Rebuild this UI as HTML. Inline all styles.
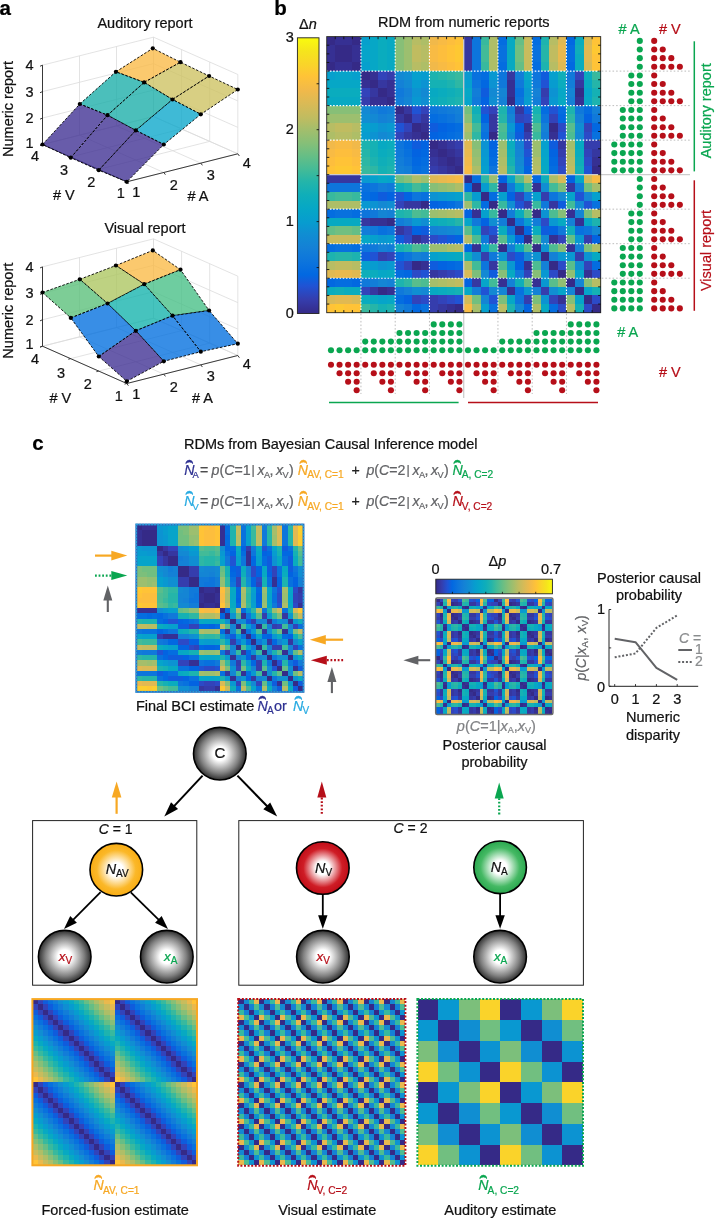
<!DOCTYPE html>
<html lang="en"><head><meta charset="utf-8"><title>Figure</title>
<style>html,body{margin:0;padding:0;background:#fff}svg{display:block}text{font-family:'Liberation Sans', Arial, Helvetica, sans-serif;stroke-width:.22px}.i{font-style:italic}</style>
</head><body>
<svg width="715" height="1218" viewBox="0 0 715 1218">
<rect width="715" height="1218" fill="#fff"/>
<text x="-0.4" y="15.3" text-anchor="start" fill="#000" stroke="#000" font-size="20.5" font-weight="bold">a</text>
<text x="274.2" y="14.8" text-anchor="start" fill="#000" stroke="#000" font-size="20.5" font-weight="bold">b</text>
<text x="32.2" y="450.4" text-anchor="start" fill="#000" stroke="#000" font-size="20.5" font-weight="bold">c</text>
<g id="panel-a">
<line x1="42.5" y1="144.51" x2="153.5" y2="116.52" stroke="#dcdcdc" stroke-width="0.8"/>
<line x1="153.5" y1="116.52" x2="237.8" y2="153.81" stroke="#dcdcdc" stroke-width="0.8"/>
<line x1="42.5" y1="118.06" x2="153.5" y2="90.07" stroke="#dcdcdc" stroke-width="0.8"/>
<line x1="153.5" y1="90.07" x2="237.8" y2="127.36" stroke="#dcdcdc" stroke-width="0.8"/>
<line x1="42.5" y1="91.61" x2="153.5" y2="63.62" stroke="#dcdcdc" stroke-width="0.8"/>
<line x1="153.5" y1="63.62" x2="237.8" y2="100.91" stroke="#dcdcdc" stroke-width="0.8"/>
<line x1="42.5" y1="65.16" x2="153.5" y2="37.17" stroke="#dcdcdc" stroke-width="0.8"/>
<line x1="153.5" y1="37.17" x2="237.8" y2="74.46" stroke="#dcdcdc" stroke-width="0.8"/>
<line x1="42.5" y1="144.51" x2="42.5" y2="65.16" stroke="#dcdcdc" stroke-width="0.8"/>
<line x1="42.5" y1="144.51" x2="126.8" y2="181.8" stroke="#dcdcdc" stroke-width="0.8"/>
<line x1="79.5" y1="135.18" x2="79.5" y2="55.83" stroke="#dcdcdc" stroke-width="0.8"/>
<line x1="79.5" y1="135.18" x2="163.8" y2="172.47" stroke="#dcdcdc" stroke-width="0.8"/>
<line x1="116.5" y1="125.85" x2="116.5" y2="46.5" stroke="#dcdcdc" stroke-width="0.8"/>
<line x1="116.5" y1="125.85" x2="200.8" y2="163.14" stroke="#dcdcdc" stroke-width="0.8"/>
<line x1="153.5" y1="116.52" x2="153.5" y2="37.17" stroke="#dcdcdc" stroke-width="0.8"/>
<line x1="153.5" y1="116.52" x2="237.8" y2="153.81" stroke="#dcdcdc" stroke-width="0.8"/>
<line x1="237.8" y1="153.81" x2="237.8" y2="74.46" stroke="#dcdcdc" stroke-width="0.8"/>
<line x1="237.8" y1="153.81" x2="126.8" y2="181.8" stroke="#dcdcdc" stroke-width="0.8"/>
<line x1="209.7" y1="141.38" x2="209.7" y2="62.03" stroke="#dcdcdc" stroke-width="0.8"/>
<line x1="209.7" y1="141.38" x2="98.7" y2="169.37" stroke="#dcdcdc" stroke-width="0.8"/>
<line x1="181.6" y1="128.95" x2="181.6" y2="49.6" stroke="#dcdcdc" stroke-width="0.8"/>
<line x1="181.6" y1="128.95" x2="70.6" y2="156.94" stroke="#dcdcdc" stroke-width="0.8"/>
<line x1="153.5" y1="116.52" x2="153.5" y2="37.17" stroke="#dcdcdc" stroke-width="0.8"/>
<line x1="153.5" y1="116.52" x2="42.5" y2="144.51" stroke="#dcdcdc" stroke-width="0.8"/>
<line x1="42.5" y1="144.51" x2="42.5" y2="65.16" stroke="#262626" stroke-width="0.9"/>
<line x1="42.5" y1="144.51" x2="126.8" y2="181.8" stroke="#262626" stroke-width="0.9"/>
<line x1="126.8" y1="181.8" x2="237.8" y2="153.81" stroke="#262626" stroke-width="0.9"/>
<line x1="42.5" y1="144.51" x2="40" y2="145.61" stroke="#262626" stroke-width="0.9"/>
<text x="33.5" y="147.51" text-anchor="end" fill="#111" stroke="#111" font-size="14.5">1</text>
<line x1="42.5" y1="118.06" x2="40" y2="119.16" stroke="#262626" stroke-width="0.9"/>
<text x="33.5" y="123.06" text-anchor="end" fill="#111" stroke="#111" font-size="14.5">2</text>
<line x1="42.5" y1="91.61" x2="40" y2="92.71" stroke="#262626" stroke-width="0.9"/>
<text x="33.5" y="96.61" text-anchor="end" fill="#111" stroke="#111" font-size="14.5">3</text>
<line x1="42.5" y1="65.16" x2="40" y2="66.26" stroke="#262626" stroke-width="0.9"/>
<text x="33.5" y="70.16" text-anchor="end" fill="#111" stroke="#111" font-size="14.5">4</text>
<line x1="126.8" y1="181.8" x2="124.5" y2="182.4" stroke="#262626" stroke-width="0.9"/>
<line x1="98.7" y1="169.37" x2="96.4" y2="169.97" stroke="#262626" stroke-width="0.9"/>
<line x1="70.6" y1="156.94" x2="68.3" y2="157.54" stroke="#262626" stroke-width="0.9"/>
<line x1="42.5" y1="144.51" x2="40.2" y2="145.11" stroke="#262626" stroke-width="0.9"/>
<line x1="126.8" y1="181.8" x2="128.4" y2="184" stroke="#262626" stroke-width="0.9"/>
<line x1="163.8" y1="172.47" x2="165.4" y2="174.67" stroke="#262626" stroke-width="0.9"/>
<line x1="200.8" y1="163.14" x2="202.4" y2="165.34" stroke="#262626" stroke-width="0.9"/>
<line x1="237.8" y1="153.81" x2="239.4" y2="156.01" stroke="#262626" stroke-width="0.9"/>
<text x="35.1" y="161" text-anchor="middle" fill="#111" stroke="#111" font-size="14.5">4</text>
<text x="64" y="175" text-anchor="middle" fill="#111" stroke="#111" font-size="14.5">3</text>
<text x="91.4" y="186.5" text-anchor="middle" fill="#111" stroke="#111" font-size="14.5">2</text>
<text x="120.7" y="198.4" text-anchor="middle" fill="#111" stroke="#111" font-size="14.5">1</text>
<text x="136.4" y="197.4" text-anchor="middle" fill="#111" stroke="#111" font-size="14.5">1</text>
<text x="173.7" y="190" text-anchor="middle" fill="#111" stroke="#111" font-size="14.5">2</text>
<text x="210.7" y="179.7" text-anchor="middle" fill="#111" stroke="#111" font-size="14.5">3</text>
<text x="246.8" y="167.5" text-anchor="middle" fill="#111" stroke="#111" font-size="14.5">4</text>
<text x="63.8" y="199.7" text-anchor="middle" fill="#111" stroke="#111" font-size="14.5"># V</text>
<text x="197.9" y="200.6" text-anchor="middle" fill="#111" stroke="#111" font-size="14.5"># A</text>
<text transform="translate(12.6,109) rotate(-90)" text-anchor="middle" fill="#111" stroke="#111" font-size="14.5">Numeric report</text>
<text x="145" y="28" text-anchor="middle" fill="#111" stroke="#111" font-size="14.5">Auditory report</text>
<polygon points="115.9,71.8 152.8,48.3 180.5,62.2 144.2,82.4" fill="#faba45" fill-opacity="0.78" stroke="#000" stroke-width="0.9" stroke-dasharray="2.6 1.6"/>
<polygon points="79.8,104 115.9,71.8 144.2,82.4 107.5,115.2" fill="#18ada8" fill-opacity="0.78" stroke="#000" stroke-width="0.9" stroke-dasharray="2.6 1.6"/>
<polygon points="42.5,144.5 79.8,104 107.5,115.2 70.8,157.7" fill="#3d2e92" fill-opacity="0.78" stroke="#000" stroke-width="0.9" stroke-dasharray="2.6 1.6"/>
<polygon points="144.2,82.4 180.5,62.2 209.1,76 172.5,99.5" fill="#cdc160" fill-opacity="0.78" stroke="#000" stroke-width="0.9" stroke-dasharray="2.6 1.6"/>
<polygon points="107.5,115.2 144.2,82.4 172.5,99.5 135.8,130.4" fill="#18ada8" fill-opacity="0.78" stroke="#000" stroke-width="0.9" stroke-dasharray="2.6 1.6"/>
<polygon points="70.8,157.7 107.5,115.2 135.8,130.4 98.8,170.2" fill="#3d2e92" fill-opacity="0.78" stroke="#000" stroke-width="0.9" stroke-dasharray="2.6 1.6"/>
<polygon points="172.5,99.5 209.1,76 237.8,89.5 200.8,114.3" fill="#cdc160" fill-opacity="0.78" stroke="#000" stroke-width="0.9" stroke-dasharray="2.6 1.6"/>
<polygon points="135.8,130.4 172.5,99.5 200.8,114.3 163.8,144.5" fill="#09a7ca" fill-opacity="0.78" stroke="#000" stroke-width="0.9" stroke-dasharray="2.6 1.6"/>
<polygon points="98.8,170.2 135.8,130.4 163.8,144.5 126.8,181.8" fill="#3d2e92" fill-opacity="0.78" stroke="#000" stroke-width="0.9" stroke-dasharray="2.6 1.6"/>
<circle cx="42.5" cy="144.5" r="2.1" fill="#000"/>
<circle cx="79.8" cy="104" r="2.1" fill="#000"/>
<circle cx="115.9" cy="71.8" r="2.1" fill="#000"/>
<circle cx="152.8" cy="48.3" r="2.1" fill="#000"/>
<circle cx="70.8" cy="157.7" r="2.1" fill="#000"/>
<circle cx="107.5" cy="115.2" r="2.1" fill="#000"/>
<circle cx="144.2" cy="82.4" r="2.1" fill="#000"/>
<circle cx="180.5" cy="62.2" r="2.1" fill="#000"/>
<circle cx="98.8" cy="170.2" r="2.1" fill="#000"/>
<circle cx="135.8" cy="130.4" r="2.1" fill="#000"/>
<circle cx="172.5" cy="99.5" r="2.1" fill="#000"/>
<circle cx="209.1" cy="76" r="2.1" fill="#000"/>
<circle cx="126.8" cy="181.8" r="2.1" fill="#000"/>
<circle cx="163.8" cy="144.5" r="2.1" fill="#000"/>
<circle cx="200.8" cy="114.3" r="2.1" fill="#000"/>
<circle cx="237.8" cy="89.5" r="2.1" fill="#000"/>
<line x1="42.5" y1="346.21" x2="153.5" y2="318.22" stroke="#dcdcdc" stroke-width="0.8"/>
<line x1="153.5" y1="318.22" x2="237.8" y2="355.51" stroke="#dcdcdc" stroke-width="0.8"/>
<line x1="42.5" y1="319.76" x2="153.5" y2="291.77" stroke="#dcdcdc" stroke-width="0.8"/>
<line x1="153.5" y1="291.77" x2="237.8" y2="329.06" stroke="#dcdcdc" stroke-width="0.8"/>
<line x1="42.5" y1="293.31" x2="153.5" y2="265.32" stroke="#dcdcdc" stroke-width="0.8"/>
<line x1="153.5" y1="265.32" x2="237.8" y2="302.61" stroke="#dcdcdc" stroke-width="0.8"/>
<line x1="42.5" y1="266.86" x2="153.5" y2="238.87" stroke="#dcdcdc" stroke-width="0.8"/>
<line x1="153.5" y1="238.87" x2="237.8" y2="276.16" stroke="#dcdcdc" stroke-width="0.8"/>
<line x1="42.5" y1="346.21" x2="42.5" y2="266.86" stroke="#dcdcdc" stroke-width="0.8"/>
<line x1="42.5" y1="346.21" x2="126.8" y2="383.5" stroke="#dcdcdc" stroke-width="0.8"/>
<line x1="79.5" y1="336.88" x2="79.5" y2="257.53" stroke="#dcdcdc" stroke-width="0.8"/>
<line x1="79.5" y1="336.88" x2="163.8" y2="374.17" stroke="#dcdcdc" stroke-width="0.8"/>
<line x1="116.5" y1="327.55" x2="116.5" y2="248.2" stroke="#dcdcdc" stroke-width="0.8"/>
<line x1="116.5" y1="327.55" x2="200.8" y2="364.84" stroke="#dcdcdc" stroke-width="0.8"/>
<line x1="153.5" y1="318.22" x2="153.5" y2="238.87" stroke="#dcdcdc" stroke-width="0.8"/>
<line x1="153.5" y1="318.22" x2="237.8" y2="355.51" stroke="#dcdcdc" stroke-width="0.8"/>
<line x1="237.8" y1="355.51" x2="237.8" y2="276.16" stroke="#dcdcdc" stroke-width="0.8"/>
<line x1="237.8" y1="355.51" x2="126.8" y2="383.5" stroke="#dcdcdc" stroke-width="0.8"/>
<line x1="209.7" y1="343.08" x2="209.7" y2="263.73" stroke="#dcdcdc" stroke-width="0.8"/>
<line x1="209.7" y1="343.08" x2="98.7" y2="371.07" stroke="#dcdcdc" stroke-width="0.8"/>
<line x1="181.6" y1="330.65" x2="181.6" y2="251.3" stroke="#dcdcdc" stroke-width="0.8"/>
<line x1="181.6" y1="330.65" x2="70.6" y2="358.64" stroke="#dcdcdc" stroke-width="0.8"/>
<line x1="153.5" y1="318.22" x2="153.5" y2="238.87" stroke="#dcdcdc" stroke-width="0.8"/>
<line x1="153.5" y1="318.22" x2="42.5" y2="346.21" stroke="#dcdcdc" stroke-width="0.8"/>
<line x1="42.5" y1="346.21" x2="42.5" y2="266.86" stroke="#262626" stroke-width="0.9"/>
<line x1="42.5" y1="346.21" x2="126.8" y2="383.5" stroke="#262626" stroke-width="0.9"/>
<line x1="126.8" y1="383.5" x2="237.8" y2="355.51" stroke="#262626" stroke-width="0.9"/>
<line x1="42.5" y1="346.21" x2="40" y2="347.31" stroke="#262626" stroke-width="0.9"/>
<text x="33.5" y="349.21" text-anchor="end" fill="#111" stroke="#111" font-size="14.5">1</text>
<line x1="42.5" y1="319.76" x2="40" y2="320.86" stroke="#262626" stroke-width="0.9"/>
<text x="33.5" y="324.76" text-anchor="end" fill="#111" stroke="#111" font-size="14.5">2</text>
<line x1="42.5" y1="293.31" x2="40" y2="294.41" stroke="#262626" stroke-width="0.9"/>
<text x="33.5" y="298.31" text-anchor="end" fill="#111" stroke="#111" font-size="14.5">3</text>
<line x1="42.5" y1="266.86" x2="40" y2="267.96" stroke="#262626" stroke-width="0.9"/>
<text x="33.5" y="271.86" text-anchor="end" fill="#111" stroke="#111" font-size="14.5">4</text>
<line x1="126.8" y1="383.5" x2="124.5" y2="384.1" stroke="#262626" stroke-width="0.9"/>
<line x1="98.7" y1="371.07" x2="96.4" y2="371.67" stroke="#262626" stroke-width="0.9"/>
<line x1="70.6" y1="358.64" x2="68.3" y2="359.24" stroke="#262626" stroke-width="0.9"/>
<line x1="42.5" y1="346.21" x2="40.2" y2="346.81" stroke="#262626" stroke-width="0.9"/>
<line x1="126.8" y1="383.5" x2="128.4" y2="385.7" stroke="#262626" stroke-width="0.9"/>
<line x1="163.8" y1="374.17" x2="165.4" y2="376.37" stroke="#262626" stroke-width="0.9"/>
<line x1="200.8" y1="364.84" x2="202.4" y2="367.04" stroke="#262626" stroke-width="0.9"/>
<line x1="237.8" y1="355.51" x2="239.4" y2="357.71" stroke="#262626" stroke-width="0.9"/>
<text x="35.1" y="363.7" text-anchor="middle" fill="#111" stroke="#111" font-size="14.5">4</text>
<text x="61" y="377.7" text-anchor="middle" fill="#111" stroke="#111" font-size="14.5">3</text>
<text x="87.9" y="389.2" text-anchor="middle" fill="#111" stroke="#111" font-size="14.5">2</text>
<text x="118.7" y="401.1" text-anchor="middle" fill="#111" stroke="#111" font-size="14.5">1</text>
<text x="136.4" y="399.1" text-anchor="middle" fill="#111" stroke="#111" font-size="14.5">1</text>
<text x="173.7" y="391.7" text-anchor="middle" fill="#111" stroke="#111" font-size="14.5">2</text>
<text x="210.7" y="381.4" text-anchor="middle" fill="#111" stroke="#111" font-size="14.5">3</text>
<text x="246.8" y="369.2" text-anchor="middle" fill="#111" stroke="#111" font-size="14.5">4</text>
<text x="60.3" y="403" text-anchor="middle" fill="#111" stroke="#111" font-size="14.5"># V</text>
<text x="202.4" y="403.3" text-anchor="middle" fill="#111" stroke="#111" font-size="14.5"># A</text>
<text transform="translate(12.6,310.7) rotate(-90)" text-anchor="middle" fill="#111" stroke="#111" font-size="14.5">Numeric report</text>
<text x="145" y="233.1" text-anchor="middle" fill="#111" stroke="#111" font-size="14.5">Visual report</text>
<polygon points="115.9,265.5 152.8,250.4 180.5,269.7 144.2,284.2" fill="#faba45" fill-opacity="0.78" stroke="#000" stroke-width="0.9" stroke-dasharray="2.6 1.6"/>
<polygon points="79.8,279.3 115.9,265.5 144.2,284.2 107.5,303.5" fill="#acc55f" fill-opacity="0.78" stroke="#000" stroke-width="0.9" stroke-dasharray="2.6 1.6"/>
<polygon points="42.5,292.5 79.8,279.3 107.5,303.5 70.8,317.9" fill="#58bf78" fill-opacity="0.78" stroke="#000" stroke-width="0.9" stroke-dasharray="2.6 1.6"/>
<polygon points="144.2,284.2 180.5,269.7 209.1,310.5 172.5,315.7" fill="#45bf85" fill-opacity="0.78" stroke="#000" stroke-width="0.9" stroke-dasharray="2.6 1.6"/>
<polygon points="107.5,303.5 144.2,284.2 172.5,315.7 135.8,330.8" fill="#12b2ac" fill-opacity="0.78" stroke="#000" stroke-width="0.9" stroke-dasharray="2.6 1.6"/>
<polygon points="70.8,317.9 107.5,303.5 135.8,330.8 98.8,356.5" fill="#006edf" fill-opacity="0.78" stroke="#000" stroke-width="0.9" stroke-dasharray="2.6 1.6"/>
<polygon points="172.5,315.7 209.1,310.5 237.8,343.7 200.8,351.7" fill="#006edf" fill-opacity="0.78" stroke="#000" stroke-width="0.9" stroke-dasharray="2.6 1.6"/>
<polygon points="135.8,330.8 172.5,315.7 200.8,351.7 163.8,361.3" fill="#006edf" fill-opacity="0.78" stroke="#000" stroke-width="0.9" stroke-dasharray="2.6 1.6"/>
<polygon points="98.8,356.5 135.8,330.8 163.8,361.3 126.8,381.3" fill="#3d2e92" fill-opacity="0.78" stroke="#000" stroke-width="0.9" stroke-dasharray="2.6 1.6"/>
<circle cx="42.5" cy="292.5" r="2.1" fill="#000"/>
<circle cx="79.8" cy="279.3" r="2.1" fill="#000"/>
<circle cx="115.9" cy="265.5" r="2.1" fill="#000"/>
<circle cx="152.8" cy="250.4" r="2.1" fill="#000"/>
<circle cx="70.8" cy="317.9" r="2.1" fill="#000"/>
<circle cx="107.5" cy="303.5" r="2.1" fill="#000"/>
<circle cx="144.2" cy="284.2" r="2.1" fill="#000"/>
<circle cx="180.5" cy="269.7" r="2.1" fill="#000"/>
<circle cx="98.8" cy="356.5" r="2.1" fill="#000"/>
<circle cx="135.8" cy="330.8" r="2.1" fill="#000"/>
<circle cx="172.5" cy="315.7" r="2.1" fill="#000"/>
<circle cx="209.1" cy="310.5" r="2.1" fill="#000"/>
<circle cx="126.8" cy="381.3" r="2.1" fill="#000"/>
<circle cx="163.8" cy="361.3" r="2.1" fill="#000"/>
<circle cx="200.8" cy="351.7" r="2.1" fill="#000"/>
<circle cx="237.8" cy="343.7" r="2.1" fill="#000"/>
</g>
<g id="panel-b">
<g transform="translate(326.7,36.6) scale(8.56250,8.62813)" shape-rendering="crispEdges">
<path fill="#352a87" d="M0 0h1v1h-1zM3 0h1v1h-1zM1 1h2v1h-2zM1 2h2v1h-2zM0 3h1v1h-1zM3 3h1v1h-1zM4 4h1v1h-1zM5 5h1v1h-1zM6 6h1v1h-1zM29 6h1v1h-1zM7 7h1v1h-1zM21 7h1v1h-1zM8 8h1v1h-1zM9 9h1v1h-1zM10 10h1v1h-1zM26 10h1v1h-1zM11 11h1v1h-1zM19 11h1v1h-1zM12 12h1v1h-1zM13 13h1v1h-1zM14 14h1v1h-1zM15 15h1v1h-1zM31 15h1v1h-1zM16 16h1v1h-1zM17 17h1v1h-1zM18 18h1v1h-1zM11 19h1v1h-1zM19 19h1v1h-1zM20 20h1v1h-1zM24 20h1v1h-1zM7 21h1v1h-1zM21 21h1v1h-1zM22 22h1v1h-1zM23 23h1v1h-1zM20 24h1v1h-1zM24 24h1v1h-1zM25 25h1v1h-1zM10 26h1v1h-1zM26 26h1v1h-1zM27 27h1v1h-1zM28 28h1v1h-1zM6 29h1v1h-1zM29 29h1v1h-1zM30 30h1v1h-1zM15 31h1v1h-1zM31 31h1v1h-1z"/>
<path fill="#363093" d="M1 0h2v1h-2zM0 1h1v1h-1zM3 1h1v1h-1zM0 2h1v1h-1zM3 2h1v1h-1zM1 3h2v1h-2zM5 4h1v1h-1zM4 5h1v1h-1zM7 5h1v1h-1zM21 5h1v1h-1zM7 6h1v1h-1zM21 6h1v1h-1zM5 7h2v1h-2zM29 7h1v1h-1zM11 10h1v1h-1zM23 10h1v1h-1zM10 11h1v1h-1zM26 11h1v1h-1zM13 12h1v1h-1zM12 13h1v1h-1zM14 13h1v1h-1zM13 14h1v1h-1zM15 14h1v1h-1zM31 14h1v1h-1zM14 15h1v1h-1zM20 17h1v1h-1zM24 17h1v1h-1zM17 20h1v1h-1zM28 20h1v1h-1zM5 21h2v1h-2zM29 21h1v1h-1zM10 23h1v1h-1zM26 23h1v1h-1zM17 24h1v1h-1zM28 24h1v1h-1zM11 26h1v1h-1zM23 26h1v1h-1zM30 27h1v1h-1zM20 28h1v1h-1zM24 28h1v1h-1zM7 29h1v1h-1zM21 29h1v1h-1zM27 30h1v1h-1zM14 31h1v1h-1z"/>
<path fill="#3637a0" d="M16 0h1v1h-1zM16 1h1v1h-1zM16 2h1v1h-1zM16 3h1v1h-1zM21 4h1v1h-1zM6 5h1v1h-1zM29 5h1v1h-1zM5 6h1v1h-1zM9 8h1v1h-1zM22 8h1v1h-1zM8 9h1v1h-1zM11 9h1v1h-1zM19 9h1v1h-1zM19 10h1v1h-1zM9 11h1v1h-1zM14 12h1v1h-1zM27 12h1v1h-1zM15 13h1v1h-1zM31 13h1v1h-1zM12 14h1v1h-1zM13 15h1v1h-1zM0 16h4v1h-4zM28 17h1v1h-1zM9 19h2v1h-2zM26 19h1v1h-1zM4 21h1v1h-1zM8 22h1v1h-1zM19 26h1v1h-1zM12 27h1v1h-1zM17 28h1v1h-1zM5 29h1v1h-1zM13 31h1v1h-1z"/>
<path fill="#353dad" d="M7 4h1v1h-1zM25 6h1v1h-1zM4 7h1v1h-1zM23 11h1v1h-1zM15 12h1v1h-1zM30 12h2v1h-2zM27 13h1v1h-1zM12 15h1v1h-1zM25 18h1v1h-1zM23 19h1v1h-1zM11 23h1v1h-1zM19 23h1v1h-1zM30 23h1v1h-1zM6 25h1v1h-1zM18 25h1v1h-1zM29 25h1v1h-1zM13 27h1v1h-1zM25 29h1v1h-1zM12 30h1v1h-1zM23 30h1v1h-1zM12 31h1v1h-1z"/>
<path fill="#3243ba" d="M6 4h1v1h-1zM29 4h1v1h-1zM4 6h1v1h-1zM25 7h1v1h-1zM11 8h1v1h-1zM19 8h1v1h-1zM10 9h1v1h-1zM22 9h1v1h-1zM26 9h1v1h-1zM9 10h1v1h-1zM30 10h1v1h-1zM8 11h1v1h-1zM30 13h1v1h-1zM27 14h1v1h-1zM22 18h1v1h-1zM8 19h1v1h-1zM9 22h1v1h-1zM18 22h1v1h-1zM27 23h1v1h-1zM7 25h1v1h-1zM9 26h1v1h-1zM30 26h1v1h-1zM14 27h1v1h-1zM23 27h1v1h-1zM4 29h1v1h-1zM10 30h1v1h-1zM13 30h1v1h-1zM26 30h1v1h-1z"/>
<path fill="#2c4ac7" d="M23 9h1v1h-1zM27 10h1v1h-1zM30 11h1v1h-1zM23 12h1v1h-1zM30 14h1v1h-1zM27 15h1v1h-1zM25 21h1v1h-1zM9 23h1v1h-1zM12 23h1v1h-1zM21 25h1v1h-1zM27 26h1v1h-1zM10 27h1v1h-1zM15 27h1v1h-1zM26 27h1v1h-1zM31 27h1v1h-1zM11 30h1v1h-1zM14 30h1v1h-1zM31 30h1v1h-1zM27 31h1v1h-1zM30 31h1v1h-1z"/>
<path fill="#2053d4" d="M25 5h1v1h-1zM10 8h1v1h-1zM18 8h1v1h-1zM26 8h1v1h-1zM8 10h1v1h-1zM27 11h1v1h-1zM23 13h1v1h-1zM30 15h1v1h-1zM8 18h1v1h-1zM29 18h1v1h-1zM22 19h1v1h-1zM30 19h1v1h-1zM19 22h1v1h-1zM13 23h1v1h-1zM5 25h1v1h-1zM8 26h1v1h-1zM11 27h1v1h-1zM18 29h1v1h-1zM15 30h1v1h-1zM19 30h1v1h-1z"/>
<path fill="#0f5cdd" d="M25 4h1v1h-1zM18 6h1v1h-1zM23 8h1v1h-1zM12 10h1v1h-1zM22 11h1v1h-1zM10 12h1v1h-1zM26 12h1v1h-1zM23 14h1v1h-1zM6 18h1v1h-1zM27 19h1v1h-1zM11 22h1v1h-1zM25 22h1v1h-1zM8 23h1v1h-1zM14 23h1v1h-1zM4 25h1v1h-1zM22 25h1v1h-1zM12 26h1v1h-1zM19 27h1v1h-1z"/>
<path fill="#0363e1" d="M18 7h1v1h-1zM18 9h1v1h-1zM30 9h1v1h-1zM13 10h1v1h-1zM22 10h1v1h-1zM12 11h1v1h-1zM11 12h1v1h-1zM19 12h1v1h-1zM10 13h1v1h-1zM26 13h1v1h-1zM23 15h1v1h-1zM20 16h1v1h-1zM28 16h1v1h-1zM7 18h1v1h-1zM9 18h1v1h-1zM21 18h1v1h-1zM12 19h1v1h-1zM16 20h1v1h-1zM18 21h1v1h-1zM10 22h1v1h-1zM26 22h1v1h-1zM15 23h1v1h-1zM31 23h1v1h-1zM13 26h1v1h-1zM22 26h1v1h-1zM16 28h1v1h-1zM9 30h1v1h-1zM23 31h1v1h-1z"/>
<path fill="#0268e1" d="M28 0h1v1h-1zM28 3h1v1h-1zM18 5h1v1h-1zM27 9h1v1h-1zM14 10h1v1h-1zM31 10h1v1h-1zM13 11h1v1h-1zM11 13h1v1h-1zM19 13h1v1h-1zM10 14h1v1h-1zM26 14h1v1h-1zM24 16h1v1h-1zM5 18h1v1h-1zM13 19h1v1h-1zM23 22h1v1h-1zM22 23h1v1h-1zM16 24h1v1h-1zM14 26h1v1h-1zM9 27h1v1h-1zM0 28h1v1h-1zM3 28h1v1h-1zM10 31h1v1h-1z"/>
<path fill="#046de0" d="M20 0h1v1h-1zM24 0h1v1h-1zM28 1h1v1h-1zM28 2h1v1h-1zM20 3h1v1h-1zM24 3h1v1h-1zM18 4h1v1h-1zM25 8h1v1h-1zM27 8h1v1h-1zM30 8h1v1h-1zM12 9h1v1h-1zM15 10h1v1h-1zM14 11h1v1h-1zM9 12h1v1h-1zM11 14h1v1h-1zM19 14h1v1h-1zM10 15h1v1h-1zM26 15h1v1h-1zM17 16h1v1h-1zM16 17h1v1h-1zM4 18h1v1h-1zM19 18h1v1h-1zM14 19h1v1h-1zM18 19h1v1h-1zM0 20h1v1h-1zM3 20h1v1h-1zM0 24h1v1h-1zM3 24h1v1h-1zM8 25h1v1h-1zM15 26h1v1h-1zM31 26h1v1h-1zM8 27h1v1h-1zM1 28h2v1h-2zM8 30h1v1h-1zM26 31h1v1h-1z"/>
<path fill="#0871de" d="M20 1h1v1h-1zM24 1h1v1h-1zM20 2h1v1h-1zM24 2h1v1h-1zM17 4h1v1h-1zM22 6h1v1h-1zM13 9h1v1h-1zM15 11h1v1h-1zM18 11h1v1h-1zM31 11h1v1h-1zM9 13h1v1h-1zM11 15h1v1h-1zM4 17h1v1h-1zM11 18h1v1h-1zM31 19h1v1h-1zM1 20h2v1h-2zM6 22h1v1h-1zM29 22h1v1h-1zM1 24h2v1h-2zM22 29h1v1h-1zM11 31h1v1h-1zM19 31h1v1h-1z"/>
<path fill="#0d75dc" d="M17 0h1v1h-1zM17 1h1v1h-1zM17 2h1v1h-1zM17 3h1v1h-1zM20 4h1v1h-1zM24 4h1v1h-1zM17 5h1v1h-1zM22 7h1v1h-1zM12 8h1v1h-1zM14 9h1v1h-1zM25 9h1v1h-1zM18 10h1v1h-1zM8 12h1v1h-1zM9 14h1v1h-1zM19 15h1v1h-1zM0 17h4v1h-4zM5 17h1v1h-1zM10 18h1v1h-1zM26 18h1v1h-1zM15 19h1v1h-1zM4 20h1v1h-1zM22 21h1v1h-1zM7 22h1v1h-1zM21 22h1v1h-1zM30 22h1v1h-1zM4 24h1v1h-1zM9 25h1v1h-1zM18 26h1v1h-1zM22 30h1v1h-1z"/>
<path fill="#1079da" d="M28 4h1v1h-1zM20 5h1v1h-1zM22 5h1v1h-1zM24 5h1v1h-1zM8 6h1v1h-1zM17 7h1v1h-1zM6 8h1v1h-1zM13 8h1v1h-1zM29 8h1v1h-1zM31 9h1v1h-1zM8 13h1v1h-1zM7 17h1v1h-1zM21 17h1v1h-1zM23 18h1v1h-1zM25 19h1v1h-1zM5 20h1v1h-1zM17 21h1v1h-1zM5 22h1v1h-1zM27 22h1v1h-1zM18 23h1v1h-1zM5 24h1v1h-1zM19 25h1v1h-1zM22 27h1v1h-1zM4 28h1v1h-1zM8 29h1v1h-1zM9 31h1v1h-1z"/>
<path fill="#127dd8" d="M22 4h1v1h-1zM28 5h1v1h-1zM17 6h1v1h-1zM8 7h1v1h-1zM24 7h1v1h-1zM7 8h1v1h-1zM14 8h1v1h-1zM21 8h1v1h-1zM15 9h1v1h-1zM25 11h1v1h-1zM8 14h1v1h-1zM9 15h1v1h-1zM6 17h1v1h-1zM29 17h1v1h-1zM21 20h1v1h-1zM8 21h1v1h-1zM20 21h1v1h-1zM24 21h1v1h-1zM4 22h1v1h-1zM7 24h1v1h-1zM21 24h1v1h-1zM11 25h1v1h-1zM5 28h1v1h-1zM17 29h1v1h-1z"/>
<path fill="#1481d6" d="M8 5h1v1h-1zM9 6h1v1h-1zM24 6h1v1h-1zM20 7h1v1h-1zM28 7h1v1h-1zM5 8h1v1h-1zM15 8h1v1h-1zM31 8h1v1h-1zM6 9h1v1h-1zM29 9h1v1h-1zM25 10h1v1h-1zM22 12h1v1h-1zM8 15h1v1h-1zM7 20h1v1h-1zM28 21h1v1h-1zM12 22h1v1h-1zM6 24h1v1h-1zM29 24h1v1h-1zM10 25h1v1h-1zM26 25h1v1h-1zM25 26h1v1h-1zM7 28h1v1h-1zM21 28h1v1h-1zM9 29h1v1h-1zM24 29h1v1h-1zM8 31h1v1h-1z"/>
<path fill="#1485d4" d="M20 6h1v1h-1zM28 6h1v1h-1zM9 7h1v1h-1zM7 9h1v1h-1zM21 9h1v1h-1zM22 13h1v1h-1zM30 18h1v1h-1zM6 20h1v1h-1zM29 20h1v1h-1zM9 21h1v1h-1zM13 22h1v1h-1zM6 28h1v1h-1zM29 28h1v1h-1zM20 29h1v1h-1zM28 29h1v1h-1zM18 30h1v1h-1z"/>
<path fill="#1389d3" d="M8 4h1v1h-1zM9 5h1v1h-1zM11 6h1v1h-1zM19 6h1v1h-1zM4 8h1v1h-1zM5 9h1v1h-1zM6 11h1v1h-1zM29 11h1v1h-1zM22 14h1v1h-1zM27 18h1v1h-1zM6 19h1v1h-1zM29 19h1v1h-1zM14 22h1v1h-1zM31 22h1v1h-1zM25 23h1v1h-1zM23 25h1v1h-1zM18 27h1v1h-1zM11 29h1v1h-1zM19 29h1v1h-1zM22 31h1v1h-1z"/>
<path fill="#108ed2" d="M9 4h1v1h-1zM11 7h1v1h-1zM19 7h1v1h-1zM4 9h1v1h-1zM29 10h1v1h-1zM7 11h1v1h-1zM21 11h1v1h-1zM22 15h1v1h-1zM25 17h1v1h-1zM7 19h1v1h-1zM21 19h1v1h-1zM11 21h1v1h-1zM19 21h1v1h-1zM15 22h1v1h-1zM17 25h1v1h-1zM29 26h1v1h-1zM10 29h1v1h-1zM26 29h1v1h-1z"/>
<path fill="#0c93d2" d="M11 5h1v1h-1zM19 5h1v1h-1zM10 6h1v1h-1zM26 6h1v1h-1zM6 10h1v1h-1zM5 11h1v1h-1zM18 12h1v1h-1zM12 18h1v1h-1zM5 19h1v1h-1zM25 20h1v1h-1zM25 24h1v1h-1zM20 25h1v1h-1zM24 25h1v1h-1zM30 25h1v1h-1zM6 26h1v1h-1zM25 30h1v1h-1z"/>
<path fill="#0998d1" d="M16 4h1v1h-1zM19 4h1v1h-1zM23 6h1v1h-1zM10 7h1v1h-1zM26 7h1v1h-1zM7 10h1v1h-1zM21 10h1v1h-1zM18 13h1v1h-1zM4 16h1v1h-1zM13 18h1v1h-1zM4 19h1v1h-1zM10 21h1v1h-1zM26 21h1v1h-1zM6 23h1v1h-1zM29 23h1v1h-1zM27 25h2v1h-2zM7 26h1v1h-1zM21 26h1v1h-1zM25 27h1v1h-1zM25 28h1v1h-1zM23 29h1v1h-1z"/>
<path fill="#079ccf" d="M11 4h1v1h-1zM10 5h1v1h-1zM26 5h1v1h-1zM23 7h1v1h-1zM5 10h1v1h-1zM4 11h1v1h-1zM18 14h1v1h-1zM18 17h1v1h-1zM14 18h1v1h-1zM17 18h1v1h-1zM23 21h1v1h-1zM7 23h1v1h-1zM21 23h1v1h-1zM5 26h1v1h-1z"/>
<path fill="#06a0cd" d="M4 0h1v1h-1zM4 3h1v1h-1zM0 4h1v1h-1zM3 4h1v1h-1zM10 4h1v1h-1zM26 4h1v1h-1zM16 5h1v1h-1zM23 5h1v1h-1zM4 10h1v1h-1zM25 12h1v1h-1zM18 15h1v1h-1zM5 16h1v1h-1zM15 18h1v1h-1zM20 18h1v1h-1zM24 18h1v1h-1zM31 18h1v1h-1zM18 20h1v1h-1zM5 23h1v1h-1zM18 24h1v1h-1zM12 25h1v1h-1zM4 26h1v1h-1zM18 31h1v1h-1z"/>
<path fill="#06a4ca" d="M4 1h1v1h-1zM4 2h1v1h-1zM1 4h2v1h-2zM30 6h1v1h-1zM16 7h1v1h-1zM25 13h1v1h-1zM7 16h1v1h-1zM21 16h1v1h-1zM28 18h1v1h-1zM16 21h1v1h-1zM13 25h1v1h-1zM29 27h1v1h-1zM18 28h1v1h-1zM27 29h1v1h-1zM30 29h1v1h-1zM6 30h1v1h-1zM29 30h1v1h-1z"/>
<path fill="#06a7c6" d="M5 0h1v1h-1zM5 1h1v1h-1zM5 2h1v1h-1zM5 3h1v1h-1zM23 4h1v1h-1zM0 5h4v1h-4zM16 6h1v1h-1zM27 6h1v1h-1zM30 7h1v1h-1zM25 14h1v1h-1zM6 16h1v1h-1zM29 16h1v1h-1zM30 21h1v1h-1zM4 23h1v1h-1zM14 25h1v1h-1zM6 27h1v1h-1zM16 29h1v1h-1zM7 30h1v1h-1zM21 30h1v1h-1z"/>
<path fill="#07a9c2" d="M7 0h1v1h-1zM21 0h1v1h-1zM7 1h1v1h-1zM21 1h1v1h-1zM7 2h1v1h-1zM21 2h1v1h-1zM7 3h1v1h-1zM21 3h1v1h-1zM30 5h1v1h-1zM12 6h1v1h-1zM0 7h4v1h-4zM27 7h1v1h-1zM6 12h1v1h-1zM29 12h1v1h-1zM25 15h1v1h-1zM22 17h1v1h-1zM0 21h4v1h-4zM27 21h1v1h-1zM17 22h1v1h-1zM15 25h1v1h-1zM31 25h1v1h-1zM7 27h1v1h-1zM21 27h1v1h-1zM12 29h1v1h-1zM5 30h1v1h-1zM25 31h1v1h-1z"/>
<path fill="#0aacbe" d="M6 0h1v1h-1zM29 0h1v1h-1zM6 1h1v1h-1zM6 2h1v1h-1zM29 2h1v1h-1zM6 3h1v1h-1zM29 3h1v1h-1zM30 4h1v1h-1zM27 5h1v1h-1zM0 6h4v1h-4zM13 6h1v1h-1zM12 7h1v1h-1zM7 12h1v1h-1zM21 12h1v1h-1zM6 13h1v1h-1zM29 13h1v1h-1zM22 20h1v1h-1zM12 21h1v1h-1zM20 22h1v1h-1zM24 22h1v1h-1zM22 24h1v1h-1zM5 27h1v1h-1zM0 29h1v1h-1zM2 29h2v1h-2zM13 29h1v1h-1zM4 30h1v1h-1z"/>
<path fill="#0faeb9" d="M29 1h1v1h-1zM27 4h1v1h-1zM14 6h1v1h-1zM13 7h1v1h-1zM17 8h1v1h-1zM7 13h1v1h-1zM21 13h1v1h-1zM6 14h1v1h-1zM29 14h1v1h-1zM25 16h1v1h-1zM8 17h1v1h-1zM13 21h1v1h-1zM28 22h1v1h-1zM16 25h1v1h-1zM4 27h1v1h-1zM22 28h1v1h-1zM1 29h1v1h-1zM14 29h1v1h-1z"/>
<path fill="#15b1b4" d="M12 5h2v1h-2zM15 6h1v1h-1zM31 6h1v1h-1zM14 7h1v1h-1zM24 8h1v1h-1zM5 12h1v1h-1zM5 13h1v1h-1zM7 14h1v1h-1zM21 14h1v1h-1zM6 15h1v1h-1zM29 15h1v1h-1zM14 21h1v1h-1zM8 24h1v1h-1zM15 29h1v1h-1zM31 29h1v1h-1zM6 31h1v1h-1zM29 31h1v1h-1z"/>
<path fill="#1db3af" d="M25 0h1v1h-1zM25 3h1v1h-1zM12 4h1v1h-1zM14 5h1v1h-1zM15 7h1v1h-1zM31 7h1v1h-1zM20 8h1v1h-1zM28 8h1v1h-1zM17 9h1v1h-1zM4 12h1v1h-1zM5 14h1v1h-1zM7 15h1v1h-1zM9 17h1v1h-1zM8 20h1v1h-1zM31 21h1v1h-1zM0 25h1v1h-1zM3 25h1v1h-1zM8 28h1v1h-1zM7 31h1v1h-1zM21 31h1v1h-1z"/>
<path fill="#25b5a9" d="M25 1h1v1h-1zM25 2h1v1h-1zM13 4h1v1h-1zM31 5h1v1h-1zM20 9h1v1h-1zM24 9h1v1h-1zM4 13h1v1h-1zM21 15h1v1h-1zM9 20h1v1h-1zM15 21h1v1h-1zM9 24h1v1h-1zM1 25h2v1h-2zM5 31h1v1h-1z"/>
<path fill="#2eb7a4" d="M14 4h1v1h-1zM15 5h1v1h-1zM28 9h1v1h-1zM17 11h1v1h-1zM4 14h1v1h-1zM5 15h1v1h-1zM18 16h1v1h-1zM11 17h1v1h-1zM19 17h1v1h-1zM16 18h1v1h-1zM17 19h1v1h-1zM9 28h1v1h-1z"/>
<path fill="#38b99e" d="M18 0h1v1h-1zM18 3h1v1h-1zM15 4h1v1h-1zM31 4h1v1h-1zM24 11h1v1h-1zM4 15h1v1h-1zM0 18h1v1h-1zM3 18h1v1h-1zM20 19h1v1h-1zM24 19h1v1h-1zM19 20h1v1h-1zM11 24h1v1h-1zM19 24h1v1h-1zM4 31h1v1h-1z"/>
<path fill="#42bb98" d="M18 1h1v1h-1zM18 2h1v1h-1zM17 10h1v1h-1zM20 11h1v1h-1zM10 17h1v1h-1zM26 17h1v1h-1zM1 18h2v1h-2zM28 19h1v1h-1zM11 20h1v1h-1zM17 26h1v1h-1zM19 28h1v1h-1z"/>
<path fill="#4dbc92" d="M20 10h1v1h-1zM24 10h1v1h-1zM28 11h1v1h-1zM23 17h1v1h-1zM10 20h1v1h-1zM26 20h1v1h-1zM17 23h1v1h-1zM10 24h1v1h-1zM26 24h1v1h-1zM20 26h1v1h-1zM24 26h1v1h-1zM11 28h1v1h-1z"/>
<path fill="#59bd8c" d="M28 10h1v1h-1zM22 16h1v1h-1zM23 20h1v1h-1zM16 22h1v1h-1zM20 23h1v1h-1zM24 23h1v1h-1zM23 24h1v1h-1zM28 26h1v1h-1zM10 28h1v1h-1zM26 28h1v1h-1z"/>
<path fill="#65be86" d="M22 0h1v1h-1zM22 3h1v1h-1zM0 22h1v1h-1zM3 22h1v1h-1zM28 23h1v1h-1zM23 28h1v1h-1z"/>
<path fill="#71bf80" d="M22 1h1v1h-1zM22 2h1v1h-1zM16 8h1v1h-1zM8 16h1v1h-1zM30 17h1v1h-1zM1 22h2v1h-2zM17 30h1v1h-1z"/>
<path fill="#7cbf7b" d="M27 17h1v1h-1zM30 20h1v1h-1zM30 24h1v1h-1zM17 27h1v1h-1zM20 30h1v1h-1zM24 30h1v1h-1z"/>
<path fill="#87bf77" d="M8 0h1v1h-1zM8 1h1v1h-1zM8 2h1v1h-1zM8 3h1v1h-1zM0 8h4v1h-4zM16 9h1v1h-1zM17 12h1v1h-1zM9 16h1v1h-1zM12 17h1v1h-1zM27 20h1v1h-1zM27 24h1v1h-1zM20 27h1v1h-1zM24 27h1v1h-1zM30 28h1v1h-1zM28 30h1v1h-1z"/>
<path fill="#92bf73" d="M17 13h1v1h-1zM13 17h1v1h-1zM28 27h1v1h-1zM27 28h1v1h-1z"/>
<path fill="#9cbf6f" d="M9 0h1v1h-1zM9 1h1v1h-1zM9 2h1v1h-1zM9 3h1v1h-1zM0 9h4v1h-4zM16 11h1v1h-1zM20 12h1v1h-1zM24 12h1v1h-1zM24 13h1v1h-1zM17 14h1v1h-1zM11 16h1v1h-1zM19 16h1v1h-1zM14 17h1v1h-1zM16 19h1v1h-1zM12 20h1v1h-1zM12 24h2v1h-2z"/>
<path fill="#a5be6b" d="M28 12h1v1h-1zM20 13h1v1h-1zM31 17h1v1h-1zM13 20h1v1h-1zM12 28h1v1h-1zM17 31h1v1h-1z"/>
<path fill="#aebe67" d="M11 0h1v1h-1zM19 0h1v1h-1zM19 1h1v1h-1zM19 2h1v1h-1zM11 3h1v1h-1zM19 3h1v1h-1zM16 10h1v1h-1zM0 11h1v1h-1zM3 11h1v1h-1zM28 13h1v1h-1zM20 14h1v1h-1zM24 14h1v1h-1zM17 15h1v1h-1zM10 16h1v1h-1zM26 16h1v1h-1zM15 17h1v1h-1zM0 19h4v1h-4zM14 20h1v1h-1zM14 24h1v1h-1zM31 24h1v1h-1zM16 26h1v1h-1zM13 28h1v1h-1zM24 31h1v1h-1z"/>
<path fill="#b7bd64" d="M10 0h1v1h-1zM26 0h1v1h-1zM11 1h1v1h-1zM11 2h1v1h-1zM10 3h1v1h-1zM26 3h1v1h-1zM0 10h1v1h-1zM3 10h1v1h-1zM1 11h2v1h-2zM28 14h1v1h-1zM20 15h1v1h-1zM24 15h1v1h-1zM23 16h1v1h-1zM15 20h1v1h-1zM31 20h1v1h-1zM16 23h1v1h-1zM15 24h1v1h-1zM0 26h1v1h-1zM3 26h1v1h-1zM14 28h1v1h-1zM31 28h1v1h-1zM20 31h1v1h-1zM28 31h1v1h-1z"/>
<path fill="#c0bc60" d="M10 1h1v1h-1zM26 1h1v1h-1zM10 2h1v1h-1zM26 2h1v1h-1zM1 10h2v1h-2zM28 15h1v1h-1zM1 26h2v1h-2zM15 28h1v1h-1z"/>
<path fill="#c8bc5d" d="M23 0h1v1h-1zM23 1h1v1h-1zM23 2h1v1h-1zM23 3h1v1h-1zM0 23h4v1h-4z"/>
<path fill="#d1bb59" d="M30 16h1v1h-1zM16 30h1v1h-1z"/>
<path fill="#d9ba56" d="M30 0h1v1h-1zM30 3h1v1h-1zM27 16h1v1h-1zM16 27h1v1h-1zM0 30h1v1h-1zM3 30h1v1h-1z"/>
<path fill="#e1b952" d="M27 0h1v1h-1zM30 1h1v1h-1zM30 2h1v1h-1zM27 3h1v1h-1zM16 12h1v1h-1zM12 16h1v1h-1zM0 27h1v1h-1zM3 27h1v1h-1zM1 30h2v1h-2z"/>
<path fill="#e9b94e" d="M27 1h1v1h-1zM27 2h1v1h-1zM16 13h1v1h-1zM13 16h1v1h-1zM1 27h2v1h-2z"/>
<path fill="#f1b94a" d="M12 0h1v1h-1zM12 3h1v1h-1zM0 12h1v1h-1zM3 12h1v1h-1zM16 14h1v1h-1zM14 16h1v1h-1z"/>
<path fill="#f8bb44" d="M13 0h1v1h-1zM12 1h1v1h-1zM12 2h1v1h-1zM13 3h1v1h-1zM1 12h2v1h-2zM0 13h1v1h-1zM3 13h1v1h-1zM16 15h1v1h-1zM15 16h1v1h-1zM31 16h1v1h-1zM16 31h1v1h-1z"/>
<path fill="#fdbe3d" d="M14 0h1v1h-1zM13 1h1v1h-1zM13 2h1v1h-1zM14 3h1v1h-1zM1 13h2v1h-2zM0 14h1v1h-1zM3 14h1v1h-1z"/>
<path fill="#ffc337" d="M15 0h1v1h-1zM31 0h1v1h-1zM14 1h1v1h-1zM14 2h1v1h-1zM31 2h1v1h-1zM15 3h1v1h-1zM31 3h1v1h-1zM1 14h2v1h-2zM0 15h1v1h-1zM3 15h1v1h-1zM0 31h1v1h-1zM2 31h2v1h-2z"/>
<path fill="#fec832" d="M15 1h1v1h-1zM31 1h1v1h-1zM15 2h1v1h-1zM1 15h2v1h-2zM1 31h1v1h-1z"/>
</g>
<line x1="360.95" y1="36.6" x2="360.95" y2="312.7" stroke="#fff" stroke-width="1.1" stroke-dasharray="1.6 1.6"/>
<line x1="326.7" y1="71.11" x2="600.7" y2="71.11" stroke="#fff" stroke-width="1.1" stroke-dasharray="1.6 1.6"/>
<line x1="601.7" y1="71.11" x2="690" y2="71.11" stroke="#bdbdbd" stroke-width="1" stroke-dasharray="1.6 2"/>
<line x1="360.95" y1="313.7" x2="360.95" y2="394" stroke="#bdbdbd" stroke-width="1" stroke-dasharray="1.6 2"/>
<line x1="395.2" y1="36.6" x2="395.2" y2="312.7" stroke="#fff" stroke-width="1.1" stroke-dasharray="1.6 1.6"/>
<line x1="326.7" y1="105.62" x2="600.7" y2="105.62" stroke="#fff" stroke-width="1.1" stroke-dasharray="1.6 1.6"/>
<line x1="601.7" y1="105.62" x2="690" y2="105.62" stroke="#bdbdbd" stroke-width="1" stroke-dasharray="1.6 2"/>
<line x1="395.2" y1="313.7" x2="395.2" y2="394" stroke="#bdbdbd" stroke-width="1" stroke-dasharray="1.6 2"/>
<line x1="429.45" y1="36.6" x2="429.45" y2="312.7" stroke="#fff" stroke-width="1.1" stroke-dasharray="1.6 1.6"/>
<line x1="326.7" y1="140.14" x2="600.7" y2="140.14" stroke="#fff" stroke-width="1.1" stroke-dasharray="1.6 1.6"/>
<line x1="601.7" y1="140.14" x2="690" y2="140.14" stroke="#bdbdbd" stroke-width="1" stroke-dasharray="1.6 2"/>
<line x1="429.45" y1="313.7" x2="429.45" y2="394" stroke="#bdbdbd" stroke-width="1" stroke-dasharray="1.6 2"/>
<line x1="497.95" y1="36.6" x2="497.95" y2="312.7" stroke="#fff" stroke-width="1.1" stroke-dasharray="1.6 1.6"/>
<line x1="326.7" y1="209.16" x2="600.7" y2="209.16" stroke="#fff" stroke-width="1.1" stroke-dasharray="1.6 1.6"/>
<line x1="601.7" y1="209.16" x2="690" y2="209.16" stroke="#bdbdbd" stroke-width="1" stroke-dasharray="1.6 2"/>
<line x1="497.95" y1="313.7" x2="497.95" y2="394" stroke="#bdbdbd" stroke-width="1" stroke-dasharray="1.6 2"/>
<line x1="532.2" y1="36.6" x2="532.2" y2="312.7" stroke="#fff" stroke-width="1.1" stroke-dasharray="1.6 1.6"/>
<line x1="326.7" y1="243.68" x2="600.7" y2="243.68" stroke="#fff" stroke-width="1.1" stroke-dasharray="1.6 1.6"/>
<line x1="601.7" y1="243.68" x2="690" y2="243.68" stroke="#bdbdbd" stroke-width="1" stroke-dasharray="1.6 2"/>
<line x1="532.2" y1="313.7" x2="532.2" y2="394" stroke="#bdbdbd" stroke-width="1" stroke-dasharray="1.6 2"/>
<line x1="566.45" y1="36.6" x2="566.45" y2="312.7" stroke="#fff" stroke-width="1.1" stroke-dasharray="1.6 1.6"/>
<line x1="326.7" y1="278.19" x2="600.7" y2="278.19" stroke="#fff" stroke-width="1.1" stroke-dasharray="1.6 1.6"/>
<line x1="601.7" y1="278.19" x2="690" y2="278.19" stroke="#bdbdbd" stroke-width="1" stroke-dasharray="1.6 2"/>
<line x1="566.45" y1="313.7" x2="566.45" y2="394" stroke="#bdbdbd" stroke-width="1" stroke-dasharray="1.6 2"/>
<line x1="463.7" y1="36.6" x2="463.7" y2="398" stroke="#cdcdcd" stroke-width="1.3"/>
<line x1="326.7" y1="174.65" x2="690" y2="174.65" stroke="#cdcdcd" stroke-width="1.3"/>
<rect x="326.7" y="36.6" width="274" height="276.1" fill="none" stroke="#222" stroke-width="0.9"/>
<path d="M335.26 36.6v2.6M335.26 312.7v-2.6M326.7 45.23h2.6M600.7 45.23h-2.6M343.82 36.6v2.6M343.82 312.7v-2.6M326.7 53.86h2.6M600.7 53.86h-2.6M352.39 36.6v2.6M352.39 312.7v-2.6M326.7 62.48h2.6M600.7 62.48h-2.6M360.95 36.6v2.6M360.95 312.7v-2.6M326.7 71.11h2.6M600.7 71.11h-2.6M369.51 36.6v2.6M369.51 312.7v-2.6M326.7 79.74h2.6M600.7 79.74h-2.6M378.07 36.6v2.6M378.07 312.7v-2.6M326.7 88.37h2.6M600.7 88.37h-2.6M386.64 36.6v2.6M386.64 312.7v-2.6M326.7 97h2.6M600.7 97h-2.6M395.2 36.6v2.6M395.2 312.7v-2.6M326.7 105.62h2.6M600.7 105.62h-2.6M403.76 36.6v2.6M403.76 312.7v-2.6M326.7 114.25h2.6M600.7 114.25h-2.6M412.32 36.6v2.6M412.32 312.7v-2.6M326.7 122.88h2.6M600.7 122.88h-2.6M420.89 36.6v2.6M420.89 312.7v-2.6M326.7 131.51h2.6M600.7 131.51h-2.6M429.45 36.6v2.6M429.45 312.7v-2.6M326.7 140.14h2.6M600.7 140.14h-2.6M438.01 36.6v2.6M438.01 312.7v-2.6M326.7 148.77h2.6M600.7 148.77h-2.6M446.57 36.6v2.6M446.57 312.7v-2.6M326.7 157.39h2.6M600.7 157.39h-2.6M455.14 36.6v2.6M455.14 312.7v-2.6M326.7 166.02h2.6M600.7 166.02h-2.6M463.7 36.6v2.6M463.7 312.7v-2.6M326.7 174.65h2.6M600.7 174.65h-2.6M472.26 36.6v2.6M472.26 312.7v-2.6M326.7 183.28h2.6M600.7 183.28h-2.6M480.82 36.6v2.6M480.82 312.7v-2.6M326.7 191.91h2.6M600.7 191.91h-2.6M489.39 36.6v2.6M489.39 312.7v-2.6M326.7 200.53h2.6M600.7 200.53h-2.6M497.95 36.6v2.6M497.95 312.7v-2.6M326.7 209.16h2.6M600.7 209.16h-2.6M506.51 36.6v2.6M506.51 312.7v-2.6M326.7 217.79h2.6M600.7 217.79h-2.6M515.08 36.6v2.6M515.08 312.7v-2.6M326.7 226.42h2.6M600.7 226.42h-2.6M523.64 36.6v2.6M523.64 312.7v-2.6M326.7 235.05h2.6M600.7 235.05h-2.6M532.2 36.6v2.6M532.2 312.7v-2.6M326.7 243.68h2.6M600.7 243.68h-2.6M540.76 36.6v2.6M540.76 312.7v-2.6M326.7 252.3h2.6M600.7 252.3h-2.6M549.33 36.6v2.6M549.33 312.7v-2.6M326.7 260.93h2.6M600.7 260.93h-2.6M557.89 36.6v2.6M557.89 312.7v-2.6M326.7 269.56h2.6M600.7 269.56h-2.6M566.45 36.6v2.6M566.45 312.7v-2.6M326.7 278.19h2.6M600.7 278.19h-2.6M575.01 36.6v2.6M575.01 312.7v-2.6M326.7 286.82h2.6M600.7 286.82h-2.6M583.58 36.6v2.6M583.58 312.7v-2.6M326.7 295.44h2.6M600.7 295.44h-2.6M592.14 36.6v2.6M592.14 312.7v-2.6M326.7 304.07h2.6M600.7 304.07h-2.6" stroke="#111" stroke-width="0.9" fill="none"/>
<defs><linearGradient id="pv" x1="0" y1="1" x2="0" y2="0">
<stop offset="0" stop-color="#352a87"/>
<stop offset="0.05" stop-color="#353dad"/>
<stop offset="0.1" stop-color="#2053d4"/>
<stop offset="0.14" stop-color="#0268e1"/>
<stop offset="0.19" stop-color="#0d75dc"/>
<stop offset="0.24" stop-color="#1481d6"/>
<stop offset="0.29" stop-color="#108ed2"/>
<stop offset="0.33" stop-color="#079ccf"/>
<stop offset="0.38" stop-color="#06a7c6"/>
<stop offset="0.43" stop-color="#0faeb9"/>
<stop offset="0.48" stop-color="#25b5a9"/>
<stop offset="0.52" stop-color="#42bb98"/>
<stop offset="0.57" stop-color="#65be86"/>
<stop offset="0.62" stop-color="#87bf77"/>
<stop offset="0.67" stop-color="#a5be6b"/>
<stop offset="0.71" stop-color="#c0bc60"/>
<stop offset="0.76" stop-color="#d9ba56"/>
<stop offset="0.81" stop-color="#f1b94a"/>
<stop offset="0.86" stop-color="#ffc337"/>
<stop offset="0.9" stop-color="#fad32a"/>
<stop offset="0.95" stop-color="#f5e41d"/>
<stop offset="1" stop-color="#f9fb0e"/>
</linearGradient><linearGradient id="ph" x1="0" y1="0" x2="1" y2="0">
<stop offset="0" stop-color="#352a87"/>
<stop offset="0.05" stop-color="#353dad"/>
<stop offset="0.1" stop-color="#2053d4"/>
<stop offset="0.14" stop-color="#0268e1"/>
<stop offset="0.19" stop-color="#0d75dc"/>
<stop offset="0.24" stop-color="#1481d6"/>
<stop offset="0.29" stop-color="#108ed2"/>
<stop offset="0.33" stop-color="#079ccf"/>
<stop offset="0.38" stop-color="#06a7c6"/>
<stop offset="0.43" stop-color="#0faeb9"/>
<stop offset="0.48" stop-color="#25b5a9"/>
<stop offset="0.52" stop-color="#42bb98"/>
<stop offset="0.57" stop-color="#65be86"/>
<stop offset="0.62" stop-color="#87bf77"/>
<stop offset="0.67" stop-color="#a5be6b"/>
<stop offset="0.71" stop-color="#c0bc60"/>
<stop offset="0.76" stop-color="#d9ba56"/>
<stop offset="0.81" stop-color="#f1b94a"/>
<stop offset="0.86" stop-color="#ffc337"/>
<stop offset="0.9" stop-color="#fad32a"/>
<stop offset="0.95" stop-color="#f5e41d"/>
<stop offset="1" stop-color="#f9fb0e"/>
</linearGradient></defs>
<rect x="297.4" y="37.8" width="21.6" height="275.7" fill="url(#pv)" stroke="#222" stroke-width="0.9"/>
<line x1="316.6" y1="267.55" x2="319" y2="267.55" stroke="#111" stroke-width="0.9"/>
<line x1="316.6" y1="221.6" x2="319" y2="221.6" stroke="#111" stroke-width="0.9"/>
<line x1="316.6" y1="175.65" x2="319" y2="175.65" stroke="#111" stroke-width="0.9"/>
<line x1="316.6" y1="129.7" x2="319" y2="129.7" stroke="#111" stroke-width="0.9"/>
<line x1="316.6" y1="83.75" x2="319" y2="83.75" stroke="#111" stroke-width="0.9"/>
<text x="293.8" y="317.7" text-anchor="end" fill="#111" stroke="#111" font-size="14.5">0</text>
<text x="293.8" y="225.8" text-anchor="end" fill="#111" stroke="#111" font-size="14.5">1</text>
<text x="293.8" y="133.9" text-anchor="end" fill="#111" stroke="#111" font-size="14.5">2</text>
<text x="293.8" y="42" text-anchor="end" fill="#111" stroke="#111" font-size="14.5">3</text>
<text x="299" y="28.5" font-size="14.5" fill="#111" stroke="#111">&#916;<tspan class="i">n</tspan></text>
<text x="463.8" y="26.6" text-anchor="middle" fill="#111" stroke="#111" font-size="14.5" textLength="171.5">RDM from numeric reports</text>
<circle cx="639.8" cy="40.91" r="3.05" fill="#0aa650"/>
<circle cx="654.2" cy="40.91" r="3.05" fill="#b60f19"/>
<circle cx="330.98" cy="350.2" r="3.05" fill="#0aa650"/>
<circle cx="330.98" cy="364.8" r="3.05" fill="#b60f19"/>
<circle cx="639.8" cy="49.54" r="3.05" fill="#0aa650"/>
<circle cx="654.2" cy="49.54" r="3.05" fill="#b60f19"/>
<circle cx="662.75" cy="49.54" r="3.05" fill="#b60f19"/>
<circle cx="339.54" cy="350.2" r="3.05" fill="#0aa650"/>
<circle cx="339.54" cy="364.8" r="3.05" fill="#b60f19"/>
<circle cx="339.54" cy="373.3" r="3.05" fill="#b60f19"/>
<circle cx="639.8" cy="58.17" r="3.05" fill="#0aa650"/>
<circle cx="654.2" cy="58.17" r="3.05" fill="#b60f19"/>
<circle cx="662.75" cy="58.17" r="3.05" fill="#b60f19"/>
<circle cx="671.3" cy="58.17" r="3.05" fill="#b60f19"/>
<circle cx="348.11" cy="350.2" r="3.05" fill="#0aa650"/>
<circle cx="348.11" cy="364.8" r="3.05" fill="#b60f19"/>
<circle cx="348.11" cy="373.3" r="3.05" fill="#b60f19"/>
<circle cx="348.11" cy="381.8" r="3.05" fill="#b60f19"/>
<circle cx="639.8" cy="66.8" r="3.05" fill="#0aa650"/>
<circle cx="654.2" cy="66.8" r="3.05" fill="#b60f19"/>
<circle cx="662.75" cy="66.8" r="3.05" fill="#b60f19"/>
<circle cx="671.3" cy="66.8" r="3.05" fill="#b60f19"/>
<circle cx="679.85" cy="66.8" r="3.05" fill="#b60f19"/>
<circle cx="356.67" cy="350.2" r="3.05" fill="#0aa650"/>
<circle cx="356.67" cy="364.8" r="3.05" fill="#b60f19"/>
<circle cx="356.67" cy="373.3" r="3.05" fill="#b60f19"/>
<circle cx="356.67" cy="381.8" r="3.05" fill="#b60f19"/>
<circle cx="356.67" cy="390.3" r="3.05" fill="#b60f19"/>
<circle cx="639.8" cy="75.43" r="3.05" fill="#0aa650"/>
<circle cx="631.3" cy="75.43" r="3.05" fill="#0aa650"/>
<circle cx="654.2" cy="75.43" r="3.05" fill="#b60f19"/>
<circle cx="365.23" cy="350.2" r="3.05" fill="#0aa650"/>
<circle cx="365.23" cy="341.6" r="3.05" fill="#0aa650"/>
<circle cx="365.23" cy="364.8" r="3.05" fill="#b60f19"/>
<circle cx="639.8" cy="84.05" r="3.05" fill="#0aa650"/>
<circle cx="631.3" cy="84.05" r="3.05" fill="#0aa650"/>
<circle cx="654.2" cy="84.05" r="3.05" fill="#b60f19"/>
<circle cx="662.75" cy="84.05" r="3.05" fill="#b60f19"/>
<circle cx="373.79" cy="350.2" r="3.05" fill="#0aa650"/>
<circle cx="373.79" cy="341.6" r="3.05" fill="#0aa650"/>
<circle cx="373.79" cy="364.8" r="3.05" fill="#b60f19"/>
<circle cx="373.79" cy="373.3" r="3.05" fill="#b60f19"/>
<circle cx="639.8" cy="92.68" r="3.05" fill="#0aa650"/>
<circle cx="631.3" cy="92.68" r="3.05" fill="#0aa650"/>
<circle cx="654.2" cy="92.68" r="3.05" fill="#b60f19"/>
<circle cx="662.75" cy="92.68" r="3.05" fill="#b60f19"/>
<circle cx="671.3" cy="92.68" r="3.05" fill="#b60f19"/>
<circle cx="382.36" cy="350.2" r="3.05" fill="#0aa650"/>
<circle cx="382.36" cy="341.6" r="3.05" fill="#0aa650"/>
<circle cx="382.36" cy="364.8" r="3.05" fill="#b60f19"/>
<circle cx="382.36" cy="373.3" r="3.05" fill="#b60f19"/>
<circle cx="382.36" cy="381.8" r="3.05" fill="#b60f19"/>
<circle cx="639.8" cy="101.31" r="3.05" fill="#0aa650"/>
<circle cx="631.3" cy="101.31" r="3.05" fill="#0aa650"/>
<circle cx="654.2" cy="101.31" r="3.05" fill="#b60f19"/>
<circle cx="662.75" cy="101.31" r="3.05" fill="#b60f19"/>
<circle cx="671.3" cy="101.31" r="3.05" fill="#b60f19"/>
<circle cx="679.85" cy="101.31" r="3.05" fill="#b60f19"/>
<circle cx="390.92" cy="350.2" r="3.05" fill="#0aa650"/>
<circle cx="390.92" cy="341.6" r="3.05" fill="#0aa650"/>
<circle cx="390.92" cy="364.8" r="3.05" fill="#b60f19"/>
<circle cx="390.92" cy="373.3" r="3.05" fill="#b60f19"/>
<circle cx="390.92" cy="381.8" r="3.05" fill="#b60f19"/>
<circle cx="390.92" cy="390.3" r="3.05" fill="#b60f19"/>
<circle cx="639.8" cy="109.94" r="3.05" fill="#0aa650"/>
<circle cx="631.3" cy="109.94" r="3.05" fill="#0aa650"/>
<circle cx="622.8" cy="109.94" r="3.05" fill="#0aa650"/>
<circle cx="654.2" cy="109.94" r="3.05" fill="#b60f19"/>
<circle cx="399.48" cy="350.2" r="3.05" fill="#0aa650"/>
<circle cx="399.48" cy="341.6" r="3.05" fill="#0aa650"/>
<circle cx="399.48" cy="333" r="3.05" fill="#0aa650"/>
<circle cx="399.48" cy="364.8" r="3.05" fill="#b60f19"/>
<circle cx="639.8" cy="118.57" r="3.05" fill="#0aa650"/>
<circle cx="631.3" cy="118.57" r="3.05" fill="#0aa650"/>
<circle cx="622.8" cy="118.57" r="3.05" fill="#0aa650"/>
<circle cx="654.2" cy="118.57" r="3.05" fill="#b60f19"/>
<circle cx="662.75" cy="118.57" r="3.05" fill="#b60f19"/>
<circle cx="408.04" cy="350.2" r="3.05" fill="#0aa650"/>
<circle cx="408.04" cy="341.6" r="3.05" fill="#0aa650"/>
<circle cx="408.04" cy="333" r="3.05" fill="#0aa650"/>
<circle cx="408.04" cy="364.8" r="3.05" fill="#b60f19"/>
<circle cx="408.04" cy="373.3" r="3.05" fill="#b60f19"/>
<circle cx="639.8" cy="127.2" r="3.05" fill="#0aa650"/>
<circle cx="631.3" cy="127.2" r="3.05" fill="#0aa650"/>
<circle cx="622.8" cy="127.2" r="3.05" fill="#0aa650"/>
<circle cx="654.2" cy="127.2" r="3.05" fill="#b60f19"/>
<circle cx="662.75" cy="127.2" r="3.05" fill="#b60f19"/>
<circle cx="671.3" cy="127.2" r="3.05" fill="#b60f19"/>
<circle cx="416.61" cy="350.2" r="3.05" fill="#0aa650"/>
<circle cx="416.61" cy="341.6" r="3.05" fill="#0aa650"/>
<circle cx="416.61" cy="333" r="3.05" fill="#0aa650"/>
<circle cx="416.61" cy="364.8" r="3.05" fill="#b60f19"/>
<circle cx="416.61" cy="373.3" r="3.05" fill="#b60f19"/>
<circle cx="416.61" cy="381.8" r="3.05" fill="#b60f19"/>
<circle cx="639.8" cy="135.82" r="3.05" fill="#0aa650"/>
<circle cx="631.3" cy="135.82" r="3.05" fill="#0aa650"/>
<circle cx="622.8" cy="135.82" r="3.05" fill="#0aa650"/>
<circle cx="654.2" cy="135.82" r="3.05" fill="#b60f19"/>
<circle cx="662.75" cy="135.82" r="3.05" fill="#b60f19"/>
<circle cx="671.3" cy="135.82" r="3.05" fill="#b60f19"/>
<circle cx="679.85" cy="135.82" r="3.05" fill="#b60f19"/>
<circle cx="425.17" cy="350.2" r="3.05" fill="#0aa650"/>
<circle cx="425.17" cy="341.6" r="3.05" fill="#0aa650"/>
<circle cx="425.17" cy="333" r="3.05" fill="#0aa650"/>
<circle cx="425.17" cy="364.8" r="3.05" fill="#b60f19"/>
<circle cx="425.17" cy="373.3" r="3.05" fill="#b60f19"/>
<circle cx="425.17" cy="381.8" r="3.05" fill="#b60f19"/>
<circle cx="425.17" cy="390.3" r="3.05" fill="#b60f19"/>
<circle cx="639.8" cy="144.45" r="3.05" fill="#0aa650"/>
<circle cx="631.3" cy="144.45" r="3.05" fill="#0aa650"/>
<circle cx="622.8" cy="144.45" r="3.05" fill="#0aa650"/>
<circle cx="614.3" cy="144.45" r="3.05" fill="#0aa650"/>
<circle cx="654.2" cy="144.45" r="3.05" fill="#b60f19"/>
<circle cx="433.73" cy="350.2" r="3.05" fill="#0aa650"/>
<circle cx="433.73" cy="341.6" r="3.05" fill="#0aa650"/>
<circle cx="433.73" cy="333" r="3.05" fill="#0aa650"/>
<circle cx="433.73" cy="324.4" r="3.05" fill="#0aa650"/>
<circle cx="433.73" cy="364.8" r="3.05" fill="#b60f19"/>
<circle cx="639.8" cy="153.08" r="3.05" fill="#0aa650"/>
<circle cx="631.3" cy="153.08" r="3.05" fill="#0aa650"/>
<circle cx="622.8" cy="153.08" r="3.05" fill="#0aa650"/>
<circle cx="614.3" cy="153.08" r="3.05" fill="#0aa650"/>
<circle cx="654.2" cy="153.08" r="3.05" fill="#b60f19"/>
<circle cx="662.75" cy="153.08" r="3.05" fill="#b60f19"/>
<circle cx="442.29" cy="350.2" r="3.05" fill="#0aa650"/>
<circle cx="442.29" cy="341.6" r="3.05" fill="#0aa650"/>
<circle cx="442.29" cy="333" r="3.05" fill="#0aa650"/>
<circle cx="442.29" cy="324.4" r="3.05" fill="#0aa650"/>
<circle cx="442.29" cy="364.8" r="3.05" fill="#b60f19"/>
<circle cx="442.29" cy="373.3" r="3.05" fill="#b60f19"/>
<circle cx="639.8" cy="161.71" r="3.05" fill="#0aa650"/>
<circle cx="631.3" cy="161.71" r="3.05" fill="#0aa650"/>
<circle cx="622.8" cy="161.71" r="3.05" fill="#0aa650"/>
<circle cx="614.3" cy="161.71" r="3.05" fill="#0aa650"/>
<circle cx="654.2" cy="161.71" r="3.05" fill="#b60f19"/>
<circle cx="662.75" cy="161.71" r="3.05" fill="#b60f19"/>
<circle cx="671.3" cy="161.71" r="3.05" fill="#b60f19"/>
<circle cx="450.86" cy="350.2" r="3.05" fill="#0aa650"/>
<circle cx="450.86" cy="341.6" r="3.05" fill="#0aa650"/>
<circle cx="450.86" cy="333" r="3.05" fill="#0aa650"/>
<circle cx="450.86" cy="324.4" r="3.05" fill="#0aa650"/>
<circle cx="450.86" cy="364.8" r="3.05" fill="#b60f19"/>
<circle cx="450.86" cy="373.3" r="3.05" fill="#b60f19"/>
<circle cx="450.86" cy="381.8" r="3.05" fill="#b60f19"/>
<circle cx="639.8" cy="170.34" r="3.05" fill="#0aa650"/>
<circle cx="631.3" cy="170.34" r="3.05" fill="#0aa650"/>
<circle cx="622.8" cy="170.34" r="3.05" fill="#0aa650"/>
<circle cx="614.3" cy="170.34" r="3.05" fill="#0aa650"/>
<circle cx="654.2" cy="170.34" r="3.05" fill="#b60f19"/>
<circle cx="662.75" cy="170.34" r="3.05" fill="#b60f19"/>
<circle cx="671.3" cy="170.34" r="3.05" fill="#b60f19"/>
<circle cx="679.85" cy="170.34" r="3.05" fill="#b60f19"/>
<circle cx="459.42" cy="350.2" r="3.05" fill="#0aa650"/>
<circle cx="459.42" cy="341.6" r="3.05" fill="#0aa650"/>
<circle cx="459.42" cy="333" r="3.05" fill="#0aa650"/>
<circle cx="459.42" cy="324.4" r="3.05" fill="#0aa650"/>
<circle cx="459.42" cy="364.8" r="3.05" fill="#b60f19"/>
<circle cx="459.42" cy="373.3" r="3.05" fill="#b60f19"/>
<circle cx="459.42" cy="381.8" r="3.05" fill="#b60f19"/>
<circle cx="459.42" cy="390.3" r="3.05" fill="#b60f19"/>
<circle cx="639.8" cy="178.96" r="3.05" fill="#0aa650"/>
<circle cx="654.2" cy="178.96" r="3.05" fill="#b60f19"/>
<circle cx="467.98" cy="350.2" r="3.05" fill="#0aa650"/>
<circle cx="467.98" cy="364.8" r="3.05" fill="#b60f19"/>
<circle cx="639.8" cy="187.59" r="3.05" fill="#0aa650"/>
<circle cx="654.2" cy="187.59" r="3.05" fill="#b60f19"/>
<circle cx="662.75" cy="187.59" r="3.05" fill="#b60f19"/>
<circle cx="476.54" cy="350.2" r="3.05" fill="#0aa650"/>
<circle cx="476.54" cy="364.8" r="3.05" fill="#b60f19"/>
<circle cx="476.54" cy="373.3" r="3.05" fill="#b60f19"/>
<circle cx="639.8" cy="196.22" r="3.05" fill="#0aa650"/>
<circle cx="654.2" cy="196.22" r="3.05" fill="#b60f19"/>
<circle cx="662.75" cy="196.22" r="3.05" fill="#b60f19"/>
<circle cx="671.3" cy="196.22" r="3.05" fill="#b60f19"/>
<circle cx="485.11" cy="350.2" r="3.05" fill="#0aa650"/>
<circle cx="485.11" cy="364.8" r="3.05" fill="#b60f19"/>
<circle cx="485.11" cy="373.3" r="3.05" fill="#b60f19"/>
<circle cx="485.11" cy="381.8" r="3.05" fill="#b60f19"/>
<circle cx="639.8" cy="204.85" r="3.05" fill="#0aa650"/>
<circle cx="654.2" cy="204.85" r="3.05" fill="#b60f19"/>
<circle cx="662.75" cy="204.85" r="3.05" fill="#b60f19"/>
<circle cx="671.3" cy="204.85" r="3.05" fill="#b60f19"/>
<circle cx="679.85" cy="204.85" r="3.05" fill="#b60f19"/>
<circle cx="493.67" cy="350.2" r="3.05" fill="#0aa650"/>
<circle cx="493.67" cy="364.8" r="3.05" fill="#b60f19"/>
<circle cx="493.67" cy="373.3" r="3.05" fill="#b60f19"/>
<circle cx="493.67" cy="381.8" r="3.05" fill="#b60f19"/>
<circle cx="493.67" cy="390.3" r="3.05" fill="#b60f19"/>
<circle cx="639.8" cy="213.48" r="3.05" fill="#0aa650"/>
<circle cx="631.3" cy="213.48" r="3.05" fill="#0aa650"/>
<circle cx="654.2" cy="213.48" r="3.05" fill="#b60f19"/>
<circle cx="502.23" cy="350.2" r="3.05" fill="#0aa650"/>
<circle cx="502.23" cy="341.6" r="3.05" fill="#0aa650"/>
<circle cx="502.23" cy="364.8" r="3.05" fill="#b60f19"/>
<circle cx="639.8" cy="222.1" r="3.05" fill="#0aa650"/>
<circle cx="631.3" cy="222.1" r="3.05" fill="#0aa650"/>
<circle cx="654.2" cy="222.1" r="3.05" fill="#b60f19"/>
<circle cx="662.75" cy="222.1" r="3.05" fill="#b60f19"/>
<circle cx="510.79" cy="350.2" r="3.05" fill="#0aa650"/>
<circle cx="510.79" cy="341.6" r="3.05" fill="#0aa650"/>
<circle cx="510.79" cy="364.8" r="3.05" fill="#b60f19"/>
<circle cx="510.79" cy="373.3" r="3.05" fill="#b60f19"/>
<circle cx="639.8" cy="230.73" r="3.05" fill="#0aa650"/>
<circle cx="631.3" cy="230.73" r="3.05" fill="#0aa650"/>
<circle cx="654.2" cy="230.73" r="3.05" fill="#b60f19"/>
<circle cx="662.75" cy="230.73" r="3.05" fill="#b60f19"/>
<circle cx="671.3" cy="230.73" r="3.05" fill="#b60f19"/>
<circle cx="519.36" cy="350.2" r="3.05" fill="#0aa650"/>
<circle cx="519.36" cy="341.6" r="3.05" fill="#0aa650"/>
<circle cx="519.36" cy="364.8" r="3.05" fill="#b60f19"/>
<circle cx="519.36" cy="373.3" r="3.05" fill="#b60f19"/>
<circle cx="519.36" cy="381.8" r="3.05" fill="#b60f19"/>
<circle cx="639.8" cy="239.36" r="3.05" fill="#0aa650"/>
<circle cx="631.3" cy="239.36" r="3.05" fill="#0aa650"/>
<circle cx="654.2" cy="239.36" r="3.05" fill="#b60f19"/>
<circle cx="662.75" cy="239.36" r="3.05" fill="#b60f19"/>
<circle cx="671.3" cy="239.36" r="3.05" fill="#b60f19"/>
<circle cx="679.85" cy="239.36" r="3.05" fill="#b60f19"/>
<circle cx="527.92" cy="350.2" r="3.05" fill="#0aa650"/>
<circle cx="527.92" cy="341.6" r="3.05" fill="#0aa650"/>
<circle cx="527.92" cy="364.8" r="3.05" fill="#b60f19"/>
<circle cx="527.92" cy="373.3" r="3.05" fill="#b60f19"/>
<circle cx="527.92" cy="381.8" r="3.05" fill="#b60f19"/>
<circle cx="527.92" cy="390.3" r="3.05" fill="#b60f19"/>
<circle cx="639.8" cy="247.99" r="3.05" fill="#0aa650"/>
<circle cx="631.3" cy="247.99" r="3.05" fill="#0aa650"/>
<circle cx="622.8" cy="247.99" r="3.05" fill="#0aa650"/>
<circle cx="654.2" cy="247.99" r="3.05" fill="#b60f19"/>
<circle cx="536.48" cy="350.2" r="3.05" fill="#0aa650"/>
<circle cx="536.48" cy="341.6" r="3.05" fill="#0aa650"/>
<circle cx="536.48" cy="333" r="3.05" fill="#0aa650"/>
<circle cx="536.48" cy="364.8" r="3.05" fill="#b60f19"/>
<circle cx="639.8" cy="256.62" r="3.05" fill="#0aa650"/>
<circle cx="631.3" cy="256.62" r="3.05" fill="#0aa650"/>
<circle cx="622.8" cy="256.62" r="3.05" fill="#0aa650"/>
<circle cx="654.2" cy="256.62" r="3.05" fill="#b60f19"/>
<circle cx="662.75" cy="256.62" r="3.05" fill="#b60f19"/>
<circle cx="545.04" cy="350.2" r="3.05" fill="#0aa650"/>
<circle cx="545.04" cy="341.6" r="3.05" fill="#0aa650"/>
<circle cx="545.04" cy="333" r="3.05" fill="#0aa650"/>
<circle cx="545.04" cy="364.8" r="3.05" fill="#b60f19"/>
<circle cx="545.04" cy="373.3" r="3.05" fill="#b60f19"/>
<circle cx="639.8" cy="265.25" r="3.05" fill="#0aa650"/>
<circle cx="631.3" cy="265.25" r="3.05" fill="#0aa650"/>
<circle cx="622.8" cy="265.25" r="3.05" fill="#0aa650"/>
<circle cx="654.2" cy="265.25" r="3.05" fill="#b60f19"/>
<circle cx="662.75" cy="265.25" r="3.05" fill="#b60f19"/>
<circle cx="671.3" cy="265.25" r="3.05" fill="#b60f19"/>
<circle cx="553.61" cy="350.2" r="3.05" fill="#0aa650"/>
<circle cx="553.61" cy="341.6" r="3.05" fill="#0aa650"/>
<circle cx="553.61" cy="333" r="3.05" fill="#0aa650"/>
<circle cx="553.61" cy="364.8" r="3.05" fill="#b60f19"/>
<circle cx="553.61" cy="373.3" r="3.05" fill="#b60f19"/>
<circle cx="553.61" cy="381.8" r="3.05" fill="#b60f19"/>
<circle cx="639.8" cy="273.87" r="3.05" fill="#0aa650"/>
<circle cx="631.3" cy="273.87" r="3.05" fill="#0aa650"/>
<circle cx="622.8" cy="273.87" r="3.05" fill="#0aa650"/>
<circle cx="654.2" cy="273.87" r="3.05" fill="#b60f19"/>
<circle cx="662.75" cy="273.87" r="3.05" fill="#b60f19"/>
<circle cx="671.3" cy="273.87" r="3.05" fill="#b60f19"/>
<circle cx="679.85" cy="273.87" r="3.05" fill="#b60f19"/>
<circle cx="562.17" cy="350.2" r="3.05" fill="#0aa650"/>
<circle cx="562.17" cy="341.6" r="3.05" fill="#0aa650"/>
<circle cx="562.17" cy="333" r="3.05" fill="#0aa650"/>
<circle cx="562.17" cy="364.8" r="3.05" fill="#b60f19"/>
<circle cx="562.17" cy="373.3" r="3.05" fill="#b60f19"/>
<circle cx="562.17" cy="381.8" r="3.05" fill="#b60f19"/>
<circle cx="562.17" cy="390.3" r="3.05" fill="#b60f19"/>
<circle cx="639.8" cy="282.5" r="3.05" fill="#0aa650"/>
<circle cx="631.3" cy="282.5" r="3.05" fill="#0aa650"/>
<circle cx="622.8" cy="282.5" r="3.05" fill="#0aa650"/>
<circle cx="614.3" cy="282.5" r="3.05" fill="#0aa650"/>
<circle cx="654.2" cy="282.5" r="3.05" fill="#b60f19"/>
<circle cx="570.73" cy="350.2" r="3.05" fill="#0aa650"/>
<circle cx="570.73" cy="341.6" r="3.05" fill="#0aa650"/>
<circle cx="570.73" cy="333" r="3.05" fill="#0aa650"/>
<circle cx="570.73" cy="324.4" r="3.05" fill="#0aa650"/>
<circle cx="570.73" cy="364.8" r="3.05" fill="#b60f19"/>
<circle cx="639.8" cy="291.13" r="3.05" fill="#0aa650"/>
<circle cx="631.3" cy="291.13" r="3.05" fill="#0aa650"/>
<circle cx="622.8" cy="291.13" r="3.05" fill="#0aa650"/>
<circle cx="614.3" cy="291.13" r="3.05" fill="#0aa650"/>
<circle cx="654.2" cy="291.13" r="3.05" fill="#b60f19"/>
<circle cx="662.75" cy="291.13" r="3.05" fill="#b60f19"/>
<circle cx="579.29" cy="350.2" r="3.05" fill="#0aa650"/>
<circle cx="579.29" cy="341.6" r="3.05" fill="#0aa650"/>
<circle cx="579.29" cy="333" r="3.05" fill="#0aa650"/>
<circle cx="579.29" cy="324.4" r="3.05" fill="#0aa650"/>
<circle cx="579.29" cy="364.8" r="3.05" fill="#b60f19"/>
<circle cx="579.29" cy="373.3" r="3.05" fill="#b60f19"/>
<circle cx="639.8" cy="299.76" r="3.05" fill="#0aa650"/>
<circle cx="631.3" cy="299.76" r="3.05" fill="#0aa650"/>
<circle cx="622.8" cy="299.76" r="3.05" fill="#0aa650"/>
<circle cx="614.3" cy="299.76" r="3.05" fill="#0aa650"/>
<circle cx="654.2" cy="299.76" r="3.05" fill="#b60f19"/>
<circle cx="662.75" cy="299.76" r="3.05" fill="#b60f19"/>
<circle cx="671.3" cy="299.76" r="3.05" fill="#b60f19"/>
<circle cx="587.86" cy="350.2" r="3.05" fill="#0aa650"/>
<circle cx="587.86" cy="341.6" r="3.05" fill="#0aa650"/>
<circle cx="587.86" cy="333" r="3.05" fill="#0aa650"/>
<circle cx="587.86" cy="324.4" r="3.05" fill="#0aa650"/>
<circle cx="587.86" cy="364.8" r="3.05" fill="#b60f19"/>
<circle cx="587.86" cy="373.3" r="3.05" fill="#b60f19"/>
<circle cx="587.86" cy="381.8" r="3.05" fill="#b60f19"/>
<circle cx="639.8" cy="308.39" r="3.05" fill="#0aa650"/>
<circle cx="631.3" cy="308.39" r="3.05" fill="#0aa650"/>
<circle cx="622.8" cy="308.39" r="3.05" fill="#0aa650"/>
<circle cx="614.3" cy="308.39" r="3.05" fill="#0aa650"/>
<circle cx="654.2" cy="308.39" r="3.05" fill="#b60f19"/>
<circle cx="662.75" cy="308.39" r="3.05" fill="#b60f19"/>
<circle cx="671.3" cy="308.39" r="3.05" fill="#b60f19"/>
<circle cx="679.85" cy="308.39" r="3.05" fill="#b60f19"/>
<circle cx="596.42" cy="350.2" r="3.05" fill="#0aa650"/>
<circle cx="596.42" cy="341.6" r="3.05" fill="#0aa650"/>
<circle cx="596.42" cy="333" r="3.05" fill="#0aa650"/>
<circle cx="596.42" cy="324.4" r="3.05" fill="#0aa650"/>
<circle cx="596.42" cy="364.8" r="3.05" fill="#b60f19"/>
<circle cx="596.42" cy="373.3" r="3.05" fill="#b60f19"/>
<circle cx="596.42" cy="381.8" r="3.05" fill="#b60f19"/>
<circle cx="596.42" cy="390.3" r="3.05" fill="#b60f19"/>
<text x="618.6" y="33.5" text-anchor="start" fill="#0aa650" stroke="#0aa650" font-size="14.5"># A</text>
<text x="659" y="33.5" text-anchor="start" fill="#b60f19" stroke="#b60f19" font-size="14.5"># V</text>
<text x="617.2" y="337.3" text-anchor="start" fill="#0aa650" stroke="#0aa650" font-size="14.5"># A</text>
<text x="658.9" y="377" text-anchor="start" fill="#b60f19" stroke="#b60f19" font-size="14.5"># V</text>
<line x1="694.3" y1="41.3" x2="694.3" y2="171.4" stroke="#0aa650" stroke-width="1.5"/>
<line x1="694.3" y1="180.3" x2="694.3" y2="310.8" stroke="#b60f19" stroke-width="1.5"/>
<text transform="translate(710.5,110.8) rotate(-90)" text-anchor="middle" fill="#0aa650" stroke="#0aa650" font-size="14.5">Auditory report</text>
<text transform="translate(710.5,250.5) rotate(-90)" text-anchor="middle" fill="#b60f19" stroke="#b60f19" font-size="14.5">Visual report</text>
<line x1="329" y1="402.6" x2="458.6" y2="402.6" stroke="#0aa650" stroke-width="1.5"/>
<line x1="468" y1="402.6" x2="598" y2="402.6" stroke="#b60f19" stroke-width="1.5"/>
</g>
<g id="panel-c">
<text x="184" y="449" text-anchor="start" fill="#111" stroke="#111" font-size="14.5" textLength="293.5">RDMs from Bayesian Causal Inference model</text>
<g transform="translate(136.6,524.8) scale(5.20625,5.21250)" shape-rendering="crispEdges">
<path fill="#352a87" d="M0 0h1v1h-1zM1 1h3v1h-3zM1 2h3v1h-3zM1 3h3v1h-3zM4 4h1v1h-1zM5 5h1v1h-1zM6 6h2v1h-2zM6 7h2v1h-2zM8 8h2v1h-2zM8 9h2v1h-2zM10 10h2v1h-2zM10 11h2v1h-2zM12 12h1v1h-1zM15 12h1v1h-1zM13 13h2v1h-2zM13 14h2v1h-2zM12 15h1v1h-1zM15 15h1v1h-1zM16 16h1v1h-1zM17 17h1v1h-1zM18 18h1v1h-1zM19 19h1v1h-1zM23 19h1v1h-1zM20 20h1v1h-1zM21 21h1v1h-1zM22 22h1v1h-1zM19 23h1v1h-1zM23 23h1v1h-1zM24 24h1v1h-1zM25 25h1v1h-1zM29 25h1v1h-1zM26 26h1v1h-1zM27 27h1v1h-1zM28 28h1v1h-1zM25 29h1v1h-1zM29 29h1v1h-1zM30 30h1v1h-1zM31 31h1v1h-1z"/>
<path fill="#363093" d="M1 0h3v1h-3zM16 0h1v1h-1zM0 1h1v1h-1zM16 1h1v1h-1zM0 2h1v1h-1zM16 2h1v1h-1zM0 3h1v1h-1zM16 3h1v1h-1zM21 5h1v1h-1zM21 6h1v1h-1zM21 7h1v1h-1zM26 10h1v1h-1zM26 11h1v1h-1zM13 12h2v1h-2zM12 13h1v1h-1zM15 13h1v1h-1zM12 14h1v1h-1zM15 14h1v1h-1zM13 15h2v1h-2zM31 15h1v1h-1zM0 16h4v1h-4zM20 17h1v1h-1zM25 18h1v1h-1zM29 18h1v1h-1zM17 20h1v1h-1zM28 20h1v1h-1zM5 21h3v1h-3zM28 24h1v1h-1zM18 25h1v1h-1zM10 26h2v1h-2zM30 27h1v1h-1zM20 28h1v1h-1zM24 28h1v1h-1zM18 29h1v1h-1zM27 30h1v1h-1zM15 31h1v1h-1z"/>
<path fill="#3637a0" d="M5 4h1v1h-1zM4 5h1v1h-1zM6 5h2v1h-2zM5 6h1v1h-1zM5 7h1v1h-1zM31 12h1v1h-1zM28 17h1v1h-1zM24 20h1v1h-1zM25 22h1v1h-1zM29 22h1v1h-1zM20 24h1v1h-1zM22 25h1v1h-1zM17 28h1v1h-1zM22 29h1v1h-1zM12 31h1v1h-1z"/>
<path fill="#353dad" d="M21 4h1v1h-1zM10 8h2v1h-2zM10 9h2v1h-2zM8 10h2v1h-2zM8 11h2v1h-2zM31 13h1v1h-1zM31 14h1v1h-1zM24 17h1v1h-1zM22 18h1v1h-1zM26 19h1v1h-1zM4 21h1v1h-1zM18 22h1v1h-1zM26 23h2v1h-2zM17 24h1v1h-1zM19 26h1v1h-1zM23 26h1v1h-1zM23 27h1v1h-1zM13 31h2v1h-2z"/>
<path fill="#3243ba" d="M6 4h2v1h-2zM4 6h1v1h-1zM4 7h1v1h-1zM26 8h1v1h-1zM26 9h1v1h-1zM19 10h1v1h-1zM19 11h1v1h-1zM23 11h1v1h-1zM30 13h1v1h-1zM30 14h1v1h-1zM10 19h2v1h-2zM27 19h1v1h-1zM30 19h1v1h-1zM11 23h1v1h-1zM30 23h1v1h-1zM8 26h2v1h-2zM19 27h1v1h-1zM13 30h2v1h-2zM19 30h1v1h-1zM23 30h1v1h-1z"/>
<path fill="#2c4ac7" d="M22 8h1v1h-1zM22 9h1v1h-1zM23 10h1v1h-1zM30 12h1v1h-1zM27 13h1v1h-1zM27 14h1v1h-1zM30 15h1v1h-1zM8 22h2v1h-2zM10 23h1v1h-1zM13 27h2v1h-2zM12 30h1v1h-1zM15 30h1v1h-1z"/>
<path fill="#2053d4" d="M24 4h1v1h-1zM18 6h1v1h-1zM18 7h1v1h-1zM27 12h1v1h-1zM27 15h1v1h-1zM6 18h2v1h-2zM4 24h1v1h-1zM27 26h1v1h-1zM12 27h1v1h-1zM15 27h1v1h-1zM26 27h1v1h-1z"/>
<path fill="#0f5cdd" d="M28 4h1v1h-1zM25 6h1v1h-1zM29 6h1v1h-1zM25 7h1v1h-1zM29 7h1v1h-1zM19 8h1v1h-1zM25 8h1v1h-1zM29 8h1v1h-1zM19 9h1v1h-1zM21 18h1v1h-1zM8 19h2v1h-2zM18 21h1v1h-1zM6 25h3v1h-3zM30 26h1v1h-1zM31 27h1v1h-1zM4 28h1v1h-1zM6 29h3v1h-3zM26 30h1v1h-1zM31 30h1v1h-1zM27 31h1v1h-1zM30 31h1v1h-1z"/>
<path fill="#0363e1" d="M20 4h1v1h-1zM18 5h1v1h-1zM24 5h1v1h-1zM18 8h1v1h-1zM23 8h1v1h-1zM23 9h1v1h-1zM25 9h1v1h-1zM29 9h1v1h-1zM22 10h1v1h-1zM27 10h1v1h-1zM30 10h1v1h-1zM22 11h1v1h-1zM27 11h1v1h-1zM30 11h1v1h-1zM23 13h1v1h-1zM19 14h1v1h-1zM23 14h1v1h-1zM5 18h1v1h-1zM8 18h1v1h-1zM14 19h1v1h-1zM4 20h1v1h-1zM25 21h1v1h-1zM29 21h1v1h-1zM10 22h2v1h-2zM8 23h2v1h-2zM13 23h2v1h-2zM5 24h1v1h-1zM9 25h1v1h-1zM21 25h1v1h-1zM10 27h2v1h-2zM9 29h1v1h-1zM21 29h1v1h-1zM10 30h2v1h-2z"/>
<path fill="#0268e1" d="M17 2h1v1h-1zM17 4h1v1h-1zM25 5h1v1h-1zM28 5h2v1h-2zM22 6h1v1h-1zM22 7h1v1h-1zM18 9h1v1h-1zM19 12h1v1h-1zM23 12h1v1h-1zM19 13h1v1h-1zM23 15h1v1h-1zM17 16h1v1h-1zM2 17h1v1h-1zM4 17h1v1h-1zM16 17h1v1h-1zM9 18h1v1h-1zM12 19h2v1h-2zM24 21h1v1h-1zM6 22h2v1h-2zM26 22h1v1h-1zM12 23h1v1h-1zM15 23h1v1h-1zM21 24h1v1h-1zM5 25h1v1h-1zM22 26h1v1h-1zM5 28h1v1h-1zM5 29h1v1h-1z"/>
<path fill="#046de0" d="M17 0h1v1h-1zM17 1h1v1h-1zM17 3h1v1h-1zM18 4h1v1h-1zM20 5h1v1h-1zM24 6h1v1h-1zM24 7h1v1h-1zM19 15h1v1h-1zM20 16h1v1h-1zM0 17h2v1h-2zM3 17h1v1h-1zM4 18h1v1h-1zM15 19h1v1h-1zM5 20h1v1h-1zM16 20h1v1h-1zM22 21h1v1h-1zM28 21h1v1h-1zM21 22h1v1h-1zM6 24h2v1h-2zM21 28h1v1h-1z"/>
<path fill="#0871de" d="M20 1h1v1h-1zM20 2h1v1h-1zM20 3h1v1h-1zM25 4h1v1h-1zM29 4h1v1h-1zM17 5h1v1h-1zM28 6h1v1h-1zM28 7h1v1h-1zM27 8h1v1h-1zM27 9h1v1h-1zM30 9h1v1h-1zM18 10h1v1h-1zM25 10h1v1h-1zM29 10h1v1h-1zM25 11h1v1h-1zM29 11h1v1h-1zM26 13h1v1h-1zM26 14h1v1h-1zM28 16h1v1h-1zM5 17h1v1h-1zM10 18h1v1h-1zM31 19h1v1h-1zM1 20h3v1h-3zM21 20h1v1h-1zM20 21h1v1h-1zM31 23h1v1h-1zM4 25h1v1h-1zM10 25h2v1h-2zM13 26h2v1h-2zM8 27h2v1h-2zM6 28h2v1h-2zM16 28h1v1h-1zM4 29h1v1h-1zM10 29h2v1h-2zM9 30h1v1h-1zM19 31h1v1h-1zM23 31h1v1h-1z"/>
<path fill="#0d75dc" d="M20 0h1v1h-1zM28 0h1v1h-1zM28 1h1v1h-1zM28 2h1v1h-1zM28 3h1v1h-1zM22 5h1v1h-1zM20 6h1v1h-1zM20 7h1v1h-1zM30 8h1v1h-1zM14 10h1v1h-1zM13 11h2v1h-2zM18 11h1v1h-1zM26 12h1v1h-1zM11 13h1v1h-1zM10 14h2v1h-2zM24 16h1v1h-1zM21 17h1v1h-1zM11 18h1v1h-1zM22 19h1v1h-1zM0 20h1v1h-1zM6 20h2v1h-2zM17 21h1v1h-1zM5 22h1v1h-1zM19 22h1v1h-1zM16 24h1v1h-1zM26 25h1v1h-1zM12 26h1v1h-1zM25 26h1v1h-1zM29 26h1v1h-1zM0 28h4v1h-4zM26 29h1v1h-1zM8 30h1v1h-1z"/>
<path fill="#1079da" d="M24 1h1v1h-1zM24 2h1v1h-1zM24 3h1v1h-1zM22 4h1v1h-1zM17 6h1v1h-1zM17 7h1v1h-1zM12 10h2v1h-2zM12 11h1v1h-1zM10 12h2v1h-2zM10 13h1v1h-1zM26 15h1v1h-1zM6 17h2v1h-2zM26 18h1v1h-1zM4 22h1v1h-1zM23 22h1v1h-1zM22 23h1v1h-1zM1 24h3v1h-3zM15 26h1v1h-1zM18 26h1v1h-1z"/>
<path fill="#127dd8" d="M24 0h1v1h-1zM8 6h1v1h-1zM6 8h1v1h-1zM15 10h1v1h-1zM15 11h1v1h-1zM10 15h2v1h-2zM0 24h1v1h-1zM31 26h1v1h-1zM26 31h1v1h-1z"/>
<path fill="#1481d6" d="M9 6h1v1h-1zM8 7h2v1h-2zM7 8h1v1h-1zM21 8h1v1h-1zM6 9h2v1h-2zM14 9h1v1h-1zM21 9h1v1h-1zM31 10h1v1h-1zM31 11h1v1h-1zM9 14h1v1h-1zM25 19h1v1h-1zM29 19h1v1h-1zM8 21h2v1h-2zM25 23h1v1h-1zM29 23h1v1h-1zM19 25h1v1h-1zM23 25h1v1h-1zM19 29h1v1h-1zM23 29h1v1h-1zM10 31h2v1h-2z"/>
<path fill="#1485d4" d="M13 8h2v1h-2zM12 9h2v1h-2zM9 12h1v1h-1zM8 13h2v1h-2zM8 14h1v1h-1zM19 18h1v1h-1zM23 18h2v1h-2zM18 19h1v1h-1zM27 22h1v1h-1zM18 23h1v1h-1zM18 24h1v1h-1zM22 27h1v1h-1z"/>
<path fill="#1389d3" d="M8 5h2v1h-2zM5 8h1v1h-1zM12 8h1v1h-1zM15 8h1v1h-1zM5 9h1v1h-1zM15 9h1v1h-1zM8 12h1v1h-1zM8 15h2v1h-2zM28 18h1v1h-1zM30 22h1v1h-1zM25 24h1v1h-1zM29 24h1v1h-1zM24 25h1v1h-1zM18 28h1v1h-1zM24 29h1v1h-1zM22 30h1v1h-1z"/>
<path fill="#108ed2" d="M8 4h1v1h-1zM16 4h1v1h-1zM10 6h2v1h-2zM10 7h2v1h-2zM4 8h1v1h-1zM31 8h1v1h-1zM31 9h1v1h-1zM6 10h2v1h-2zM21 10h1v1h-1zM6 11h2v1h-2zM4 16h1v1h-1zM20 18h1v1h-1zM18 20h1v1h-1zM10 21h1v1h-1zM27 25h2v1h-2zM25 27h1v1h-1zM29 27h1v1h-1zM25 28h1v1h-1zM29 28h1v1h-1zM27 29h2v1h-2zM8 31h2v1h-2z"/>
<path fill="#0c93d2" d="M4 1h1v1h-1zM4 2h1v1h-1zM4 3h1v1h-1zM1 4h3v1h-3zM9 4h1v1h-1zM26 6h1v1h-1zM26 7h1v1h-1zM4 9h1v1h-1zM21 11h1v1h-1zM18 17h1v1h-1zM17 18h1v1h-1zM27 18h1v1h-1zM25 20h1v1h-1zM29 20h1v1h-1zM11 21h1v1h-1zM24 22h1v1h-1zM22 24h1v1h-1zM20 25h1v1h-1zM30 25h1v1h-1zM6 26h2v1h-2zM18 27h1v1h-1zM20 29h1v1h-1zM30 29h1v1h-1zM25 30h1v1h-1zM29 30h1v1h-1z"/>
<path fill="#0998d1" d="M4 0h1v1h-1zM5 2h1v1h-1zM5 3h1v1h-1zM0 4h1v1h-1zM2 5h2v1h-2zM10 5h2v1h-2zM16 5h1v1h-1zM5 10h1v1h-1zM5 11h1v1h-1zM5 16h1v1h-1zM25 17h1v1h-1zM29 17h1v1h-1zM30 18h1v1h-1zM26 21h1v1h-1zM28 22h1v1h-1zM17 25h1v1h-1zM21 26h1v1h-1zM22 28h1v1h-1zM17 29h1v1h-1zM18 30h1v1h-1z"/>
<path fill="#079ccf" d="M5 0h1v1h-1zM5 1h1v1h-1zM0 5h2v1h-2zM26 5h1v1h-1zM22 13h1v1h-1zM22 14h1v1h-1zM21 16h1v1h-1zM22 20h1v1h-1zM16 21h1v1h-1zM13 22h2v1h-2zM20 22h1v1h-1zM5 26h1v1h-1z"/>
<path fill="#06a0cd" d="M21 1h1v1h-1zM21 2h1v1h-1zM21 3h1v1h-1zM10 4h2v1h-2zM16 6h1v1h-1zM19 6h1v1h-1zM23 6h1v1h-1zM16 7h1v1h-1zM19 7h1v1h-1zM23 7h1v1h-1zM4 10h1v1h-1zM4 11h1v1h-1zM22 12h1v1h-1zM22 15h1v1h-1zM6 16h2v1h-2zM6 19h2v1h-2zM21 19h1v1h-1zM1 21h3v1h-3zM19 21h1v1h-1zM12 22h1v1h-1zM15 22h1v1h-1zM6 23h2v1h-2z"/>
<path fill="#06a4ca" d="M6 0h2v1h-2zM21 0h1v1h-1zM6 1h2v1h-2zM6 2h2v1h-2zM6 3h2v1h-2zM26 4h1v1h-1zM0 6h4v1h-4zM0 7h4v1h-4zM25 13h1v1h-1zM29 13h1v1h-1zM25 14h1v1h-1zM29 14h1v1h-1zM22 17h1v1h-1zM0 21h1v1h-1zM23 21h1v1h-1zM17 22h1v1h-1zM31 22h1v1h-1zM21 23h1v1h-1zM13 25h2v1h-2zM4 26h1v1h-1zM13 29h2v1h-2zM22 31h1v1h-1z"/>
<path fill="#06a7c6" d="M19 5h1v1h-1zM23 5h1v1h-1zM24 8h1v1h-1zM25 12h1v1h-1zM29 12h1v1h-1zM18 13h1v1h-1zM18 14h1v1h-1zM25 15h1v1h-1zM29 15h1v1h-1zM13 18h2v1h-2zM5 19h1v1h-1zM5 23h1v1h-1zM8 24h1v1h-1zM12 25h1v1h-1zM15 25h1v1h-1zM12 29h1v1h-1zM15 29h1v1h-1z"/>
<path fill="#07a9c2" d="M27 6h1v1h-1zM27 7h1v1h-1zM28 8h1v1h-1zM24 9h1v1h-1zM18 12h1v1h-1zM18 15h1v1h-1zM12 18h1v1h-1zM15 18h1v1h-1zM9 24h1v1h-1zM6 27h2v1h-2zM8 28h1v1h-1z"/>
<path fill="#0aacbe" d="M19 4h1v1h-1zM23 4h1v1h-1zM30 6h1v1h-1zM30 7h1v1h-1zM20 8h1v1h-1zM28 9h1v1h-1zM4 19h1v1h-1zM8 20h1v1h-1zM27 21h1v1h-1zM4 23h1v1h-1zM31 25h1v1h-1zM21 27h1v1h-1zM9 28h1v1h-1zM31 29h1v1h-1zM6 30h2v1h-2zM25 31h1v1h-1zM29 31h1v1h-1z"/>
<path fill="#0faeb9" d="M20 9h1v1h-1zM31 18h1v1h-1zM9 20h1v1h-1zM30 21h1v1h-1zM21 30h1v1h-1zM18 31h1v1h-1z"/>
<path fill="#15b1b4" d="M27 5h1v1h-1zM30 5h1v1h-1zM17 8h1v1h-1zM17 9h1v1h-1zM24 10h1v1h-1zM24 11h1v1h-1zM18 16h1v1h-1zM8 17h2v1h-2zM16 18h1v1h-1zM10 24h2v1h-2zM5 27h1v1h-1zM5 30h1v1h-1z"/>
<path fill="#1db3af" d="M18 1h1v1h-1zM18 2h1v1h-1zM18 3h1v1h-1zM27 4h1v1h-1zM28 10h1v1h-1zM28 11h1v1h-1zM25 16h1v1h-1zM29 16h1v1h-1zM1 18h3v1h-3zM26 24h1v1h-1zM16 25h1v1h-1zM24 26h1v1h-1zM4 27h1v1h-1zM10 28h2v1h-2zM16 29h1v1h-1z"/>
<path fill="#25b5a9" d="M18 0h1v1h-1zM25 1h1v1h-1zM29 1h1v1h-1zM25 2h1v1h-1zM29 2h1v1h-1zM25 3h1v1h-1zM29 3h1v1h-1zM30 4h1v1h-1zM13 6h2v1h-2zM13 7h2v1h-2zM20 10h1v1h-1zM20 11h1v1h-1zM6 13h2v1h-2zM6 14h2v1h-2zM0 18h1v1h-1zM10 20h2v1h-2zM1 25h3v1h-3zM28 26h1v1h-1zM26 28h1v1h-1zM1 29h3v1h-3zM4 30h1v1h-1z"/>
<path fill="#2eb7a4" d="M25 0h1v1h-1zM29 0h1v1h-1zM12 6h1v1h-1zM15 6h1v1h-1zM12 7h1v1h-1zM17 10h1v1h-1zM17 11h1v1h-1zM6 12h2v1h-2zM21 13h1v1h-1zM21 14h1v1h-1zM6 15h1v1h-1zM22 16h1v1h-1zM10 17h2v1h-2zM26 20h1v1h-1zM13 21h2v1h-2zM16 22h1v1h-1zM0 25h1v1h-1zM20 26h1v1h-1zM0 29h1v1h-1z"/>
<path fill="#38b99e" d="M22 1h1v1h-1zM22 2h1v1h-1zM22 3h1v1h-1zM14 5h1v1h-1zM15 7h1v1h-1zM21 12h1v1h-1zM5 14h1v1h-1zM7 15h1v1h-1zM21 15h1v1h-1zM26 17h1v1h-1zM24 19h1v1h-1zM12 21h1v1h-1zM15 21h1v1h-1zM1 22h3v1h-3zM24 23h1v1h-1zM19 24h1v1h-1zM23 24h1v1h-1zM17 26h1v1h-1z"/>
<path fill="#42bb98" d="M22 0h1v1h-1zM12 5h2v1h-2zM31 6h1v1h-1zM31 7h1v1h-1zM5 12h1v1h-1zM5 13h1v1h-1zM28 19h1v1h-1zM0 22h1v1h-1zM28 23h1v1h-1zM19 28h1v1h-1zM23 28h1v1h-1zM6 31h2v1h-2z"/>
<path fill="#4dbc92" d="M13 4h2v1h-2zM15 5h1v1h-1zM4 13h1v1h-1zM4 14h1v1h-1zM5 15h1v1h-1zM20 19h1v1h-1zM19 20h1v1h-1zM23 20h1v1h-1zM31 21h1v1h-1zM20 23h1v1h-1zM21 31h1v1h-1z"/>
<path fill="#59bd8c" d="M12 4h1v1h-1zM15 4h1v1h-1zM31 5h1v1h-1zM4 12h1v1h-1zM4 15h1v1h-1zM19 17h1v1h-1zM23 17h1v1h-1zM17 19h1v1h-1zM17 23h1v1h-1zM27 24h1v1h-1zM24 27h1v1h-1zM5 31h1v1h-1z"/>
<path fill="#65be86" d="M16 8h1v1h-1zM8 16h1v1h-1zM30 24h1v1h-1zM28 27h1v1h-1zM27 28h1v1h-1zM24 30h1v1h-1z"/>
<path fill="#71bf80" d="M8 1h1v1h-1zM8 2h2v1h-2zM8 3h2v1h-2zM31 4h1v1h-1zM1 8h3v1h-3zM2 9h2v1h-2zM16 9h1v1h-1zM9 16h1v1h-1zM27 20h1v1h-1zM20 27h1v1h-1zM30 28h1v1h-1zM28 30h1v1h-1zM4 31h1v1h-1z"/>
<path fill="#7cbf7b" d="M8 0h2v1h-2zM9 1h1v1h-1zM0 8h1v1h-1zM0 9h2v1h-2zM27 17h1v1h-1zM30 20h1v1h-1zM17 27h1v1h-1zM20 30h1v1h-1z"/>
<path fill="#87bf77" d="M30 17h1v1h-1zM17 30h1v1h-1z"/>
<path fill="#92bf73" d="M10 2h2v1h-2zM10 3h1v1h-1zM2 10h2v1h-2zM16 10h1v1h-1zM2 11h1v1h-1zM16 11h1v1h-1zM24 13h1v1h-1zM24 14h1v1h-1zM10 16h2v1h-2zM13 24h2v1h-2z"/>
<path fill="#9cbf6f" d="M10 0h2v1h-2zM10 1h2v1h-2zM26 2h1v1h-1zM11 3h1v1h-1zM0 10h2v1h-2zM0 11h2v1h-2zM3 11h1v1h-1zM24 12h1v1h-1zM28 13h1v1h-1zM28 14h1v1h-1zM24 15h1v1h-1zM26 16h1v1h-1zM12 24h1v1h-1zM15 24h1v1h-1zM2 26h1v1h-1zM16 26h1v1h-1zM13 28h2v1h-2z"/>
<path fill="#a5be6b" d="M26 0h1v1h-1zM26 1h1v1h-1zM26 3h1v1h-1zM28 12h1v1h-1zM20 13h1v1h-1zM20 14h1v1h-1zM13 20h2v1h-2zM0 26h2v1h-2zM3 26h1v1h-1zM12 28h1v1h-1z"/>
<path fill="#aebe67" d="M20 12h1v1h-1zM17 13h1v1h-1zM17 14h1v1h-1zM20 15h1v1h-1zM28 15h1v1h-1zM13 17h2v1h-2zM12 20h1v1h-1zM15 20h1v1h-1zM31 24h1v1h-1zM15 28h1v1h-1zM24 31h1v1h-1z"/>
<path fill="#b7bd64" d="M19 2h1v1h-1zM19 3h1v1h-1zM17 12h1v1h-1zM19 16h1v1h-1zM23 16h1v1h-1zM12 17h1v1h-1zM2 19h2v1h-2zM16 19h1v1h-1zM16 23h1v1h-1zM31 28h1v1h-1zM28 31h1v1h-1z"/>
<path fill="#c0bc60" d="M19 0h1v1h-1zM19 1h1v1h-1zM23 1h1v1h-1zM23 2h1v1h-1zM23 3h1v1h-1zM17 15h1v1h-1zM15 17h1v1h-1zM0 19h2v1h-2zM31 20h1v1h-1zM1 23h3v1h-3zM20 31h1v1h-1z"/>
<path fill="#c8bc5d" d="M23 0h1v1h-1zM31 17h1v1h-1zM0 23h1v1h-1zM17 31h1v1h-1z"/>
<path fill="#d1bb59" d="M27 16h1v1h-1zM16 27h1v1h-1z"/>
<path fill="#d9ba56" d="M27 1h1v1h-1zM27 2h1v1h-1zM27 3h1v1h-1zM30 16h1v1h-1zM1 27h3v1h-3zM16 30h1v1h-1z"/>
<path fill="#e1b952" d="M27 0h1v1h-1zM30 1h1v1h-1zM30 2h1v1h-1zM30 3h1v1h-1zM0 27h1v1h-1zM1 30h3v1h-3z"/>
<path fill="#e9b94e" d="M30 0h1v1h-1zM0 30h1v1h-1z"/>
<path fill="#f8bb44" d="M16 13h1v1h-1zM16 14h1v1h-1zM13 16h2v1h-2z"/>
<path fill="#fdbe3d" d="M14 0h1v1h-1zM13 1h2v1h-2zM13 2h2v1h-2zM13 3h2v1h-2zM16 12h1v1h-1zM1 13h3v1h-3zM0 14h4v1h-4zM12 16h1v1h-1z"/>
<path fill="#ffc337" d="M13 0h1v1h-1zM12 1h1v1h-1zM15 1h1v1h-1zM12 2h1v1h-1zM15 2h1v1h-1zM12 3h1v1h-1zM15 3h1v1h-1zM1 12h3v1h-3zM0 13h1v1h-1zM1 15h3v1h-3zM16 15h1v1h-1zM15 16h1v1h-1z"/>
<path fill="#fec832" d="M12 0h1v1h-1zM15 0h1v1h-1zM31 2h1v1h-1zM0 12h1v1h-1zM0 15h1v1h-1zM31 16h1v1h-1zM2 31h1v1h-1zM16 31h1v1h-1z"/>
<path fill="#fcce2e" d="M31 0h1v1h-1zM31 1h1v1h-1zM31 3h1v1h-1zM0 31h2v1h-2zM3 31h1v1h-1z"/>
</g>
<rect x="136.3" y="524.5" width="167.2" height="167.4" fill="none" stroke="#2f6fbe" stroke-width="1.9"/>
<rect x="136.3" y="524.5" width="167.2" height="167.4" fill="none" stroke="#29abe2" stroke-width="1.3" stroke-dasharray="1.5 1.5"/>
<line x1="95" y1="555.6" x2="112.3" y2="555.6" stroke="#f7a823" stroke-width="2.2"/>
<polygon points="127.3,555.6 111.3,560.4 111.3,550.8" fill="#f7a823"/>
<line x1="95" y1="575.6" x2="112.3" y2="575.6" stroke="#0aa650" stroke-width="2.2" stroke-dasharray="1.8 1.8"/>
<polygon points="127.3,575.6 111.3,580.1 111.3,571.1" fill="#0aa650"/>
<line x1="107.8" y1="612" x2="107.8" y2="599.5" stroke="#626366" stroke-width="2.1"/>
<polygon points="107.8,585.5 112.3,600.5 103.3,600.5" fill="#626366"/>
<line x1="343.1" y1="639.7" x2="324.8" y2="639.7" stroke="#f7a823" stroke-width="2.2"/>
<polygon points="309.8,639.7 325.8,634.9 325.8,644.5" fill="#f7a823"/>
<line x1="343.1" y1="660.2" x2="325.8" y2="660.2" stroke="#b60f19" stroke-width="2.2" stroke-dasharray="1.8 1.8"/>
<polygon points="310.8,660.2 326.8,655.7 326.8,664.7" fill="#b60f19"/>
<line x1="331.9" y1="693.1" x2="331.9" y2="681.1" stroke="#626366" stroke-width="2.1"/>
<polygon points="331.9,667.1 336.4,682.1 327.4,682.1" fill="#626366"/>
<line x1="430.2" y1="660.2" x2="417.4" y2="660.2" stroke="#626366" stroke-width="2.1"/>
<polygon points="403.4,660.2 418.4,655.7 418.4,664.7" fill="#626366"/>
<g transform="translate(436.2,598.6) scale(3.63125,3.60625)" shape-rendering="crispEdges">
<path fill="#352a87" d="M0 0h1v1h-1zM16 0h1v1h-1zM1 1h1v1h-1zM4 1h1v1h-1zM17 1h1v1h-1zM20 1h1v1h-1zM2 2h1v1h-1zM8 2h1v1h-1zM18 2h1v1h-1zM24 2h1v1h-1zM3 3h1v1h-1zM12 3h1v1h-1zM19 3h1v1h-1zM28 3h1v1h-1zM1 4h1v1h-1zM4 4h1v1h-1zM17 4h1v1h-1zM20 4h1v1h-1zM5 5h1v1h-1zM21 5h1v1h-1zM6 6h1v1h-1zM9 6h1v1h-1zM22 6h1v1h-1zM25 6h1v1h-1zM7 7h1v1h-1zM13 7h1v1h-1zM23 7h1v1h-1zM29 7h1v1h-1zM2 8h1v1h-1zM8 8h1v1h-1zM18 8h1v1h-1zM24 8h1v1h-1zM6 9h1v1h-1zM9 9h1v1h-1zM22 9h1v1h-1zM25 9h1v1h-1zM10 10h1v1h-1zM26 10h1v1h-1zM11 11h1v1h-1zM14 11h1v1h-1zM27 11h1v1h-1zM30 11h1v1h-1zM3 12h1v1h-1zM12 12h1v1h-1zM19 12h1v1h-1zM28 12h1v1h-1zM7 13h1v1h-1zM13 13h1v1h-1zM23 13h1v1h-1zM29 13h1v1h-1zM11 14h1v1h-1zM14 14h1v1h-1zM27 14h1v1h-1zM30 14h1v1h-1zM15 15h1v1h-1zM31 15h1v1h-1zM0 16h1v1h-1zM16 16h1v1h-1zM1 17h1v1h-1zM4 17h1v1h-1zM17 17h1v1h-1zM20 17h1v1h-1zM2 18h1v1h-1zM8 18h1v1h-1zM18 18h1v1h-1zM24 18h1v1h-1zM3 19h1v1h-1zM12 19h1v1h-1zM19 19h1v1h-1zM28 19h1v1h-1zM1 20h1v1h-1zM4 20h1v1h-1zM17 20h1v1h-1zM20 20h1v1h-1zM5 21h1v1h-1zM21 21h1v1h-1zM6 22h1v1h-1zM9 22h1v1h-1zM22 22h1v1h-1zM25 22h1v1h-1zM7 23h1v1h-1zM13 23h1v1h-1zM23 23h1v1h-1zM29 23h1v1h-1zM2 24h1v1h-1zM8 24h1v1h-1zM18 24h1v1h-1zM24 24h1v1h-1zM6 25h1v1h-1zM9 25h1v1h-1zM22 25h1v1h-1zM25 25h1v1h-1zM10 26h1v1h-1zM26 26h1v1h-1zM11 27h1v1h-1zM14 27h1v1h-1zM27 27h1v1h-1zM30 27h1v1h-1zM3 28h1v1h-1zM12 28h1v1h-1zM19 28h1v1h-1zM28 28h1v1h-1zM7 29h1v1h-1zM13 29h1v1h-1zM23 29h1v1h-1zM29 29h1v1h-1zM11 30h1v1h-1zM14 30h1v1h-1zM27 30h1v1h-1zM30 30h1v1h-1zM15 31h1v1h-1zM31 31h1v1h-1z"/>
<path fill="#363093" d="M5 1h1v1h-1zM21 1h1v1h-1zM7 2h1v1h-1zM13 2h1v1h-1zM23 2h1v1h-1zM29 2h1v1h-1zM5 4h1v1h-1zM21 4h1v1h-1zM1 5h1v1h-1zM4 5h1v1h-1zM17 5h1v1h-1zM20 5h1v1h-1zM10 6h1v1h-1zM26 6h1v1h-1zM2 7h1v1h-1zM8 7h1v1h-1zM18 7h1v1h-1zM24 7h1v1h-1zM7 8h1v1h-1zM13 8h1v1h-1zM23 8h1v1h-1zM29 8h1v1h-1zM10 9h1v1h-1zM26 9h1v1h-1zM6 10h1v1h-1zM9 10h1v1h-1zM22 10h1v1h-1zM25 10h1v1h-1zM15 11h1v1h-1zM31 11h1v1h-1zM2 13h1v1h-1zM8 13h1v1h-1zM18 13h1v1h-1zM24 13h1v1h-1zM15 14h1v1h-1zM31 14h1v1h-1zM11 15h1v1h-1zM14 15h1v1h-1zM27 15h1v1h-1zM30 15h1v1h-1zM5 17h1v1h-1zM21 17h1v1h-1zM7 18h1v1h-1zM13 18h1v1h-1zM23 18h1v1h-1zM29 18h1v1h-1zM5 20h1v1h-1zM21 20h1v1h-1zM1 21h1v1h-1zM4 21h1v1h-1zM17 21h1v1h-1zM20 21h1v1h-1zM10 22h1v1h-1zM26 22h1v1h-1zM2 23h1v1h-1zM8 23h1v1h-1zM18 23h1v1h-1zM24 23h1v1h-1zM7 24h1v1h-1zM13 24h1v1h-1zM23 24h1v1h-1zM29 24h1v1h-1zM10 25h1v1h-1zM26 25h1v1h-1zM6 26h1v1h-1zM9 26h1v1h-1zM22 26h1v1h-1zM25 26h1v1h-1zM15 27h1v1h-1zM31 27h1v1h-1zM2 29h1v1h-1zM8 29h1v1h-1zM18 29h1v1h-1zM24 29h1v1h-1zM15 30h1v1h-1zM31 30h1v1h-1zM11 31h1v1h-1zM14 31h1v1h-1zM27 31h1v1h-1zM30 31h1v1h-1z"/>
<path fill="#3637a0" d="M6 1h1v1h-1zM9 1h2v1h-2zM22 1h1v1h-1zM25 1h2v1h-2zM6 4h1v1h-1zM9 4h2v1h-2zM22 4h1v1h-1zM25 4h2v1h-2zM1 6h1v1h-1zM4 6h1v1h-1zM11 6h1v1h-1zM14 6h2v1h-2zM17 6h1v1h-1zM20 6h1v1h-1zM27 6h1v1h-1zM30 6h2v1h-2zM1 9h1v1h-1zM4 9h1v1h-1zM11 9h1v1h-1zM14 9h2v1h-2zM17 9h1v1h-1zM20 9h1v1h-1zM27 9h1v1h-1zM30 9h2v1h-2zM1 10h1v1h-1zM4 10h1v1h-1zM17 10h1v1h-1zM20 10h1v1h-1zM6 11h1v1h-1zM9 11h1v1h-1zM22 11h1v1h-1zM25 11h1v1h-1zM6 14h1v1h-1zM9 14h1v1h-1zM22 14h1v1h-1zM25 14h1v1h-1zM6 15h1v1h-1zM9 15h1v1h-1zM22 15h1v1h-1zM25 15h1v1h-1zM6 17h1v1h-1zM9 17h2v1h-2zM22 17h1v1h-1zM25 17h2v1h-2zM6 20h1v1h-1zM9 20h2v1h-2zM22 20h1v1h-1zM25 20h2v1h-2zM1 22h1v1h-1zM4 22h1v1h-1zM11 22h1v1h-1zM14 22h2v1h-2zM17 22h1v1h-1zM20 22h1v1h-1zM27 22h1v1h-1zM30 22h2v1h-2zM1 25h1v1h-1zM4 25h1v1h-1zM11 25h1v1h-1zM14 25h2v1h-2zM17 25h1v1h-1zM20 25h1v1h-1zM27 25h1v1h-1zM30 25h2v1h-2zM1 26h1v1h-1zM4 26h1v1h-1zM17 26h1v1h-1zM20 26h1v1h-1zM6 27h1v1h-1zM9 27h1v1h-1zM22 27h1v1h-1zM25 27h1v1h-1zM6 30h1v1h-1zM9 30h1v1h-1zM22 30h1v1h-1zM25 30h1v1h-1zM6 31h1v1h-1zM9 31h1v1h-1zM22 31h1v1h-1zM25 31h1v1h-1z"/>
<path fill="#353dad" d="M5 0h1v1h-1zM21 0h1v1h-1zM0 5h1v1h-1zM6 5h1v1h-1zM9 5h2v1h-2zM16 5h1v1h-1zM22 5h1v1h-1zM25 5h2v1h-2zM5 6h1v1h-1zM21 6h1v1h-1zM5 9h1v1h-1zM21 9h1v1h-1zM5 10h1v1h-1zM11 10h1v1h-1zM14 10h2v1h-2zM21 10h1v1h-1zM27 10h1v1h-1zM30 10h2v1h-2zM10 11h1v1h-1zM26 11h1v1h-1zM10 14h1v1h-1zM26 14h1v1h-1zM10 15h1v1h-1zM26 15h1v1h-1zM5 16h1v1h-1zM21 16h1v1h-1zM0 21h1v1h-1zM6 21h1v1h-1zM9 21h2v1h-2zM16 21h1v1h-1zM22 21h1v1h-1zM25 21h2v1h-2zM5 22h1v1h-1zM21 22h1v1h-1zM5 25h1v1h-1zM21 25h1v1h-1zM5 26h1v1h-1zM11 26h1v1h-1zM14 26h2v1h-2zM21 26h1v1h-1zM27 26h1v1h-1zM30 26h2v1h-2zM10 27h1v1h-1zM26 27h1v1h-1zM10 30h1v1h-1zM26 30h1v1h-1zM10 31h1v1h-1zM26 31h1v1h-1z"/>
<path fill="#3243ba" d="M1 0h1v1h-1zM4 0h1v1h-1zM17 0h1v1h-1zM20 0h1v1h-1zM0 1h1v1h-1zM15 1h2v1h-2zM31 1h1v1h-1zM0 4h1v1h-1zM15 4h2v1h-2zM31 4h1v1h-1zM1 15h1v1h-1zM4 15h1v1h-1zM17 15h1v1h-1zM20 15h1v1h-1zM1 16h1v1h-1zM4 16h1v1h-1zM17 16h1v1h-1zM20 16h1v1h-1zM0 17h1v1h-1zM15 17h2v1h-2zM31 17h1v1h-1zM0 20h1v1h-1zM15 20h2v1h-2zM31 20h1v1h-1zM1 31h1v1h-1zM4 31h1v1h-1zM17 31h1v1h-1zM20 31h1v1h-1z"/>
<path fill="#2c4ac7" d="M10 0h1v1h-1zM26 0h1v1h-1zM11 1h1v1h-1zM14 1h1v1h-1zM27 1h1v1h-1zM30 1h1v1h-1zM11 4h1v1h-1zM14 4h1v1h-1zM27 4h1v1h-1zM30 4h1v1h-1zM15 5h1v1h-1zM31 5h1v1h-1zM0 10h1v1h-1zM16 10h1v1h-1zM1 11h1v1h-1zM4 11h1v1h-1zM17 11h1v1h-1zM20 11h1v1h-1zM1 14h1v1h-1zM4 14h1v1h-1zM17 14h1v1h-1zM20 14h1v1h-1zM5 15h1v1h-1zM21 15h1v1h-1zM10 16h1v1h-1zM26 16h1v1h-1zM11 17h1v1h-1zM14 17h1v1h-1zM27 17h1v1h-1zM30 17h1v1h-1zM11 20h1v1h-1zM14 20h1v1h-1zM27 20h1v1h-1zM30 20h1v1h-1zM15 21h1v1h-1zM31 21h1v1h-1zM0 26h1v1h-1zM16 26h1v1h-1zM1 27h1v1h-1zM4 27h1v1h-1zM17 27h1v1h-1zM20 27h1v1h-1zM1 30h1v1h-1zM4 30h1v1h-1zM17 30h1v1h-1zM20 30h1v1h-1zM5 31h1v1h-1zM21 31h1v1h-1z"/>
<path fill="#2053d4" d="M6 0h1v1h-1zM9 0h1v1h-1zM22 0h1v1h-1zM25 0h1v1h-1zM11 5h1v1h-1zM14 5h1v1h-1zM27 5h1v1h-1zM30 5h1v1h-1zM0 6h1v1h-1zM16 6h1v1h-1zM0 9h1v1h-1zM16 9h1v1h-1zM5 11h1v1h-1zM21 11h1v1h-1zM5 14h1v1h-1zM21 14h1v1h-1zM6 16h1v1h-1zM9 16h1v1h-1zM22 16h1v1h-1zM25 16h1v1h-1zM11 21h1v1h-1zM14 21h1v1h-1zM27 21h1v1h-1zM30 21h1v1h-1zM0 22h1v1h-1zM16 22h1v1h-1zM0 25h1v1h-1zM16 25h1v1h-1zM5 27h1v1h-1zM21 27h1v1h-1zM5 30h1v1h-1zM21 30h1v1h-1z"/>
<path fill="#0363e1" d="M11 0h1v1h-1zM14 0h2v1h-2zM27 0h1v1h-1zM30 0h2v1h-2zM0 11h1v1h-1zM16 11h1v1h-1zM0 14h1v1h-1zM16 14h1v1h-1zM0 15h1v1h-1zM16 15h1v1h-1zM11 16h1v1h-1zM14 16h2v1h-2zM27 16h1v1h-1zM30 16h2v1h-2zM0 27h1v1h-1zM16 27h1v1h-1zM0 30h1v1h-1zM16 30h1v1h-1zM0 31h1v1h-1zM16 31h1v1h-1z"/>
<path fill="#0998d1" d="M7 3h1v1h-1zM13 3h1v1h-1zM23 3h1v1h-1zM29 3h1v1h-1zM3 7h1v1h-1zM12 7h1v1h-1zM19 7h1v1h-1zM28 7h1v1h-1zM7 12h1v1h-1zM13 12h1v1h-1zM23 12h1v1h-1zM29 12h1v1h-1zM3 13h1v1h-1zM12 13h1v1h-1zM19 13h1v1h-1zM28 13h1v1h-1zM7 19h1v1h-1zM13 19h1v1h-1zM23 19h1v1h-1zM29 19h1v1h-1zM3 23h1v1h-1zM12 23h1v1h-1zM19 23h1v1h-1zM28 23h1v1h-1zM7 28h1v1h-1zM13 28h1v1h-1zM23 28h1v1h-1zM29 28h1v1h-1zM3 29h1v1h-1zM12 29h1v1h-1zM19 29h1v1h-1zM28 29h1v1h-1z"/>
<path fill="#079ccf" d="M3 2h1v1h-1zM12 2h1v1h-1zM19 2h1v1h-1zM28 2h1v1h-1zM2 3h1v1h-1zM8 3h1v1h-1zM18 3h1v1h-1zM24 3h1v1h-1zM3 8h1v1h-1zM12 8h1v1h-1zM19 8h1v1h-1zM28 8h1v1h-1zM2 12h1v1h-1zM8 12h1v1h-1zM18 12h1v1h-1zM24 12h1v1h-1zM3 18h1v1h-1zM12 18h1v1h-1zM19 18h1v1h-1zM28 18h1v1h-1zM2 19h1v1h-1zM8 19h1v1h-1zM18 19h1v1h-1zM24 19h1v1h-1zM3 24h1v1h-1zM12 24h1v1h-1zM19 24h1v1h-1zM28 24h1v1h-1zM2 28h1v1h-1zM8 28h1v1h-1zM18 28h1v1h-1zM24 28h1v1h-1z"/>
<path fill="#06a7c6" d="M11 2h1v1h-1zM14 2h1v1h-1zM27 2h1v1h-1zM30 2h1v1h-1zM11 8h1v1h-1zM14 8h1v1h-1zM27 8h1v1h-1zM30 8h1v1h-1zM2 11h1v1h-1zM8 11h1v1h-1zM18 11h1v1h-1zM24 11h1v1h-1zM2 14h1v1h-1zM8 14h1v1h-1zM18 14h1v1h-1zM24 14h1v1h-1zM11 18h1v1h-1zM14 18h1v1h-1zM27 18h1v1h-1zM30 18h1v1h-1zM11 24h1v1h-1zM14 24h1v1h-1zM27 24h1v1h-1zM30 24h1v1h-1zM2 27h1v1h-1zM8 27h1v1h-1zM18 27h1v1h-1zM24 27h1v1h-1zM2 30h1v1h-1zM8 30h1v1h-1zM18 30h1v1h-1zM24 30h1v1h-1z"/>
<path fill="#07a9c2" d="M15 2h1v1h-1zM31 2h1v1h-1zM11 7h1v1h-1zM14 7h1v1h-1zM27 7h1v1h-1zM30 7h1v1h-1zM15 8h1v1h-1zM31 8h1v1h-1zM7 11h1v1h-1zM13 11h1v1h-1zM23 11h1v1h-1zM29 11h1v1h-1zM11 13h1v1h-1zM14 13h1v1h-1zM27 13h1v1h-1zM30 13h1v1h-1zM7 14h1v1h-1zM13 14h1v1h-1zM23 14h1v1h-1zM29 14h1v1h-1zM2 15h1v1h-1zM8 15h1v1h-1zM18 15h1v1h-1zM24 15h1v1h-1zM15 18h1v1h-1zM31 18h1v1h-1zM11 23h1v1h-1zM14 23h1v1h-1zM27 23h1v1h-1zM30 23h1v1h-1zM15 24h1v1h-1zM31 24h1v1h-1zM7 27h1v1h-1zM13 27h1v1h-1zM23 27h1v1h-1zM29 27h1v1h-1zM11 29h1v1h-1zM14 29h1v1h-1zM27 29h1v1h-1zM30 29h1v1h-1zM7 30h1v1h-1zM13 30h1v1h-1zM23 30h1v1h-1zM29 30h1v1h-1zM2 31h1v1h-1zM8 31h1v1h-1zM18 31h1v1h-1zM24 31h1v1h-1z"/>
<path fill="#0aacbe" d="M6 2h1v1h-1zM9 2h1v1h-1zM22 2h1v1h-1zM25 2h1v1h-1zM2 6h1v1h-1zM8 6h1v1h-1zM18 6h1v1h-1zM24 6h1v1h-1zM15 7h1v1h-1zM31 7h1v1h-1zM6 8h1v1h-1zM9 8h1v1h-1zM22 8h1v1h-1zM25 8h1v1h-1zM2 9h1v1h-1zM8 9h1v1h-1zM18 9h1v1h-1zM24 9h1v1h-1zM15 13h1v1h-1zM31 13h1v1h-1zM7 15h1v1h-1zM13 15h1v1h-1zM23 15h1v1h-1zM29 15h1v1h-1zM6 18h1v1h-1zM9 18h1v1h-1zM22 18h1v1h-1zM25 18h1v1h-1zM2 22h1v1h-1zM8 22h1v1h-1zM18 22h1v1h-1zM24 22h1v1h-1zM15 23h1v1h-1zM31 23h1v1h-1zM6 24h1v1h-1zM9 24h1v1h-1zM22 24h1v1h-1zM25 24h1v1h-1zM2 25h1v1h-1zM8 25h1v1h-1zM18 25h1v1h-1zM24 25h1v1h-1zM15 29h1v1h-1zM31 29h1v1h-1zM7 31h1v1h-1zM13 31h1v1h-1zM23 31h1v1h-1zM29 31h1v1h-1z"/>
<path fill="#0faeb9" d="M10 2h1v1h-1zM26 2h1v1h-1zM10 8h1v1h-1zM26 8h1v1h-1zM2 10h1v1h-1zM8 10h1v1h-1zM18 10h1v1h-1zM24 10h1v1h-1zM10 18h1v1h-1zM26 18h1v1h-1zM10 24h1v1h-1zM26 24h1v1h-1zM2 26h1v1h-1zM8 26h1v1h-1zM18 26h1v1h-1zM24 26h1v1h-1z"/>
<path fill="#15b1b4" d="M7 6h1v1h-1zM13 6h1v1h-1zM23 6h1v1h-1zM29 6h1v1h-1zM6 7h1v1h-1zM9 7h2v1h-2zM22 7h1v1h-1zM25 7h2v1h-2zM7 9h1v1h-1zM13 9h1v1h-1zM23 9h1v1h-1zM29 9h1v1h-1zM7 10h1v1h-1zM13 10h1v1h-1zM23 10h1v1h-1zM29 10h1v1h-1zM6 13h1v1h-1zM9 13h2v1h-2zM22 13h1v1h-1zM25 13h2v1h-2zM7 22h1v1h-1zM13 22h1v1h-1zM23 22h1v1h-1zM29 22h1v1h-1zM6 23h1v1h-1zM9 23h2v1h-2zM22 23h1v1h-1zM25 23h2v1h-2zM7 25h1v1h-1zM13 25h1v1h-1zM23 25h1v1h-1zM29 25h1v1h-1zM7 26h1v1h-1zM13 26h1v1h-1zM23 26h1v1h-1zM29 26h1v1h-1zM6 29h1v1h-1zM9 29h2v1h-2zM22 29h1v1h-1zM25 29h2v1h-2z"/>
<path fill="#1db3af" d="M2 1h1v1h-1zM8 1h1v1h-1zM18 1h1v1h-1zM24 1h1v1h-1zM1 2h1v1h-1zM4 2h1v1h-1zM17 2h1v1h-1zM20 2h1v1h-1zM2 4h1v1h-1zM8 4h1v1h-1zM18 4h1v1h-1zM24 4h1v1h-1zM1 8h1v1h-1zM4 8h1v1h-1zM17 8h1v1h-1zM20 8h1v1h-1zM2 17h1v1h-1zM8 17h1v1h-1zM18 17h1v1h-1zM24 17h1v1h-1zM1 18h1v1h-1zM4 18h1v1h-1zM17 18h1v1h-1zM20 18h1v1h-1zM2 20h1v1h-1zM8 20h1v1h-1zM18 20h1v1h-1zM24 20h1v1h-1zM1 24h1v1h-1zM4 24h1v1h-1zM17 24h1v1h-1zM20 24h1v1h-1z"/>
<path fill="#25b5a9" d="M7 1h1v1h-1zM13 1h1v1h-1zM23 1h1v1h-1zM29 1h1v1h-1zM5 2h1v1h-1zM21 2h1v1h-1zM7 4h1v1h-1zM13 4h1v1h-1zM23 4h1v1h-1zM29 4h1v1h-1zM2 5h1v1h-1zM8 5h1v1h-1zM18 5h1v1h-1zM24 5h1v1h-1zM1 7h1v1h-1zM4 7h1v1h-1zM17 7h1v1h-1zM20 7h1v1h-1zM5 8h1v1h-1zM21 8h1v1h-1zM1 13h1v1h-1zM4 13h1v1h-1zM17 13h1v1h-1zM20 13h1v1h-1zM7 17h1v1h-1zM13 17h1v1h-1zM23 17h1v1h-1zM29 17h1v1h-1zM5 18h1v1h-1zM21 18h1v1h-1zM7 20h1v1h-1zM13 20h1v1h-1zM23 20h1v1h-1zM29 20h1v1h-1zM2 21h1v1h-1zM8 21h1v1h-1zM18 21h1v1h-1zM24 21h1v1h-1zM1 23h1v1h-1zM4 23h1v1h-1zM17 23h1v1h-1zM20 23h1v1h-1zM5 24h1v1h-1zM21 24h1v1h-1zM1 29h1v1h-1zM4 29h1v1h-1zM17 29h1v1h-1zM20 29h1v1h-1z"/>
<path fill="#2eb7a4" d="M7 5h1v1h-1zM13 5h1v1h-1zM23 5h1v1h-1zM29 5h1v1h-1zM5 7h1v1h-1zM21 7h1v1h-1zM5 13h1v1h-1zM21 13h1v1h-1zM7 21h1v1h-1zM13 21h1v1h-1zM23 21h1v1h-1zM29 21h1v1h-1zM5 23h1v1h-1zM21 23h1v1h-1zM5 29h1v1h-1zM21 29h1v1h-1z"/>
<path fill="#38b99e" d="M2 0h1v1h-1zM8 0h1v1h-1zM18 0h1v1h-1zM24 0h1v1h-1zM0 2h1v1h-1zM16 2h1v1h-1zM0 8h1v1h-1zM16 8h1v1h-1zM2 16h1v1h-1zM8 16h1v1h-1zM18 16h1v1h-1zM24 16h1v1h-1zM0 18h1v1h-1zM16 18h1v1h-1zM0 24h1v1h-1zM16 24h1v1h-1z"/>
<path fill="#4dbc92" d="M7 0h1v1h-1zM13 0h1v1h-1zM23 0h1v1h-1zM29 0h1v1h-1zM0 7h1v1h-1zM16 7h1v1h-1zM0 13h1v1h-1zM16 13h1v1h-1zM7 16h1v1h-1zM13 16h1v1h-1zM23 16h1v1h-1zM29 16h1v1h-1zM0 23h1v1h-1zM16 23h1v1h-1zM0 29h1v1h-1zM16 29h1v1h-1z"/>
<path fill="#c0bc60" d="M11 3h1v1h-1zM14 3h2v1h-2zM27 3h1v1h-1zM30 3h2v1h-2zM3 11h1v1h-1zM12 11h1v1h-1zM19 11h1v1h-1zM28 11h1v1h-1zM11 12h1v1h-1zM14 12h2v1h-2zM27 12h1v1h-1zM30 12h2v1h-2zM3 14h1v1h-1zM12 14h1v1h-1zM19 14h1v1h-1zM28 14h1v1h-1zM3 15h1v1h-1zM12 15h1v1h-1zM19 15h1v1h-1zM28 15h1v1h-1zM11 19h1v1h-1zM14 19h2v1h-2zM27 19h1v1h-1zM30 19h2v1h-2zM3 27h1v1h-1zM12 27h1v1h-1zM19 27h1v1h-1zM28 27h1v1h-1zM11 28h1v1h-1zM14 28h2v1h-2zM27 28h1v1h-1zM30 28h2v1h-2zM3 30h1v1h-1zM12 30h1v1h-1zM19 30h1v1h-1zM28 30h1v1h-1zM3 31h1v1h-1zM12 31h1v1h-1zM19 31h1v1h-1zM28 31h1v1h-1z"/>
<path fill="#d1bb59" d="M6 3h1v1h-1zM9 3h1v1h-1zM22 3h1v1h-1zM25 3h1v1h-1zM3 6h1v1h-1zM12 6h1v1h-1zM19 6h1v1h-1zM28 6h1v1h-1zM3 9h1v1h-1zM12 9h1v1h-1zM19 9h1v1h-1zM28 9h1v1h-1zM6 12h1v1h-1zM9 12h1v1h-1zM22 12h1v1h-1zM25 12h1v1h-1zM6 19h1v1h-1zM9 19h1v1h-1zM22 19h1v1h-1zM25 19h1v1h-1zM3 22h1v1h-1zM12 22h1v1h-1zM19 22h1v1h-1zM28 22h1v1h-1zM3 25h1v1h-1zM12 25h1v1h-1zM19 25h1v1h-1zM28 25h1v1h-1zM6 28h1v1h-1zM9 28h1v1h-1zM22 28h1v1h-1zM25 28h1v1h-1z"/>
<path fill="#d9ba56" d="M10 3h1v1h-1zM26 3h1v1h-1zM3 10h1v1h-1zM12 10h1v1h-1zM19 10h1v1h-1zM28 10h1v1h-1zM10 12h1v1h-1zM26 12h1v1h-1zM10 19h1v1h-1zM26 19h1v1h-1zM3 26h1v1h-1zM12 26h1v1h-1zM19 26h1v1h-1zM28 26h1v1h-1zM10 28h1v1h-1zM26 28h1v1h-1z"/>
<path fill="#e9b94e" d="M3 1h1v1h-1zM12 1h1v1h-1zM19 1h1v1h-1zM28 1h1v1h-1zM1 3h1v1h-1zM4 3h1v1h-1zM17 3h1v1h-1zM20 3h1v1h-1zM3 4h1v1h-1zM12 4h1v1h-1zM19 4h1v1h-1zM28 4h1v1h-1zM1 12h1v1h-1zM4 12h1v1h-1zM17 12h1v1h-1zM20 12h1v1h-1zM3 17h1v1h-1zM12 17h1v1h-1zM19 17h1v1h-1zM28 17h1v1h-1zM1 19h1v1h-1zM4 19h1v1h-1zM17 19h1v1h-1zM20 19h1v1h-1zM3 20h1v1h-1zM12 20h1v1h-1zM19 20h1v1h-1zM28 20h1v1h-1zM1 28h1v1h-1zM4 28h1v1h-1zM17 28h1v1h-1zM20 28h1v1h-1z"/>
<path fill="#f1b94a" d="M5 3h1v1h-1zM21 3h1v1h-1zM3 5h1v1h-1zM12 5h1v1h-1zM19 5h1v1h-1zM28 5h1v1h-1zM5 12h1v1h-1zM21 12h1v1h-1zM5 19h1v1h-1zM21 19h1v1h-1zM3 21h1v1h-1zM12 21h1v1h-1zM19 21h1v1h-1zM28 21h1v1h-1zM5 28h1v1h-1zM21 28h1v1h-1z"/>
<path fill="#fdbe3d" d="M3 0h1v1h-1zM12 0h1v1h-1zM19 0h1v1h-1zM28 0h1v1h-1zM0 3h1v1h-1zM16 3h1v1h-1zM0 12h1v1h-1zM16 12h1v1h-1zM3 16h1v1h-1zM12 16h1v1h-1zM19 16h1v1h-1zM28 16h1v1h-1zM0 19h1v1h-1zM16 19h1v1h-1zM0 28h1v1h-1zM16 28h1v1h-1z"/>
</g>
<rect x="435.7" y="598.1" width="117.2" height="116.4" rx="1.5" fill="none" stroke="#6a6a6a" stroke-width="1.5"/>
<rect x="435.8" y="579.2" width="116.6" height="14.6" fill="url(#ph)" stroke="#222" stroke-width="0.9"/>
<line x1="452.46" y1="593.8" x2="452.46" y2="591.8" stroke="#111" stroke-width="0.8"/>
<line x1="469.11" y1="593.8" x2="469.11" y2="591.8" stroke="#111" stroke-width="0.8"/>
<line x1="485.77" y1="593.8" x2="485.77" y2="591.8" stroke="#111" stroke-width="0.8"/>
<line x1="502.43" y1="593.8" x2="502.43" y2="591.8" stroke="#111" stroke-width="0.8"/>
<line x1="519.09" y1="593.8" x2="519.09" y2="591.8" stroke="#111" stroke-width="0.8"/>
<line x1="535.74" y1="593.8" x2="535.74" y2="591.8" stroke="#111" stroke-width="0.8"/>
<text x="435.5" y="574" text-anchor="middle" fill="#111" stroke="#111" font-size="14.5">0</text>
<text x="551" y="574" text-anchor="middle" fill="#111" stroke="#111" font-size="14.5">0.7</text>
<text x="497.5" y="565.5" text-anchor="middle" font-size="14.5" fill="#111" stroke="#111">&#916;<tspan class="i">p</tspan></text>
<text x="184.2" y="474.6" fill="#2e3192" font-size="14.2" class="i" stroke="#2e3192">N</text>
<text transform="translate(185,466.7) scale(1.12,1.7)" fill="#2e3192" font-size="12" style="font-family:'DejaVu Sans',sans-serif" stroke="#2e3192">&#x2322;</text>
<text x="192.6" y="478.2" fill="#2e3192" font-size="9.4" stroke="#2e3192">A</text>
<text x="200" y="474.6" text-anchor="start" fill="#4d4d4f" stroke="#4d4d4f" font-size="14.2">=</text>
<text x="211.5" y="474.6" fill="#626366" font-size="14.2" stroke="#626366"><tspan class="i">p</tspan>(<tspan class="i">C</tspan>=1<tspan dx="1" dy="-0.6" font-size="12.6">|</tspan></text>
<text x="257.5" y="474.6" fill="#626366" font-size="14.2" class="i" stroke="#626366">x</text>
<text x="264.1" y="477.6" fill="#626366" font-size="9.2" stroke="#626366">A</text>
<text x="269.5" y="474.6" fill="#626366" font-size="14.2" stroke="#626366">,</text>
<text x="276" y="474.6" fill="#626366" font-size="14.2" class="i" stroke="#626366">x</text>
<text x="282.5" y="477.6" fill="#626366" font-size="9.2" stroke="#626366">V</text>
<text x="289.1" y="474.6" fill="#626366" font-size="14.2" stroke="#626366">)</text>
<text x="297.8" y="474.6" fill="#f7a823" font-size="14.2" class="i" stroke="#f7a823">N</text>
<text transform="translate(298.6,466.7) scale(1.12,1.7)" fill="#f7a823" font-size="12" style="font-family:'DejaVu Sans',sans-serif" stroke="#f7a823">&#x2322;</text>
<text x="307.2" y="477.9" fill="#f7a823" font-size="10.2" stroke="#f7a823">AV, C=1</text>
<text x="351.6" y="474.6" text-anchor="start" fill="#222" stroke="#222" font-size="14.2">+</text>
<text x="366.4" y="474.6" fill="#626366" font-size="14.2" stroke="#626366"><tspan class="i">p</tspan>(<tspan class="i">C</tspan>=2<tspan dx="1" dy="-0.6" font-size="12.6">|</tspan></text>
<text x="412.4" y="474.6" fill="#626366" font-size="14.2" class="i" stroke="#626366">x</text>
<text x="419" y="477.6" fill="#626366" font-size="9.2" stroke="#626366">A</text>
<text x="424.4" y="474.6" fill="#626366" font-size="14.2" stroke="#626366">,</text>
<text x="430.9" y="474.6" fill="#626366" font-size="14.2" class="i" stroke="#626366">x</text>
<text x="437.4" y="477.6" fill="#626366" font-size="9.2" stroke="#626366">V</text>
<text x="444" y="474.6" fill="#626366" font-size="14.2" stroke="#626366">)</text>
<text x="452.4" y="474.6" fill="#0aa650" font-size="14.2" class="i" stroke="#0aa650">N</text>
<text transform="translate(453.2,466.7) scale(1.12,1.7)" fill="#0aa650" font-size="12" style="font-family:'DejaVu Sans',sans-serif" stroke="#0aa650">&#x2322;</text>
<text x="461.8" y="477.9" fill="#0aa650" font-size="10.2" stroke="#0aa650">A, C=2</text>
<text x="184.2" y="506.3" fill="#29abe2" font-size="14.2" class="i" stroke="#29abe2">N</text>
<text transform="translate(185,498.4) scale(1.12,1.7)" fill="#29abe2" font-size="12" style="font-family:'DejaVu Sans',sans-serif" stroke="#29abe2">&#x2322;</text>
<text x="192.6" y="509.9" fill="#29abe2" font-size="9.4" stroke="#29abe2">V</text>
<text x="200" y="506.3" text-anchor="start" fill="#4d4d4f" stroke="#4d4d4f" font-size="14.2">=</text>
<text x="211.5" y="506.3" fill="#626366" font-size="14.2" stroke="#626366"><tspan class="i">p</tspan>(<tspan class="i">C</tspan>=1<tspan dx="1" dy="-0.6" font-size="12.6">|</tspan></text>
<text x="257.5" y="506.3" fill="#626366" font-size="14.2" class="i" stroke="#626366">x</text>
<text x="264.1" y="509.3" fill="#626366" font-size="9.2" stroke="#626366">A</text>
<text x="269.5" y="506.3" fill="#626366" font-size="14.2" stroke="#626366">,</text>
<text x="276" y="506.3" fill="#626366" font-size="14.2" class="i" stroke="#626366">x</text>
<text x="282.5" y="509.3" fill="#626366" font-size="9.2" stroke="#626366">V</text>
<text x="289.1" y="506.3" fill="#626366" font-size="14.2" stroke="#626366">)</text>
<text x="297.8" y="506.3" fill="#f7a823" font-size="14.2" class="i" stroke="#f7a823">N</text>
<text transform="translate(298.6,498.4) scale(1.12,1.7)" fill="#f7a823" font-size="12" style="font-family:'DejaVu Sans',sans-serif" stroke="#f7a823">&#x2322;</text>
<text x="307.2" y="509.6" fill="#f7a823" font-size="10.2" stroke="#f7a823">AV, C=1</text>
<text x="351.6" y="506.3" text-anchor="start" fill="#222" stroke="#222" font-size="14.2">+</text>
<text x="366.4" y="506.3" fill="#626366" font-size="14.2" stroke="#626366"><tspan class="i">p</tspan>(<tspan class="i">C</tspan>=2<tspan dx="1" dy="-0.6" font-size="12.6">|</tspan></text>
<text x="412.4" y="506.3" fill="#626366" font-size="14.2" class="i" stroke="#626366">x</text>
<text x="419" y="509.3" fill="#626366" font-size="9.2" stroke="#626366">A</text>
<text x="424.4" y="506.3" fill="#626366" font-size="14.2" stroke="#626366">,</text>
<text x="430.9" y="506.3" fill="#626366" font-size="14.2" class="i" stroke="#626366">x</text>
<text x="437.4" y="509.3" fill="#626366" font-size="9.2" stroke="#626366">V</text>
<text x="444" y="506.3" fill="#626366" font-size="14.2" stroke="#626366">)</text>
<text x="452.4" y="506.3" fill="#b60f19" font-size="14.2" class="i" stroke="#b60f19">N</text>
<text transform="translate(453.2,498.4) scale(1.12,1.7)" fill="#b60f19" font-size="12" style="font-family:'DejaVu Sans',sans-serif" stroke="#b60f19">&#x2322;</text>
<text x="461.8" y="509.6" fill="#b60f19" font-size="10.2" stroke="#b60f19">V, C=2</text>
<text x="135.9" y="710.7" text-anchor="start" fill="#111" stroke="#111" font-size="14.5">Final BCI estimate</text>
<text x="257.4" y="710.7" fill="#2e3192" font-size="14.2" class="i" stroke="#2e3192">N</text>
<text transform="translate(258.2,702.8) scale(1.12,1.7)" fill="#2e3192" font-size="12" style="font-family:'DejaVu Sans',sans-serif" stroke="#2e3192">&#x2322;</text>
<text x="267" y="714.4" fill="#2e3192" font-size="10" stroke="#2e3192">A</text>
<text x="274" y="710.7" text-anchor="start" fill="#2e3192" stroke="#2e3192" font-size="14.5">or</text>
<text x="293" y="710.7" fill="#29abe2" font-size="14.2" class="i" stroke="#29abe2">N</text>
<text transform="translate(293.8,702.8) scale(1.12,1.7)" fill="#29abe2" font-size="12" style="font-family:'DejaVu Sans',sans-serif" stroke="#29abe2">&#x2322;</text>
<text x="302.6" y="714.4" fill="#29abe2" font-size="10" stroke="#29abe2">V</text>
<text x="496.4" y="730.5" text-anchor="middle" fill="#808285" font-size="14.5" stroke="#808285"><tspan class="i">p</tspan>(<tspan class="i">C</tspan>=1|<tspan class="i">x</tspan><tspan font-size="9" dy="2.6">A</tspan><tspan dy="-2.6">,</tspan><tspan class="i">x</tspan><tspan font-size="9" dy="2.6">V</tspan><tspan dy="-2.6">)</tspan></text>
<text x="494.5" y="749.8" text-anchor="middle" fill="#111" stroke="#111" font-size="14.5" textLength="104">Posterior causal</text>
<text x="494.5" y="766.6" text-anchor="middle" fill="#111" stroke="#111" font-size="14.5">probability</text>
<text x="649" y="583" text-anchor="middle" fill="#111" stroke="#111" font-size="14.5">Posterior causal</text>
<text x="649" y="600.4" text-anchor="middle" fill="#111" stroke="#111" font-size="14.5">probability</text>
<line x1="609" y1="609.5" x2="609" y2="686.3" stroke="#222" stroke-width="1"/>
<line x1="609" y1="686.3" x2="698.2" y2="686.3" stroke="#222" stroke-width="1"/>
<line x1="614.7" y1="686.3" x2="614.7" y2="684.1" stroke="#222" stroke-width="0.9"/>
<line x1="635.5" y1="686.3" x2="635.5" y2="684.1" stroke="#222" stroke-width="0.9"/>
<line x1="656.4" y1="686.3" x2="656.4" y2="684.1" stroke="#222" stroke-width="0.9"/>
<line x1="677.2" y1="686.3" x2="677.2" y2="684.1" stroke="#222" stroke-width="0.9"/>
<line x1="609" y1="686.3" x2="611.2" y2="686.3" stroke="#222" stroke-width="0.9"/>
<line x1="609" y1="647.9" x2="611.2" y2="647.9" stroke="#222" stroke-width="0.9"/>
<line x1="609" y1="609.5" x2="611.2" y2="609.5" stroke="#222" stroke-width="0.9"/>
<polyline fill="none" stroke="#626366" stroke-width="2" stroke-linejoin="round" points="614.7,638.84 635.5,642.22 656.4,667.87 677.2,679.93"/>
<polyline fill="none" stroke="#626366" stroke-width="2" stroke-dasharray="2 1.8" stroke-linejoin="round" points="614.7,657.27 635.5,653.51 656.4,627.93 677.2,615.34"/>
<text x="605" y="614.4" text-anchor="end" fill="#111" stroke="#111" font-size="14.5">1</text>
<text x="605" y="692.4" text-anchor="end" fill="#111" stroke="#111" font-size="14.5">0</text>
<text x="614.7" y="703.6" text-anchor="middle" fill="#111" stroke="#111" font-size="14.5">0</text>
<text x="635.5" y="703.6" text-anchor="middle" fill="#111" stroke="#111" font-size="14.5">1</text>
<text x="656.4" y="703.6" text-anchor="middle" fill="#111" stroke="#111" font-size="14.5">2</text>
<text x="677.2" y="703.6" text-anchor="middle" fill="#111" stroke="#111" font-size="14.5">3</text>
<text x="653" y="722.3" text-anchor="middle" fill="#111" stroke="#111" font-size="14.5">Numeric</text>
<text x="653" y="739.5" text-anchor="middle" fill="#111" stroke="#111" font-size="14.5">disparity</text>
<text transform="translate(585.8,648) rotate(-90)" text-anchor="middle" fill="#626366" font-size="14" stroke="#626366"><tspan class="i">p</tspan>(<tspan class="i">C</tspan>|<tspan class="i">x</tspan><tspan font-size="9.4" dy="2.6">A</tspan><tspan dy="-2.6">, </tspan><tspan class="i">x</tspan><tspan font-size="9.4" dy="2.6">V</tspan><tspan dy="-2.6">)</tspan></text>
<text x="679" y="642.6" fill="#8a8c8e" font-size="14" stroke="#8a8c8e"><tspan class="i">C</tspan> =</text>
<line x1="678.3" y1="650" x2="692" y2="650" stroke="#626366" stroke-width="2"/>
<text x="695" y="653.6" text-anchor="start" fill="#8a8c8e" stroke="#8a8c8e" font-size="14">1</text>
<line x1="678.3" y1="662" x2="692" y2="662" stroke="#626366" stroke-width="2" stroke-dasharray="2 1.8"/>
<text x="695" y="666.4" text-anchor="start" fill="#8a8c8e" stroke="#8a8c8e" font-size="14">2</text>
<defs>
<radialGradient id="gk" cx="0.5" cy="0.5" r="0.5"><stop offset="0" stop-color="#fff"/><stop offset="0.26" stop-color="#fff"/><stop offset="0.74" stop-color="#808080"/><stop offset="1" stop-color="#2e2e2e"/></radialGradient>
<radialGradient id="go" cx="0.5" cy="0.5" r="0.5"><stop offset="0" stop-color="#fff"/><stop offset="0.26" stop-color="#fff"/><stop offset="0.74" stop-color="#fbb829"/><stop offset="1" stop-color="#f9ad14"/></radialGradient>
<radialGradient id="gr" cx="0.5" cy="0.5" r="0.5"><stop offset="0" stop-color="#fff"/><stop offset="0.26" stop-color="#fff"/><stop offset="0.74" stop-color="#cf1d26"/><stop offset="1" stop-color="#c00d18"/></radialGradient>
<radialGradient id="gg" cx="0.5" cy="0.5" r="0.5"><stop offset="0" stop-color="#fff"/><stop offset="0.26" stop-color="#fff"/><stop offset="0.74" stop-color="#45b964"/><stop offset="1" stop-color="#2aa84f"/></radialGradient>
</defs>
<rect x="32.6" y="820.6" width="164.2" height="164.6" fill="none" stroke="#222" stroke-width="1"/>
<rect x="238.8" y="820.6" width="344.6" height="164.6" fill="none" stroke="#222" stroke-width="1"/>
<text x="115.7" y="833.5" text-anchor="middle" fill="#111" font-size="14" stroke="#111"><tspan class="i">C</tspan> = 1</text>
<text x="410.5" y="833.2" text-anchor="middle" fill="#111" font-size="14" stroke="#111"><tspan class="i">C</tspan> = 2</text>
<line x1="202.6" y1="775.6" x2="173.86" y2="806.37" stroke="#000" stroke-width="2"/>
<polygon points="164.3,816.6 171.03,802.36 178.05,808.92" fill="#000"/>
<line x1="237.4" y1="775.6" x2="267.45" y2="806.55" stroke="#000" stroke-width="2"/>
<polygon points="277.2,816.6 263.31,809.18 270.2,802.49" fill="#000"/>
<line x1="100.6" y1="892.2" x2="72.83" y2="920.05" stroke="#000" stroke-width="1.8"/>
<polygon points="64,928.9 70.2,916.02 76.86,922.66" fill="#000"/>
<line x1="130.8" y1="892.4" x2="159.08" y2="920.15" stroke="#000" stroke-width="1.8"/>
<polygon points="168,928.9 155.07,922.8 161.66,916.09" fill="#000"/>
<line x1="322.8" y1="893.5" x2="322.8" y2="916.3" stroke="#000" stroke-width="1.8"/>
<polygon points="322.8,928.8 318.1,915.3 327.5,915.3" fill="#000"/>
<line x1="500.1" y1="893.5" x2="500.1" y2="916.3" stroke="#000" stroke-width="1.8"/>
<polygon points="500.1,928.8 495.4,915.3 504.8,915.3" fill="#000"/>
<circle cx="219.8" cy="753.7" r="26.3" fill="url(#gk)" stroke="#000" stroke-width="1.6"/>
<text x="219.8" y="758.3" text-anchor="middle" fill="#111" font-size="15" stroke="#111"><tspan>C</tspan></text>
<circle cx="116.3" cy="869.7" r="26.3" fill="url(#go)" stroke="#000" stroke-width="1.6"/>
<text x="117.2" y="874.3" text-anchor="middle" fill="#111" font-size="14.4" stroke="#111"><tspan class="i">N</tspan><tspan font-size="10" dy="3">AV</tspan></text>
<circle cx="64.7" cy="956.7" r="26.3" fill="url(#gk)" stroke="#000" stroke-width="1.6"/>
<text x="65.4" y="961" text-anchor="middle" fill="#b60f19" font-size="13.4" stroke="#b60f19"><tspan class="i">x</tspan><tspan font-size="10" dy="3">V</tspan></text>
<circle cx="166.8" cy="956.7" r="26.3" fill="url(#gk)" stroke="#000" stroke-width="1.6"/>
<text x="170.8" y="961" text-anchor="middle" fill="#0aa650" font-size="13.4" stroke="#0aa650"><tspan class="i">x</tspan><tspan font-size="10" dy="3">A</tspan></text>
<circle cx="322.8" cy="868" r="26.3" fill="url(#gr)" stroke="#000" stroke-width="1.6"/>
<text x="323.6" y="872.8" text-anchor="middle" fill="#111" font-size="14.4" stroke="#111"><tspan class="i">N</tspan><tspan font-size="10" dy="3">V</tspan></text>
<circle cx="322.9" cy="956.7" r="26.3" fill="url(#gk)" stroke="#000" stroke-width="1.6"/>
<text x="323.2" y="961" text-anchor="middle" fill="#b60f19" font-size="13.4" stroke="#b60f19"><tspan class="i">x</tspan><tspan font-size="10" dy="3">V</tspan></text>
<circle cx="500.1" cy="867.3" r="26.3" fill="url(#gg)" stroke="#000" stroke-width="1.6"/>
<text x="499.2" y="871.9" text-anchor="middle" fill="#111" font-size="14.4" stroke="#111"><tspan class="i">N</tspan><tspan font-size="10" dy="3">A</tspan></text>
<circle cx="500.1" cy="956.7" r="26.3" fill="url(#gk)" stroke="#000" stroke-width="1.6"/>
<text x="500.6" y="961" text-anchor="middle" fill="#0aa650" font-size="13.4" stroke="#0aa650"><tspan class="i">x</tspan><tspan font-size="10" dy="3">A</tspan></text>
<line x1="116.6" y1="813.8" x2="116.6" y2="796.6" stroke="#f7a823" stroke-width="2.2"/>
<polygon points="116.6,781.6 121.4,797.6 111.8,797.6" fill="#f7a823"/>
<line x1="321.8" y1="813.8" x2="321.8" y2="796.6" stroke="#b60f19" stroke-width="2.2" stroke-dasharray="1.8 1.8"/>
<polygon points="321.8,781.6 326.3,797.6 317.3,797.6" fill="#b60f19"/>
<line x1="499.2" y1="814.4" x2="499.2" y2="797.4" stroke="#0aa650" stroke-width="2.2" stroke-dasharray="1.8 1.8"/>
<polygon points="499.2,782.4 503.7,798.4 494.7,798.4" fill="#0aa650"/>
<g transform="translate(32.6,999.3) scale(5.13125,5.18125)" shape-rendering="crispEdges">
<path fill="#352a87" d="M0 0h1v1h-1zM16 0h1v1h-1zM1 1h1v1h-1zM17 1h1v1h-1zM2 2h1v1h-1zM18 2h1v1h-1zM3 3h1v1h-1zM19 3h1v1h-1zM4 4h1v1h-1zM20 4h1v1h-1zM5 5h1v1h-1zM21 5h1v1h-1zM6 6h1v1h-1zM22 6h1v1h-1zM7 7h1v1h-1zM23 7h1v1h-1zM8 8h1v1h-1zM24 8h1v1h-1zM9 9h1v1h-1zM25 9h1v1h-1zM10 10h1v1h-1zM26 10h1v1h-1zM11 11h1v1h-1zM27 11h1v1h-1zM12 12h1v1h-1zM28 12h1v1h-1zM13 13h1v1h-1zM29 13h1v1h-1zM14 14h1v1h-1zM30 14h1v1h-1zM15 15h1v1h-1zM31 15h1v1h-1zM0 16h1v1h-1zM16 16h1v1h-1zM1 17h1v1h-1zM17 17h1v1h-1zM2 18h1v1h-1zM18 18h1v1h-1zM3 19h1v1h-1zM19 19h1v1h-1zM4 20h1v1h-1zM20 20h1v1h-1zM5 21h1v1h-1zM21 21h1v1h-1zM6 22h1v1h-1zM22 22h1v1h-1zM7 23h1v1h-1zM23 23h1v1h-1zM8 24h1v1h-1zM24 24h1v1h-1zM9 25h1v1h-1zM25 25h1v1h-1zM10 26h1v1h-1zM26 26h1v1h-1zM11 27h1v1h-1zM27 27h1v1h-1zM12 28h1v1h-1zM28 28h1v1h-1zM13 29h1v1h-1zM29 29h1v1h-1zM14 30h1v1h-1zM30 30h1v1h-1zM15 31h1v1h-1zM31 31h1v1h-1z"/>
<path fill="#3243ba" d="M1 0h1v1h-1zM17 0h1v1h-1zM0 1h1v1h-1zM2 1h1v1h-1zM16 1h1v1h-1zM18 1h1v1h-1zM1 2h1v1h-1zM3 2h1v1h-1zM17 2h1v1h-1zM19 2h1v1h-1zM2 3h1v1h-1zM4 3h1v1h-1zM18 3h1v1h-1zM20 3h1v1h-1zM3 4h1v1h-1zM5 4h1v1h-1zM19 4h1v1h-1zM21 4h1v1h-1zM4 5h1v1h-1zM6 5h1v1h-1zM20 5h1v1h-1zM22 5h1v1h-1zM5 6h1v1h-1zM7 6h1v1h-1zM21 6h1v1h-1zM23 6h1v1h-1zM6 7h1v1h-1zM8 7h1v1h-1zM22 7h1v1h-1zM24 7h1v1h-1zM7 8h1v1h-1zM9 8h1v1h-1zM23 8h1v1h-1zM25 8h1v1h-1zM8 9h1v1h-1zM10 9h1v1h-1zM24 9h1v1h-1zM26 9h1v1h-1zM9 10h1v1h-1zM11 10h1v1h-1zM25 10h1v1h-1zM27 10h1v1h-1zM10 11h1v1h-1zM12 11h1v1h-1zM26 11h1v1h-1zM28 11h1v1h-1zM11 12h1v1h-1zM13 12h1v1h-1zM27 12h1v1h-1zM29 12h1v1h-1zM12 13h1v1h-1zM14 13h1v1h-1zM28 13h1v1h-1zM30 13h1v1h-1zM13 14h1v1h-1zM15 14h1v1h-1zM29 14h1v1h-1zM31 14h1v1h-1zM14 15h1v1h-1zM30 15h1v1h-1zM1 16h1v1h-1zM17 16h1v1h-1zM0 17h1v1h-1zM2 17h1v1h-1zM16 17h1v1h-1zM18 17h1v1h-1zM1 18h1v1h-1zM3 18h1v1h-1zM17 18h1v1h-1zM19 18h1v1h-1zM2 19h1v1h-1zM4 19h1v1h-1zM18 19h1v1h-1zM20 19h1v1h-1zM3 20h1v1h-1zM5 20h1v1h-1zM19 20h1v1h-1zM21 20h1v1h-1zM4 21h1v1h-1zM6 21h1v1h-1zM20 21h1v1h-1zM22 21h1v1h-1zM5 22h1v1h-1zM7 22h1v1h-1zM21 22h1v1h-1zM23 22h1v1h-1zM6 23h1v1h-1zM8 23h1v1h-1zM22 23h1v1h-1zM24 23h1v1h-1zM7 24h1v1h-1zM9 24h1v1h-1zM23 24h1v1h-1zM25 24h1v1h-1zM8 25h1v1h-1zM10 25h1v1h-1zM24 25h1v1h-1zM26 25h1v1h-1zM9 26h1v1h-1zM11 26h1v1h-1zM25 26h1v1h-1zM27 26h1v1h-1zM10 27h1v1h-1zM12 27h1v1h-1zM26 27h1v1h-1zM28 27h1v1h-1zM11 28h1v1h-1zM13 28h1v1h-1zM27 28h1v1h-1zM29 28h1v1h-1zM12 29h1v1h-1zM14 29h1v1h-1zM28 29h1v1h-1zM30 29h1v1h-1zM13 30h1v1h-1zM15 30h1v1h-1zM29 30h1v1h-1zM31 30h1v1h-1zM14 31h1v1h-1zM30 31h1v1h-1z"/>
<path fill="#0f5cdd" d="M2 0h1v1h-1zM18 0h1v1h-1zM3 1h1v1h-1zM19 1h1v1h-1zM0 2h1v1h-1zM4 2h1v1h-1zM16 2h1v1h-1zM20 2h1v1h-1zM1 3h1v1h-1zM5 3h1v1h-1zM17 3h1v1h-1zM21 3h1v1h-1zM2 4h1v1h-1zM6 4h1v1h-1zM18 4h1v1h-1zM22 4h1v1h-1zM3 5h1v1h-1zM7 5h1v1h-1zM19 5h1v1h-1zM23 5h1v1h-1zM4 6h1v1h-1zM8 6h1v1h-1zM20 6h1v1h-1zM24 6h1v1h-1zM5 7h1v1h-1zM9 7h1v1h-1zM21 7h1v1h-1zM25 7h1v1h-1zM6 8h1v1h-1zM10 8h1v1h-1zM22 8h1v1h-1zM26 8h1v1h-1zM7 9h1v1h-1zM11 9h1v1h-1zM23 9h1v1h-1zM27 9h1v1h-1zM8 10h1v1h-1zM12 10h1v1h-1zM24 10h1v1h-1zM28 10h1v1h-1zM9 11h1v1h-1zM13 11h1v1h-1zM25 11h1v1h-1zM29 11h1v1h-1zM10 12h1v1h-1zM14 12h1v1h-1zM26 12h1v1h-1zM30 12h1v1h-1zM11 13h1v1h-1zM15 13h1v1h-1zM27 13h1v1h-1zM31 13h1v1h-1zM12 14h1v1h-1zM28 14h1v1h-1zM13 15h1v1h-1zM29 15h1v1h-1zM2 16h1v1h-1zM18 16h1v1h-1zM3 17h1v1h-1zM19 17h1v1h-1zM0 18h1v1h-1zM4 18h1v1h-1zM16 18h1v1h-1zM20 18h1v1h-1zM1 19h1v1h-1zM5 19h1v1h-1zM17 19h1v1h-1zM21 19h1v1h-1zM2 20h1v1h-1zM6 20h1v1h-1zM18 20h1v1h-1zM22 20h1v1h-1zM3 21h1v1h-1zM7 21h1v1h-1zM19 21h1v1h-1zM23 21h1v1h-1zM4 22h1v1h-1zM8 22h1v1h-1zM20 22h1v1h-1zM24 22h1v1h-1zM5 23h1v1h-1zM9 23h1v1h-1zM21 23h1v1h-1zM25 23h1v1h-1zM6 24h1v1h-1zM10 24h1v1h-1zM22 24h1v1h-1zM26 24h1v1h-1zM7 25h1v1h-1zM11 25h1v1h-1zM23 25h1v1h-1zM27 25h1v1h-1zM8 26h1v1h-1zM12 26h1v1h-1zM24 26h1v1h-1zM28 26h1v1h-1zM9 27h1v1h-1zM13 27h1v1h-1zM25 27h1v1h-1zM29 27h1v1h-1zM10 28h1v1h-1zM14 28h1v1h-1zM26 28h1v1h-1zM30 28h1v1h-1zM11 29h1v1h-1zM15 29h1v1h-1zM27 29h1v1h-1zM31 29h1v1h-1zM12 30h1v1h-1zM28 30h1v1h-1zM13 31h1v1h-1zM29 31h1v1h-1z"/>
<path fill="#0871de" d="M3 0h1v1h-1zM19 0h1v1h-1zM4 1h1v1h-1zM20 1h1v1h-1zM5 2h1v1h-1zM21 2h1v1h-1zM0 3h1v1h-1zM6 3h1v1h-1zM16 3h1v1h-1zM22 3h1v1h-1zM1 4h1v1h-1zM7 4h1v1h-1zM17 4h1v1h-1zM23 4h1v1h-1zM2 5h1v1h-1zM8 5h1v1h-1zM18 5h1v1h-1zM24 5h1v1h-1zM3 6h1v1h-1zM9 6h1v1h-1zM19 6h1v1h-1zM25 6h1v1h-1zM4 7h1v1h-1zM10 7h1v1h-1zM20 7h1v1h-1zM26 7h1v1h-1zM5 8h1v1h-1zM11 8h1v1h-1zM21 8h1v1h-1zM27 8h1v1h-1zM6 9h1v1h-1zM12 9h1v1h-1zM22 9h1v1h-1zM28 9h1v1h-1zM7 10h1v1h-1zM13 10h1v1h-1zM23 10h1v1h-1zM29 10h1v1h-1zM8 11h1v1h-1zM14 11h1v1h-1zM24 11h1v1h-1zM30 11h1v1h-1zM9 12h1v1h-1zM15 12h1v1h-1zM25 12h1v1h-1zM31 12h1v1h-1zM10 13h1v1h-1zM26 13h1v1h-1zM11 14h1v1h-1zM27 14h1v1h-1zM12 15h1v1h-1zM28 15h1v1h-1zM3 16h1v1h-1zM19 16h1v1h-1zM4 17h1v1h-1zM20 17h1v1h-1zM5 18h1v1h-1zM21 18h1v1h-1zM0 19h1v1h-1zM6 19h1v1h-1zM16 19h1v1h-1zM22 19h1v1h-1zM1 20h1v1h-1zM7 20h1v1h-1zM17 20h1v1h-1zM23 20h1v1h-1zM2 21h1v1h-1zM8 21h1v1h-1zM18 21h1v1h-1zM24 21h1v1h-1zM3 22h1v1h-1zM9 22h1v1h-1zM19 22h1v1h-1zM25 22h1v1h-1zM4 23h1v1h-1zM10 23h1v1h-1zM20 23h1v1h-1zM26 23h1v1h-1zM5 24h1v1h-1zM11 24h1v1h-1zM21 24h1v1h-1zM27 24h1v1h-1zM6 25h1v1h-1zM12 25h1v1h-1zM22 25h1v1h-1zM28 25h1v1h-1zM7 26h1v1h-1zM13 26h1v1h-1zM23 26h1v1h-1zM29 26h1v1h-1zM8 27h1v1h-1zM14 27h1v1h-1zM24 27h1v1h-1zM30 27h1v1h-1zM9 28h1v1h-1zM15 28h1v1h-1zM25 28h1v1h-1zM31 28h1v1h-1zM10 29h1v1h-1zM26 29h1v1h-1zM11 30h1v1h-1zM27 30h1v1h-1zM12 31h1v1h-1zM28 31h1v1h-1z"/>
<path fill="#127dd8" d="M4 0h1v1h-1zM20 0h1v1h-1zM5 1h1v1h-1zM21 1h1v1h-1zM6 2h1v1h-1zM22 2h1v1h-1zM7 3h1v1h-1zM23 3h1v1h-1zM0 4h1v1h-1zM8 4h1v1h-1zM16 4h1v1h-1zM24 4h1v1h-1zM1 5h1v1h-1zM9 5h1v1h-1zM17 5h1v1h-1zM25 5h1v1h-1zM2 6h1v1h-1zM10 6h1v1h-1zM18 6h1v1h-1zM26 6h1v1h-1zM3 7h1v1h-1zM11 7h1v1h-1zM19 7h1v1h-1zM27 7h1v1h-1zM4 8h1v1h-1zM12 8h1v1h-1zM20 8h1v1h-1zM28 8h1v1h-1zM5 9h1v1h-1zM13 9h1v1h-1zM21 9h1v1h-1zM29 9h1v1h-1zM6 10h1v1h-1zM14 10h1v1h-1zM22 10h1v1h-1zM30 10h1v1h-1zM7 11h1v1h-1zM15 11h1v1h-1zM23 11h1v1h-1zM31 11h1v1h-1zM8 12h1v1h-1zM24 12h1v1h-1zM9 13h1v1h-1zM25 13h1v1h-1zM10 14h1v1h-1zM26 14h1v1h-1zM11 15h1v1h-1zM27 15h1v1h-1zM4 16h1v1h-1zM20 16h1v1h-1zM5 17h1v1h-1zM21 17h1v1h-1zM6 18h1v1h-1zM22 18h1v1h-1zM7 19h1v1h-1zM23 19h1v1h-1zM0 20h1v1h-1zM8 20h1v1h-1zM16 20h1v1h-1zM24 20h1v1h-1zM1 21h1v1h-1zM9 21h1v1h-1zM17 21h1v1h-1zM25 21h1v1h-1zM2 22h1v1h-1zM10 22h1v1h-1zM18 22h1v1h-1zM26 22h1v1h-1zM3 23h1v1h-1zM11 23h1v1h-1zM19 23h1v1h-1zM27 23h1v1h-1zM4 24h1v1h-1zM12 24h1v1h-1zM20 24h1v1h-1zM28 24h1v1h-1zM5 25h1v1h-1zM13 25h1v1h-1zM21 25h1v1h-1zM29 25h1v1h-1zM6 26h1v1h-1zM14 26h1v1h-1zM22 26h1v1h-1zM30 26h1v1h-1zM7 27h1v1h-1zM15 27h1v1h-1zM23 27h1v1h-1zM31 27h1v1h-1zM8 28h1v1h-1zM24 28h1v1h-1zM9 29h1v1h-1zM25 29h1v1h-1zM10 30h1v1h-1zM26 30h1v1h-1zM11 31h1v1h-1zM27 31h1v1h-1z"/>
<path fill="#108ed2" d="M5 0h1v1h-1zM21 0h1v1h-1zM6 1h1v1h-1zM22 1h1v1h-1zM7 2h1v1h-1zM23 2h1v1h-1zM8 3h1v1h-1zM24 3h1v1h-1zM9 4h1v1h-1zM25 4h1v1h-1zM0 5h1v1h-1zM10 5h1v1h-1zM16 5h1v1h-1zM26 5h1v1h-1zM1 6h1v1h-1zM11 6h1v1h-1zM17 6h1v1h-1zM27 6h1v1h-1zM2 7h1v1h-1zM12 7h1v1h-1zM18 7h1v1h-1zM28 7h1v1h-1zM3 8h1v1h-1zM13 8h1v1h-1zM19 8h1v1h-1zM29 8h1v1h-1zM4 9h1v1h-1zM14 9h1v1h-1zM20 9h1v1h-1zM30 9h1v1h-1zM5 10h1v1h-1zM15 10h1v1h-1zM21 10h1v1h-1zM31 10h1v1h-1zM6 11h1v1h-1zM22 11h1v1h-1zM7 12h1v1h-1zM23 12h1v1h-1zM8 13h1v1h-1zM24 13h1v1h-1zM9 14h1v1h-1zM25 14h1v1h-1zM10 15h1v1h-1zM26 15h1v1h-1zM5 16h1v1h-1zM21 16h1v1h-1zM6 17h1v1h-1zM22 17h1v1h-1zM7 18h1v1h-1zM23 18h1v1h-1zM8 19h1v1h-1zM24 19h1v1h-1zM9 20h1v1h-1zM25 20h1v1h-1zM0 21h1v1h-1zM10 21h1v1h-1zM16 21h1v1h-1zM26 21h1v1h-1zM1 22h1v1h-1zM11 22h1v1h-1zM17 22h1v1h-1zM27 22h1v1h-1zM2 23h1v1h-1zM12 23h1v1h-1zM18 23h1v1h-1zM28 23h1v1h-1zM3 24h1v1h-1zM13 24h1v1h-1zM19 24h1v1h-1zM29 24h1v1h-1zM4 25h1v1h-1zM14 25h1v1h-1zM20 25h1v1h-1zM30 25h1v1h-1zM5 26h1v1h-1zM15 26h1v1h-1zM21 26h1v1h-1zM31 26h1v1h-1zM6 27h1v1h-1zM22 27h1v1h-1zM7 28h1v1h-1zM23 28h1v1h-1zM8 29h1v1h-1zM24 29h1v1h-1zM9 30h1v1h-1zM25 30h1v1h-1zM10 31h1v1h-1zM26 31h1v1h-1z"/>
<path fill="#079ccf" d="M6 0h1v1h-1zM22 0h1v1h-1zM7 1h1v1h-1zM23 1h1v1h-1zM8 2h1v1h-1zM24 2h1v1h-1zM9 3h1v1h-1zM25 3h1v1h-1zM10 4h1v1h-1zM26 4h1v1h-1zM11 5h1v1h-1zM27 5h1v1h-1zM0 6h1v1h-1zM12 6h1v1h-1zM16 6h1v1h-1zM28 6h1v1h-1zM1 7h1v1h-1zM13 7h1v1h-1zM17 7h1v1h-1zM29 7h1v1h-1zM2 8h1v1h-1zM14 8h1v1h-1zM18 8h1v1h-1zM30 8h1v1h-1zM3 9h1v1h-1zM15 9h1v1h-1zM19 9h1v1h-1zM31 9h1v1h-1zM4 10h1v1h-1zM20 10h1v1h-1zM5 11h1v1h-1zM21 11h1v1h-1zM6 12h1v1h-1zM22 12h1v1h-1zM7 13h1v1h-1zM23 13h1v1h-1zM8 14h1v1h-1zM24 14h1v1h-1zM9 15h1v1h-1zM25 15h1v1h-1zM6 16h1v1h-1zM22 16h1v1h-1zM7 17h1v1h-1zM23 17h1v1h-1zM8 18h1v1h-1zM24 18h1v1h-1zM9 19h1v1h-1zM25 19h1v1h-1zM10 20h1v1h-1zM26 20h1v1h-1zM11 21h1v1h-1zM27 21h1v1h-1zM0 22h1v1h-1zM12 22h1v1h-1zM16 22h1v1h-1zM28 22h1v1h-1zM1 23h1v1h-1zM13 23h1v1h-1zM17 23h1v1h-1zM29 23h1v1h-1zM2 24h1v1h-1zM14 24h1v1h-1zM18 24h1v1h-1zM30 24h1v1h-1zM3 25h1v1h-1zM15 25h1v1h-1zM19 25h1v1h-1zM31 25h1v1h-1zM4 26h1v1h-1zM20 26h1v1h-1zM5 27h1v1h-1zM21 27h1v1h-1zM6 28h1v1h-1zM22 28h1v1h-1zM7 29h1v1h-1zM23 29h1v1h-1zM8 30h1v1h-1zM24 30h1v1h-1zM9 31h1v1h-1zM25 31h1v1h-1z"/>
<path fill="#07a9c2" d="M7 0h1v1h-1zM23 0h1v1h-1zM8 1h1v1h-1zM24 1h1v1h-1zM9 2h1v1h-1zM25 2h1v1h-1zM10 3h1v1h-1zM26 3h1v1h-1zM11 4h1v1h-1zM27 4h1v1h-1zM12 5h1v1h-1zM28 5h1v1h-1zM13 6h1v1h-1zM29 6h1v1h-1zM0 7h1v1h-1zM14 7h1v1h-1zM16 7h1v1h-1zM30 7h1v1h-1zM1 8h1v1h-1zM15 8h1v1h-1zM17 8h1v1h-1zM31 8h1v1h-1zM2 9h1v1h-1zM18 9h1v1h-1zM3 10h1v1h-1zM19 10h1v1h-1zM4 11h1v1h-1zM20 11h1v1h-1zM5 12h1v1h-1zM21 12h1v1h-1zM6 13h1v1h-1zM22 13h1v1h-1zM7 14h1v1h-1zM23 14h1v1h-1zM8 15h1v1h-1zM24 15h1v1h-1zM7 16h1v1h-1zM23 16h1v1h-1zM8 17h1v1h-1zM24 17h1v1h-1zM9 18h1v1h-1zM25 18h1v1h-1zM10 19h1v1h-1zM26 19h1v1h-1zM11 20h1v1h-1zM27 20h1v1h-1zM12 21h1v1h-1zM28 21h1v1h-1zM13 22h1v1h-1zM29 22h1v1h-1zM0 23h1v1h-1zM14 23h1v1h-1zM16 23h1v1h-1zM30 23h1v1h-1zM1 24h1v1h-1zM15 24h1v1h-1zM17 24h1v1h-1zM31 24h1v1h-1zM2 25h1v1h-1zM18 25h1v1h-1zM3 26h1v1h-1zM19 26h1v1h-1zM4 27h1v1h-1zM20 27h1v1h-1zM5 28h1v1h-1zM21 28h1v1h-1zM6 29h1v1h-1zM22 29h1v1h-1zM7 30h1v1h-1zM23 30h1v1h-1zM8 31h1v1h-1zM24 31h1v1h-1z"/>
<path fill="#1db3af" d="M8 0h1v1h-1zM24 0h1v1h-1zM9 1h1v1h-1zM25 1h1v1h-1zM10 2h1v1h-1zM26 2h1v1h-1zM11 3h1v1h-1zM27 3h1v1h-1zM12 4h1v1h-1zM28 4h1v1h-1zM13 5h1v1h-1zM29 5h1v1h-1zM14 6h1v1h-1zM30 6h1v1h-1zM15 7h1v1h-1zM31 7h1v1h-1zM0 8h1v1h-1zM16 8h1v1h-1zM1 9h1v1h-1zM17 9h1v1h-1zM2 10h1v1h-1zM18 10h1v1h-1zM3 11h1v1h-1zM19 11h1v1h-1zM4 12h1v1h-1zM20 12h1v1h-1zM5 13h1v1h-1zM21 13h1v1h-1zM6 14h1v1h-1zM22 14h1v1h-1zM7 15h1v1h-1zM23 15h1v1h-1zM8 16h1v1h-1zM24 16h1v1h-1zM9 17h1v1h-1zM25 17h1v1h-1zM10 18h1v1h-1zM26 18h1v1h-1zM11 19h1v1h-1zM27 19h1v1h-1zM12 20h1v1h-1zM28 20h1v1h-1zM13 21h1v1h-1zM29 21h1v1h-1zM14 22h1v1h-1zM30 22h1v1h-1zM15 23h1v1h-1zM31 23h1v1h-1zM0 24h1v1h-1zM16 24h1v1h-1zM1 25h1v1h-1zM17 25h1v1h-1zM2 26h1v1h-1zM18 26h1v1h-1zM3 27h1v1h-1zM19 27h1v1h-1zM4 28h1v1h-1zM20 28h1v1h-1zM5 29h1v1h-1zM21 29h1v1h-1zM6 30h1v1h-1zM22 30h1v1h-1zM7 31h1v1h-1zM23 31h1v1h-1z"/>
<path fill="#38b99e" d="M9 0h1v1h-1zM25 0h1v1h-1zM10 1h1v1h-1zM26 1h1v1h-1zM11 2h1v1h-1zM27 2h1v1h-1zM12 3h1v1h-1zM28 3h1v1h-1zM13 4h1v1h-1zM29 4h1v1h-1zM14 5h1v1h-1zM30 5h1v1h-1zM15 6h1v1h-1zM31 6h1v1h-1zM0 9h1v1h-1zM16 9h1v1h-1zM1 10h1v1h-1zM17 10h1v1h-1zM2 11h1v1h-1zM18 11h1v1h-1zM3 12h1v1h-1zM19 12h1v1h-1zM4 13h1v1h-1zM20 13h1v1h-1zM5 14h1v1h-1zM21 14h1v1h-1zM6 15h1v1h-1zM22 15h1v1h-1zM9 16h1v1h-1zM25 16h1v1h-1zM10 17h1v1h-1zM26 17h1v1h-1zM11 18h1v1h-1zM27 18h1v1h-1zM12 19h1v1h-1zM28 19h1v1h-1zM13 20h1v1h-1zM29 20h1v1h-1zM14 21h1v1h-1zM30 21h1v1h-1zM15 22h1v1h-1zM31 22h1v1h-1zM0 25h1v1h-1zM16 25h1v1h-1zM1 26h1v1h-1zM17 26h1v1h-1zM2 27h1v1h-1zM18 27h1v1h-1zM3 28h1v1h-1zM19 28h1v1h-1zM4 29h1v1h-1zM20 29h1v1h-1zM5 30h1v1h-1zM21 30h1v1h-1zM6 31h1v1h-1zM22 31h1v1h-1z"/>
<path fill="#65be86" d="M10 0h1v1h-1zM26 0h1v1h-1zM11 1h1v1h-1zM27 1h1v1h-1zM12 2h1v1h-1zM28 2h1v1h-1zM13 3h1v1h-1zM29 3h1v1h-1zM14 4h1v1h-1zM30 4h1v1h-1zM15 5h1v1h-1zM31 5h1v1h-1zM0 10h1v1h-1zM16 10h1v1h-1zM1 11h1v1h-1zM17 11h1v1h-1zM2 12h1v1h-1zM18 12h1v1h-1zM3 13h1v1h-1zM19 13h1v1h-1zM4 14h1v1h-1zM20 14h1v1h-1zM5 15h1v1h-1zM21 15h1v1h-1zM10 16h1v1h-1zM26 16h1v1h-1zM11 17h1v1h-1zM27 17h1v1h-1zM12 18h1v1h-1zM28 18h1v1h-1zM13 19h1v1h-1zM29 19h1v1h-1zM14 20h1v1h-1zM30 20h1v1h-1zM15 21h1v1h-1zM31 21h1v1h-1zM0 26h1v1h-1zM16 26h1v1h-1zM1 27h1v1h-1zM17 27h1v1h-1zM2 28h1v1h-1zM18 28h1v1h-1zM3 29h1v1h-1zM19 29h1v1h-1zM4 30h1v1h-1zM20 30h1v1h-1zM5 31h1v1h-1zM21 31h1v1h-1z"/>
<path fill="#87bf77" d="M11 0h1v1h-1zM27 0h1v1h-1zM12 1h1v1h-1zM28 1h1v1h-1zM13 2h1v1h-1zM29 2h1v1h-1zM14 3h1v1h-1zM30 3h1v1h-1zM15 4h1v1h-1zM31 4h1v1h-1zM0 11h1v1h-1zM16 11h1v1h-1zM1 12h1v1h-1zM17 12h1v1h-1zM2 13h1v1h-1zM18 13h1v1h-1zM3 14h1v1h-1zM19 14h1v1h-1zM4 15h1v1h-1zM20 15h1v1h-1zM11 16h1v1h-1zM27 16h1v1h-1zM12 17h1v1h-1zM28 17h1v1h-1zM13 18h1v1h-1zM29 18h1v1h-1zM14 19h1v1h-1zM30 19h1v1h-1zM15 20h1v1h-1zM31 20h1v1h-1zM0 27h1v1h-1zM16 27h1v1h-1zM1 28h1v1h-1zM17 28h1v1h-1zM2 29h1v1h-1zM18 29h1v1h-1zM3 30h1v1h-1zM19 30h1v1h-1zM4 31h1v1h-1zM20 31h1v1h-1z"/>
<path fill="#aebe67" d="M12 0h1v1h-1zM28 0h1v1h-1zM13 1h1v1h-1zM29 1h1v1h-1zM14 2h1v1h-1zM30 2h1v1h-1zM15 3h1v1h-1zM31 3h1v1h-1zM0 12h1v1h-1zM16 12h1v1h-1zM1 13h1v1h-1zM17 13h1v1h-1zM2 14h1v1h-1zM18 14h1v1h-1zM3 15h1v1h-1zM19 15h1v1h-1zM12 16h1v1h-1zM28 16h1v1h-1zM13 17h1v1h-1zM29 17h1v1h-1zM14 18h1v1h-1zM30 18h1v1h-1zM15 19h1v1h-1zM31 19h1v1h-1zM0 28h1v1h-1zM16 28h1v1h-1zM1 29h1v1h-1zM17 29h1v1h-1zM2 30h1v1h-1zM18 30h1v1h-1zM3 31h1v1h-1zM19 31h1v1h-1z"/>
<path fill="#c8bc5d" d="M13 0h1v1h-1zM29 0h1v1h-1zM14 1h1v1h-1zM30 1h1v1h-1zM15 2h1v1h-1zM31 2h1v1h-1zM0 13h1v1h-1zM16 13h1v1h-1zM1 14h1v1h-1zM17 14h1v1h-1zM2 15h1v1h-1zM18 15h1v1h-1zM13 16h1v1h-1zM29 16h1v1h-1zM14 17h1v1h-1zM30 17h1v1h-1zM15 18h1v1h-1zM31 18h1v1h-1zM0 29h1v1h-1zM16 29h1v1h-1zM1 30h1v1h-1zM17 30h1v1h-1zM2 31h1v1h-1zM18 31h1v1h-1z"/>
<path fill="#e9b94e" d="M14 0h1v1h-1zM30 0h1v1h-1zM15 1h1v1h-1zM31 1h1v1h-1zM0 14h1v1h-1zM16 14h1v1h-1zM1 15h1v1h-1zM17 15h1v1h-1zM14 16h1v1h-1zM30 16h1v1h-1zM15 17h1v1h-1zM31 17h1v1h-1zM0 30h1v1h-1zM16 30h1v1h-1zM1 31h1v1h-1zM17 31h1v1h-1z"/>
<path fill="#ffc337" d="M15 0h1v1h-1zM31 0h1v1h-1zM0 15h1v1h-1zM16 15h1v1h-1zM15 16h1v1h-1zM31 16h1v1h-1zM0 31h1v1h-1zM16 31h1v1h-1z"/>
</g>
<rect x="32.4" y="999.1" width="164.6" height="166.2" fill="none" stroke="#f7a823" stroke-width="2"/>
<g transform="translate(238.4,999.3) scale(5.21250,5.19375)" shape-rendering="crispEdges">
<path fill="#352a87" d="M0 0h1v1h-1zM4 0h1v1h-1zM8 0h1v1h-1zM12 0h1v1h-1zM16 0h1v1h-1zM20 0h1v1h-1zM24 0h1v1h-1zM28 0h1v1h-1zM1 1h1v1h-1zM5 1h1v1h-1zM9 1h1v1h-1zM13 1h1v1h-1zM17 1h1v1h-1zM21 1h1v1h-1zM25 1h1v1h-1zM29 1h1v1h-1zM2 2h1v1h-1zM6 2h1v1h-1zM10 2h1v1h-1zM14 2h1v1h-1zM18 2h1v1h-1zM22 2h1v1h-1zM26 2h1v1h-1zM30 2h1v1h-1zM3 3h1v1h-1zM7 3h1v1h-1zM11 3h1v1h-1zM15 3h1v1h-1zM19 3h1v1h-1zM23 3h1v1h-1zM27 3h1v1h-1zM31 3h1v1h-1zM0 4h1v1h-1zM4 4h1v1h-1zM8 4h1v1h-1zM12 4h1v1h-1zM16 4h1v1h-1zM20 4h1v1h-1zM24 4h1v1h-1zM28 4h1v1h-1zM1 5h1v1h-1zM5 5h1v1h-1zM9 5h1v1h-1zM13 5h1v1h-1zM17 5h1v1h-1zM21 5h1v1h-1zM25 5h1v1h-1zM29 5h1v1h-1zM2 6h1v1h-1zM6 6h1v1h-1zM10 6h1v1h-1zM14 6h1v1h-1zM18 6h1v1h-1zM22 6h1v1h-1zM26 6h1v1h-1zM30 6h1v1h-1zM3 7h1v1h-1zM7 7h1v1h-1zM11 7h1v1h-1zM15 7h1v1h-1zM19 7h1v1h-1zM23 7h1v1h-1zM27 7h1v1h-1zM31 7h1v1h-1zM0 8h1v1h-1zM4 8h1v1h-1zM8 8h1v1h-1zM12 8h1v1h-1zM16 8h1v1h-1zM20 8h1v1h-1zM24 8h1v1h-1zM28 8h1v1h-1zM1 9h1v1h-1zM5 9h1v1h-1zM9 9h1v1h-1zM13 9h1v1h-1zM17 9h1v1h-1zM21 9h1v1h-1zM25 9h1v1h-1zM29 9h1v1h-1zM2 10h1v1h-1zM6 10h1v1h-1zM10 10h1v1h-1zM14 10h1v1h-1zM18 10h1v1h-1zM22 10h1v1h-1zM26 10h1v1h-1zM30 10h1v1h-1zM3 11h1v1h-1zM7 11h1v1h-1zM11 11h1v1h-1zM15 11h1v1h-1zM19 11h1v1h-1zM23 11h1v1h-1zM27 11h1v1h-1zM31 11h1v1h-1zM0 12h1v1h-1zM4 12h1v1h-1zM8 12h1v1h-1zM12 12h1v1h-1zM16 12h1v1h-1zM20 12h1v1h-1zM24 12h1v1h-1zM28 12h1v1h-1zM1 13h1v1h-1zM5 13h1v1h-1zM9 13h1v1h-1zM13 13h1v1h-1zM17 13h1v1h-1zM21 13h1v1h-1zM25 13h1v1h-1zM29 13h1v1h-1zM2 14h1v1h-1zM6 14h1v1h-1zM10 14h1v1h-1zM14 14h1v1h-1zM18 14h1v1h-1zM22 14h1v1h-1zM26 14h1v1h-1zM30 14h1v1h-1zM3 15h1v1h-1zM7 15h1v1h-1zM11 15h1v1h-1zM15 15h1v1h-1zM19 15h1v1h-1zM23 15h1v1h-1zM27 15h1v1h-1zM31 15h1v1h-1zM0 16h1v1h-1zM4 16h1v1h-1zM8 16h1v1h-1zM12 16h1v1h-1zM16 16h1v1h-1zM20 16h1v1h-1zM24 16h1v1h-1zM28 16h1v1h-1zM1 17h1v1h-1zM5 17h1v1h-1zM9 17h1v1h-1zM13 17h1v1h-1zM17 17h1v1h-1zM21 17h1v1h-1zM25 17h1v1h-1zM29 17h1v1h-1zM2 18h1v1h-1zM6 18h1v1h-1zM10 18h1v1h-1zM14 18h1v1h-1zM18 18h1v1h-1zM22 18h1v1h-1zM26 18h1v1h-1zM30 18h1v1h-1zM3 19h1v1h-1zM7 19h1v1h-1zM11 19h1v1h-1zM15 19h1v1h-1zM19 19h1v1h-1zM23 19h1v1h-1zM27 19h1v1h-1zM31 19h1v1h-1zM0 20h1v1h-1zM4 20h1v1h-1zM8 20h1v1h-1zM12 20h1v1h-1zM16 20h1v1h-1zM20 20h1v1h-1zM24 20h1v1h-1zM28 20h1v1h-1zM1 21h1v1h-1zM5 21h1v1h-1zM9 21h1v1h-1zM13 21h1v1h-1zM17 21h1v1h-1zM21 21h1v1h-1zM25 21h1v1h-1zM29 21h1v1h-1zM2 22h1v1h-1zM6 22h1v1h-1zM10 22h1v1h-1zM14 22h1v1h-1zM18 22h1v1h-1zM22 22h1v1h-1zM26 22h1v1h-1zM30 22h1v1h-1zM3 23h1v1h-1zM7 23h1v1h-1zM11 23h1v1h-1zM15 23h1v1h-1zM19 23h1v1h-1zM23 23h1v1h-1zM27 23h1v1h-1zM31 23h1v1h-1zM0 24h1v1h-1zM4 24h1v1h-1zM8 24h1v1h-1zM12 24h1v1h-1zM16 24h1v1h-1zM20 24h1v1h-1zM24 24h1v1h-1zM28 24h1v1h-1zM1 25h1v1h-1zM5 25h1v1h-1zM9 25h1v1h-1zM13 25h1v1h-1zM17 25h1v1h-1zM21 25h1v1h-1zM25 25h1v1h-1zM29 25h1v1h-1zM2 26h1v1h-1zM6 26h1v1h-1zM10 26h1v1h-1zM14 26h1v1h-1zM18 26h1v1h-1zM22 26h1v1h-1zM26 26h1v1h-1zM30 26h1v1h-1zM3 27h1v1h-1zM7 27h1v1h-1zM11 27h1v1h-1zM15 27h1v1h-1zM19 27h1v1h-1zM23 27h1v1h-1zM27 27h1v1h-1zM31 27h1v1h-1zM0 28h1v1h-1zM4 28h1v1h-1zM8 28h1v1h-1zM12 28h1v1h-1zM16 28h1v1h-1zM20 28h1v1h-1zM24 28h1v1h-1zM28 28h1v1h-1zM1 29h1v1h-1zM5 29h1v1h-1zM9 29h1v1h-1zM13 29h1v1h-1zM17 29h1v1h-1zM21 29h1v1h-1zM25 29h1v1h-1zM29 29h1v1h-1zM2 30h1v1h-1zM6 30h1v1h-1zM10 30h1v1h-1zM14 30h1v1h-1zM18 30h1v1h-1zM22 30h1v1h-1zM26 30h1v1h-1zM30 30h1v1h-1zM3 31h1v1h-1zM7 31h1v1h-1zM11 31h1v1h-1zM15 31h1v1h-1zM19 31h1v1h-1zM23 31h1v1h-1zM27 31h1v1h-1zM31 31h1v1h-1z"/>
<path fill="#1481d6" d="M2 1h1v1h-1zM6 1h1v1h-1zM10 1h1v1h-1zM14 1h1v1h-1zM18 1h1v1h-1zM22 1h1v1h-1zM26 1h1v1h-1zM30 1h1v1h-1zM1 2h1v1h-1zM5 2h1v1h-1zM9 2h1v1h-1zM13 2h1v1h-1zM17 2h1v1h-1zM21 2h1v1h-1zM25 2h1v1h-1zM29 2h1v1h-1zM2 5h1v1h-1zM6 5h1v1h-1zM10 5h1v1h-1zM14 5h1v1h-1zM18 5h1v1h-1zM22 5h1v1h-1zM26 5h1v1h-1zM30 5h1v1h-1zM1 6h1v1h-1zM5 6h1v1h-1zM9 6h1v1h-1zM13 6h1v1h-1zM17 6h1v1h-1zM21 6h1v1h-1zM25 6h1v1h-1zM29 6h1v1h-1zM2 9h1v1h-1zM6 9h1v1h-1zM10 9h1v1h-1zM14 9h1v1h-1zM18 9h1v1h-1zM22 9h1v1h-1zM26 9h1v1h-1zM30 9h1v1h-1zM1 10h1v1h-1zM5 10h1v1h-1zM9 10h1v1h-1zM13 10h1v1h-1zM17 10h1v1h-1zM21 10h1v1h-1zM25 10h1v1h-1zM29 10h1v1h-1zM2 13h1v1h-1zM6 13h1v1h-1zM10 13h1v1h-1zM14 13h1v1h-1zM18 13h1v1h-1zM22 13h1v1h-1zM26 13h1v1h-1zM30 13h1v1h-1zM1 14h1v1h-1zM5 14h1v1h-1zM9 14h1v1h-1zM13 14h1v1h-1zM17 14h1v1h-1zM21 14h1v1h-1zM25 14h1v1h-1zM29 14h1v1h-1zM2 17h1v1h-1zM6 17h1v1h-1zM10 17h1v1h-1zM14 17h1v1h-1zM18 17h1v1h-1zM22 17h1v1h-1zM26 17h1v1h-1zM30 17h1v1h-1zM1 18h1v1h-1zM5 18h1v1h-1zM9 18h1v1h-1zM13 18h1v1h-1zM17 18h1v1h-1zM21 18h1v1h-1zM25 18h1v1h-1zM29 18h1v1h-1zM2 21h1v1h-1zM6 21h1v1h-1zM10 21h1v1h-1zM14 21h1v1h-1zM18 21h1v1h-1zM22 21h1v1h-1zM26 21h1v1h-1zM30 21h1v1h-1zM1 22h1v1h-1zM5 22h1v1h-1zM9 22h1v1h-1zM13 22h1v1h-1zM17 22h1v1h-1zM21 22h1v1h-1zM25 22h1v1h-1zM29 22h1v1h-1zM2 25h1v1h-1zM6 25h1v1h-1zM10 25h1v1h-1zM14 25h1v1h-1zM18 25h1v1h-1zM22 25h1v1h-1zM26 25h1v1h-1zM30 25h1v1h-1zM1 26h1v1h-1zM5 26h1v1h-1zM9 26h1v1h-1zM13 26h1v1h-1zM17 26h1v1h-1zM21 26h1v1h-1zM25 26h1v1h-1zM29 26h1v1h-1zM2 29h1v1h-1zM6 29h1v1h-1zM10 29h1v1h-1zM14 29h1v1h-1zM18 29h1v1h-1zM22 29h1v1h-1zM26 29h1v1h-1zM30 29h1v1h-1zM1 30h1v1h-1zM5 30h1v1h-1zM9 30h1v1h-1zM13 30h1v1h-1zM17 30h1v1h-1zM21 30h1v1h-1zM25 30h1v1h-1zM29 30h1v1h-1z"/>
<path fill="#1389d3" d="M1 0h1v1h-1zM5 0h1v1h-1zM9 0h1v1h-1zM13 0h1v1h-1zM17 0h1v1h-1zM21 0h1v1h-1zM25 0h1v1h-1zM29 0h1v1h-1zM0 1h1v1h-1zM4 1h1v1h-1zM8 1h1v1h-1zM12 1h1v1h-1zM16 1h1v1h-1zM20 1h1v1h-1zM24 1h1v1h-1zM28 1h1v1h-1zM1 4h1v1h-1zM5 4h1v1h-1zM9 4h1v1h-1zM13 4h1v1h-1zM17 4h1v1h-1zM21 4h1v1h-1zM25 4h1v1h-1zM29 4h1v1h-1zM0 5h1v1h-1zM4 5h1v1h-1zM8 5h1v1h-1zM12 5h1v1h-1zM16 5h1v1h-1zM20 5h1v1h-1zM24 5h1v1h-1zM28 5h1v1h-1zM1 8h1v1h-1zM5 8h1v1h-1zM9 8h1v1h-1zM13 8h1v1h-1zM17 8h1v1h-1zM21 8h1v1h-1zM25 8h1v1h-1zM29 8h1v1h-1zM0 9h1v1h-1zM4 9h1v1h-1zM8 9h1v1h-1zM12 9h1v1h-1zM16 9h1v1h-1zM20 9h1v1h-1zM24 9h1v1h-1zM28 9h1v1h-1zM1 12h1v1h-1zM5 12h1v1h-1zM9 12h1v1h-1zM13 12h1v1h-1zM17 12h1v1h-1zM21 12h1v1h-1zM25 12h1v1h-1zM29 12h1v1h-1zM0 13h1v1h-1zM4 13h1v1h-1zM8 13h1v1h-1zM12 13h1v1h-1zM16 13h1v1h-1zM20 13h1v1h-1zM24 13h1v1h-1zM28 13h1v1h-1zM1 16h1v1h-1zM5 16h1v1h-1zM9 16h1v1h-1zM13 16h1v1h-1zM17 16h1v1h-1zM21 16h1v1h-1zM25 16h1v1h-1zM29 16h1v1h-1zM0 17h1v1h-1zM4 17h1v1h-1zM8 17h1v1h-1zM12 17h1v1h-1zM16 17h1v1h-1zM20 17h1v1h-1zM24 17h1v1h-1zM28 17h1v1h-1zM1 20h1v1h-1zM5 20h1v1h-1zM9 20h1v1h-1zM13 20h1v1h-1zM17 20h1v1h-1zM21 20h1v1h-1zM25 20h1v1h-1zM29 20h1v1h-1zM0 21h1v1h-1zM4 21h1v1h-1zM8 21h1v1h-1zM12 21h1v1h-1zM16 21h1v1h-1zM20 21h1v1h-1zM24 21h1v1h-1zM28 21h1v1h-1zM1 24h1v1h-1zM5 24h1v1h-1zM9 24h1v1h-1zM13 24h1v1h-1zM17 24h1v1h-1zM21 24h1v1h-1zM25 24h1v1h-1zM29 24h1v1h-1zM0 25h1v1h-1zM4 25h1v1h-1zM8 25h1v1h-1zM12 25h1v1h-1zM16 25h1v1h-1zM20 25h1v1h-1zM24 25h1v1h-1zM28 25h1v1h-1zM1 28h1v1h-1zM5 28h1v1h-1zM9 28h1v1h-1zM13 28h1v1h-1zM17 28h1v1h-1zM21 28h1v1h-1zM25 28h1v1h-1zM29 28h1v1h-1zM0 29h1v1h-1zM4 29h1v1h-1zM8 29h1v1h-1zM12 29h1v1h-1zM16 29h1v1h-1zM20 29h1v1h-1zM24 29h1v1h-1zM28 29h1v1h-1z"/>
<path fill="#0c93d2" d="M3 2h1v1h-1zM7 2h1v1h-1zM11 2h1v1h-1zM15 2h1v1h-1zM19 2h1v1h-1zM23 2h1v1h-1zM27 2h1v1h-1zM31 2h1v1h-1zM2 3h1v1h-1zM6 3h1v1h-1zM10 3h1v1h-1zM14 3h1v1h-1zM18 3h1v1h-1zM22 3h1v1h-1zM26 3h1v1h-1zM30 3h1v1h-1zM3 6h1v1h-1zM7 6h1v1h-1zM11 6h1v1h-1zM15 6h1v1h-1zM19 6h1v1h-1zM23 6h1v1h-1zM27 6h1v1h-1zM31 6h1v1h-1zM2 7h1v1h-1zM6 7h1v1h-1zM10 7h1v1h-1zM14 7h1v1h-1zM18 7h1v1h-1zM22 7h1v1h-1zM26 7h1v1h-1zM30 7h1v1h-1zM3 10h1v1h-1zM7 10h1v1h-1zM11 10h1v1h-1zM15 10h1v1h-1zM19 10h1v1h-1zM23 10h1v1h-1zM27 10h1v1h-1zM31 10h1v1h-1zM2 11h1v1h-1zM6 11h1v1h-1zM10 11h1v1h-1zM14 11h1v1h-1zM18 11h1v1h-1zM22 11h1v1h-1zM26 11h1v1h-1zM30 11h1v1h-1zM3 14h1v1h-1zM7 14h1v1h-1zM11 14h1v1h-1zM15 14h1v1h-1zM19 14h1v1h-1zM23 14h1v1h-1zM27 14h1v1h-1zM31 14h1v1h-1zM2 15h1v1h-1zM6 15h1v1h-1zM10 15h1v1h-1zM14 15h1v1h-1zM18 15h1v1h-1zM22 15h1v1h-1zM26 15h1v1h-1zM30 15h1v1h-1zM3 18h1v1h-1zM7 18h1v1h-1zM11 18h1v1h-1zM15 18h1v1h-1zM19 18h1v1h-1zM23 18h1v1h-1zM27 18h1v1h-1zM31 18h1v1h-1zM2 19h1v1h-1zM6 19h1v1h-1zM10 19h1v1h-1zM14 19h1v1h-1zM18 19h1v1h-1zM22 19h1v1h-1zM26 19h1v1h-1zM30 19h1v1h-1zM3 22h1v1h-1zM7 22h1v1h-1zM11 22h1v1h-1zM15 22h1v1h-1zM19 22h1v1h-1zM23 22h1v1h-1zM27 22h1v1h-1zM31 22h1v1h-1zM2 23h1v1h-1zM6 23h1v1h-1zM10 23h1v1h-1zM14 23h1v1h-1zM18 23h1v1h-1zM22 23h1v1h-1zM26 23h1v1h-1zM30 23h1v1h-1zM3 26h1v1h-1zM7 26h1v1h-1zM11 26h1v1h-1zM15 26h1v1h-1zM19 26h1v1h-1zM23 26h1v1h-1zM27 26h1v1h-1zM31 26h1v1h-1zM2 27h1v1h-1zM6 27h1v1h-1zM10 27h1v1h-1zM14 27h1v1h-1zM18 27h1v1h-1zM22 27h1v1h-1zM26 27h1v1h-1zM30 27h1v1h-1zM3 30h1v1h-1zM7 30h1v1h-1zM11 30h1v1h-1zM15 30h1v1h-1zM19 30h1v1h-1zM23 30h1v1h-1zM27 30h1v1h-1zM31 30h1v1h-1zM2 31h1v1h-1zM6 31h1v1h-1zM10 31h1v1h-1zM14 31h1v1h-1zM18 31h1v1h-1zM22 31h1v1h-1zM26 31h1v1h-1zM30 31h1v1h-1z"/>
<path fill="#38b99e" d="M2 0h1v1h-1zM6 0h1v1h-1zM10 0h1v1h-1zM14 0h1v1h-1zM18 0h1v1h-1zM22 0h1v1h-1zM26 0h1v1h-1zM30 0h1v1h-1zM0 2h1v1h-1zM4 2h1v1h-1zM8 2h1v1h-1zM12 2h1v1h-1zM16 2h1v1h-1zM20 2h1v1h-1zM24 2h1v1h-1zM28 2h1v1h-1zM2 4h1v1h-1zM6 4h1v1h-1zM10 4h1v1h-1zM14 4h1v1h-1zM18 4h1v1h-1zM22 4h1v1h-1zM26 4h1v1h-1zM30 4h1v1h-1zM0 6h1v1h-1zM4 6h1v1h-1zM8 6h1v1h-1zM12 6h1v1h-1zM16 6h1v1h-1zM20 6h1v1h-1zM24 6h1v1h-1zM28 6h1v1h-1zM2 8h1v1h-1zM6 8h1v1h-1zM10 8h1v1h-1zM14 8h1v1h-1zM18 8h1v1h-1zM22 8h1v1h-1zM26 8h1v1h-1zM30 8h1v1h-1zM0 10h1v1h-1zM4 10h1v1h-1zM8 10h1v1h-1zM12 10h1v1h-1zM16 10h1v1h-1zM20 10h1v1h-1zM24 10h1v1h-1zM28 10h1v1h-1zM2 12h1v1h-1zM6 12h1v1h-1zM10 12h1v1h-1zM14 12h1v1h-1zM18 12h1v1h-1zM22 12h1v1h-1zM26 12h1v1h-1zM30 12h1v1h-1zM0 14h1v1h-1zM4 14h1v1h-1zM8 14h1v1h-1zM12 14h1v1h-1zM16 14h1v1h-1zM20 14h1v1h-1zM24 14h1v1h-1zM28 14h1v1h-1zM2 16h1v1h-1zM6 16h1v1h-1zM10 16h1v1h-1zM14 16h1v1h-1zM18 16h1v1h-1zM22 16h1v1h-1zM26 16h1v1h-1zM30 16h1v1h-1zM0 18h1v1h-1zM4 18h1v1h-1zM8 18h1v1h-1zM12 18h1v1h-1zM16 18h1v1h-1zM20 18h1v1h-1zM24 18h1v1h-1zM28 18h1v1h-1zM2 20h1v1h-1zM6 20h1v1h-1zM10 20h1v1h-1zM14 20h1v1h-1zM18 20h1v1h-1zM22 20h1v1h-1zM26 20h1v1h-1zM30 20h1v1h-1zM0 22h1v1h-1zM4 22h1v1h-1zM8 22h1v1h-1zM12 22h1v1h-1zM16 22h1v1h-1zM20 22h1v1h-1zM24 22h1v1h-1zM28 22h1v1h-1zM2 24h1v1h-1zM6 24h1v1h-1zM10 24h1v1h-1zM14 24h1v1h-1zM18 24h1v1h-1zM22 24h1v1h-1zM26 24h1v1h-1zM30 24h1v1h-1zM0 26h1v1h-1zM4 26h1v1h-1zM8 26h1v1h-1zM12 26h1v1h-1zM16 26h1v1h-1zM20 26h1v1h-1zM24 26h1v1h-1zM28 26h1v1h-1zM2 28h1v1h-1zM6 28h1v1h-1zM10 28h1v1h-1zM14 28h1v1h-1zM18 28h1v1h-1zM22 28h1v1h-1zM26 28h1v1h-1zM30 28h1v1h-1zM0 30h1v1h-1zM4 30h1v1h-1zM8 30h1v1h-1zM12 30h1v1h-1zM16 30h1v1h-1zM20 30h1v1h-1zM24 30h1v1h-1zM28 30h1v1h-1z"/>
<path fill="#4dbc92" d="M3 1h1v1h-1zM7 1h1v1h-1zM11 1h1v1h-1zM15 1h1v1h-1zM19 1h1v1h-1zM23 1h1v1h-1zM27 1h1v1h-1zM31 1h1v1h-1zM1 3h1v1h-1zM5 3h1v1h-1zM9 3h1v1h-1zM13 3h1v1h-1zM17 3h1v1h-1zM21 3h1v1h-1zM25 3h1v1h-1zM29 3h1v1h-1zM3 5h1v1h-1zM7 5h1v1h-1zM11 5h1v1h-1zM15 5h1v1h-1zM19 5h1v1h-1zM23 5h1v1h-1zM27 5h1v1h-1zM31 5h1v1h-1zM1 7h1v1h-1zM5 7h1v1h-1zM9 7h1v1h-1zM13 7h1v1h-1zM17 7h1v1h-1zM21 7h1v1h-1zM25 7h1v1h-1zM29 7h1v1h-1zM3 9h1v1h-1zM7 9h1v1h-1zM11 9h1v1h-1zM15 9h1v1h-1zM19 9h1v1h-1zM23 9h1v1h-1zM27 9h1v1h-1zM31 9h1v1h-1zM1 11h1v1h-1zM5 11h1v1h-1zM9 11h1v1h-1zM13 11h1v1h-1zM17 11h1v1h-1zM21 11h1v1h-1zM25 11h1v1h-1zM29 11h1v1h-1zM3 13h1v1h-1zM7 13h1v1h-1zM11 13h1v1h-1zM15 13h1v1h-1zM19 13h1v1h-1zM23 13h1v1h-1zM27 13h1v1h-1zM31 13h1v1h-1zM1 15h1v1h-1zM5 15h1v1h-1zM9 15h1v1h-1zM13 15h1v1h-1zM17 15h1v1h-1zM21 15h1v1h-1zM25 15h1v1h-1zM29 15h1v1h-1zM3 17h1v1h-1zM7 17h1v1h-1zM11 17h1v1h-1zM15 17h1v1h-1zM19 17h1v1h-1zM23 17h1v1h-1zM27 17h1v1h-1zM31 17h1v1h-1zM1 19h1v1h-1zM5 19h1v1h-1zM9 19h1v1h-1zM13 19h1v1h-1zM17 19h1v1h-1zM21 19h1v1h-1zM25 19h1v1h-1zM29 19h1v1h-1zM3 21h1v1h-1zM7 21h1v1h-1zM11 21h1v1h-1zM15 21h1v1h-1zM19 21h1v1h-1zM23 21h1v1h-1zM27 21h1v1h-1zM31 21h1v1h-1zM1 23h1v1h-1zM5 23h1v1h-1zM9 23h1v1h-1zM13 23h1v1h-1zM17 23h1v1h-1zM21 23h1v1h-1zM25 23h1v1h-1zM29 23h1v1h-1zM3 25h1v1h-1zM7 25h1v1h-1zM11 25h1v1h-1zM15 25h1v1h-1zM19 25h1v1h-1zM23 25h1v1h-1zM27 25h1v1h-1zM31 25h1v1h-1zM1 27h1v1h-1zM5 27h1v1h-1zM9 27h1v1h-1zM13 27h1v1h-1zM17 27h1v1h-1zM21 27h1v1h-1zM25 27h1v1h-1zM29 27h1v1h-1zM3 29h1v1h-1zM7 29h1v1h-1zM11 29h1v1h-1zM15 29h1v1h-1zM19 29h1v1h-1zM23 29h1v1h-1zM27 29h1v1h-1zM31 29h1v1h-1zM1 31h1v1h-1zM5 31h1v1h-1zM9 31h1v1h-1zM13 31h1v1h-1zM17 31h1v1h-1zM21 31h1v1h-1zM25 31h1v1h-1zM29 31h1v1h-1z"/>
<path fill="#e9b94e" d="M3 0h1v1h-1zM7 0h1v1h-1zM11 0h1v1h-1zM15 0h1v1h-1zM19 0h1v1h-1zM23 0h1v1h-1zM27 0h1v1h-1zM31 0h1v1h-1zM0 3h1v1h-1zM4 3h1v1h-1zM8 3h1v1h-1zM12 3h1v1h-1zM16 3h1v1h-1zM20 3h1v1h-1zM24 3h1v1h-1zM28 3h1v1h-1zM3 4h1v1h-1zM7 4h1v1h-1zM11 4h1v1h-1zM15 4h1v1h-1zM19 4h1v1h-1zM23 4h1v1h-1zM27 4h1v1h-1zM31 4h1v1h-1zM0 7h1v1h-1zM4 7h1v1h-1zM8 7h1v1h-1zM12 7h1v1h-1zM16 7h1v1h-1zM20 7h1v1h-1zM24 7h1v1h-1zM28 7h1v1h-1zM3 8h1v1h-1zM7 8h1v1h-1zM11 8h1v1h-1zM15 8h1v1h-1zM19 8h1v1h-1zM23 8h1v1h-1zM27 8h1v1h-1zM31 8h1v1h-1zM0 11h1v1h-1zM4 11h1v1h-1zM8 11h1v1h-1zM12 11h1v1h-1zM16 11h1v1h-1zM20 11h1v1h-1zM24 11h1v1h-1zM28 11h1v1h-1zM3 12h1v1h-1zM7 12h1v1h-1zM11 12h1v1h-1zM15 12h1v1h-1zM19 12h1v1h-1zM23 12h1v1h-1zM27 12h1v1h-1zM31 12h1v1h-1zM0 15h1v1h-1zM4 15h1v1h-1zM8 15h1v1h-1zM12 15h1v1h-1zM16 15h1v1h-1zM20 15h1v1h-1zM24 15h1v1h-1zM28 15h1v1h-1zM3 16h1v1h-1zM7 16h1v1h-1zM11 16h1v1h-1zM15 16h1v1h-1zM19 16h1v1h-1zM23 16h1v1h-1zM27 16h1v1h-1zM31 16h1v1h-1zM0 19h1v1h-1zM4 19h1v1h-1zM8 19h1v1h-1zM12 19h1v1h-1zM16 19h1v1h-1zM20 19h1v1h-1zM24 19h1v1h-1zM28 19h1v1h-1zM3 20h1v1h-1zM7 20h1v1h-1zM11 20h1v1h-1zM15 20h1v1h-1zM19 20h1v1h-1zM23 20h1v1h-1zM27 20h1v1h-1zM31 20h1v1h-1zM0 23h1v1h-1zM4 23h1v1h-1zM8 23h1v1h-1zM12 23h1v1h-1zM16 23h1v1h-1zM20 23h1v1h-1zM24 23h1v1h-1zM28 23h1v1h-1zM3 24h1v1h-1zM7 24h1v1h-1zM11 24h1v1h-1zM15 24h1v1h-1zM19 24h1v1h-1zM23 24h1v1h-1zM27 24h1v1h-1zM31 24h1v1h-1zM0 27h1v1h-1zM4 27h1v1h-1zM8 27h1v1h-1zM12 27h1v1h-1zM16 27h1v1h-1zM20 27h1v1h-1zM24 27h1v1h-1zM28 27h1v1h-1zM3 28h1v1h-1zM7 28h1v1h-1zM11 28h1v1h-1zM15 28h1v1h-1zM19 28h1v1h-1zM23 28h1v1h-1zM27 28h1v1h-1zM31 28h1v1h-1zM0 31h1v1h-1zM4 31h1v1h-1zM8 31h1v1h-1zM12 31h1v1h-1zM16 31h1v1h-1zM20 31h1v1h-1zM24 31h1v1h-1zM28 31h1v1h-1z"/>
</g>
<rect x="238.2" y="999.1" width="167.2" height="166.6" fill="none" stroke="#b60f19" stroke-width="2" stroke-dasharray="2 1.6"/>
<g transform="translate(417.6,999.3) scale(5.16250,5.19375)" shape-rendering="crispEdges">
<path fill="#352a87" d="M0 0h4v1h-4zM16 0h4v1h-4zM0 1h4v1h-4zM16 1h4v1h-4zM0 2h4v1h-4zM16 2h4v1h-4zM0 3h4v1h-4zM16 3h4v1h-4zM4 4h4v1h-4zM20 4h4v1h-4zM4 5h4v1h-4zM20 5h4v1h-4zM4 6h4v1h-4zM20 6h4v1h-4zM4 7h4v1h-4zM20 7h4v1h-4zM8 8h4v1h-4zM24 8h4v1h-4zM8 9h4v1h-4zM24 9h4v1h-4zM8 10h4v1h-4zM24 10h4v1h-4zM8 11h4v1h-4zM24 11h4v1h-4zM12 12h4v1h-4zM28 12h4v1h-4zM12 13h4v1h-4zM28 13h4v1h-4zM12 14h4v1h-4zM28 14h4v1h-4zM12 15h4v1h-4zM28 15h4v1h-4zM0 16h4v1h-4zM16 16h4v1h-4zM0 17h4v1h-4zM16 17h4v1h-4zM0 18h4v1h-4zM16 18h4v1h-4zM0 19h4v1h-4zM16 19h4v1h-4zM4 20h4v1h-4zM20 20h4v1h-4zM4 21h4v1h-4zM20 21h4v1h-4zM4 22h4v1h-4zM20 22h4v1h-4zM4 23h4v1h-4zM20 23h4v1h-4zM8 24h4v1h-4zM24 24h4v1h-4zM8 25h4v1h-4zM24 25h4v1h-4zM8 26h4v1h-4zM24 26h4v1h-4zM8 27h4v1h-4zM24 27h4v1h-4zM12 28h4v1h-4zM28 28h4v1h-4zM12 29h4v1h-4zM28 29h4v1h-4zM12 30h4v1h-4zM28 30h4v1h-4zM12 31h4v1h-4zM28 31h4v1h-4z"/>
<path fill="#108ed2" d="M8 4h4v1h-4zM24 4h4v1h-4zM8 5h4v1h-4zM24 5h4v1h-4zM8 6h4v1h-4zM24 6h4v1h-4zM8 7h4v1h-4zM24 7h4v1h-4zM4 8h4v1h-4zM20 8h4v1h-4zM4 9h4v1h-4zM20 9h4v1h-4zM4 10h4v1h-4zM20 10h4v1h-4zM4 11h4v1h-4zM20 11h4v1h-4zM8 20h4v1h-4zM24 20h4v1h-4zM8 21h4v1h-4zM24 21h4v1h-4zM8 22h4v1h-4zM24 22h4v1h-4zM8 23h4v1h-4zM24 23h4v1h-4zM4 24h4v1h-4zM20 24h4v1h-4zM4 25h4v1h-4zM20 25h4v1h-4zM4 26h4v1h-4zM20 26h4v1h-4zM4 27h4v1h-4zM20 27h4v1h-4z"/>
<path fill="#0c93d2" d="M12 8h4v1h-4zM28 8h4v1h-4zM12 9h4v1h-4zM28 9h4v1h-4zM12 10h4v1h-4zM28 10h4v1h-4zM12 11h4v1h-4zM28 11h4v1h-4zM8 12h4v1h-4zM24 12h4v1h-4zM8 13h4v1h-4zM24 13h4v1h-4zM8 14h4v1h-4zM24 14h4v1h-4zM8 15h4v1h-4zM24 15h4v1h-4zM12 24h4v1h-4zM28 24h4v1h-4zM12 25h4v1h-4zM28 25h4v1h-4zM12 26h4v1h-4zM28 26h4v1h-4zM12 27h4v1h-4zM28 27h4v1h-4zM8 28h4v1h-4zM24 28h4v1h-4zM8 29h4v1h-4zM24 29h4v1h-4zM8 30h4v1h-4zM24 30h4v1h-4zM8 31h4v1h-4zM24 31h4v1h-4z"/>
<path fill="#0998d1" d="M4 0h4v1h-4zM20 0h4v1h-4zM4 1h4v1h-4zM20 1h4v1h-4zM4 2h4v1h-4zM20 2h4v1h-4zM4 3h4v1h-4zM20 3h4v1h-4zM0 4h4v1h-4zM16 4h4v1h-4zM0 5h4v1h-4zM16 5h4v1h-4zM0 6h4v1h-4zM16 6h4v1h-4zM0 7h4v1h-4zM16 7h4v1h-4zM4 16h4v1h-4zM20 16h4v1h-4zM4 17h4v1h-4zM20 17h4v1h-4zM4 18h4v1h-4zM20 18h4v1h-4zM4 19h4v1h-4zM20 19h4v1h-4zM0 20h4v1h-4zM16 20h4v1h-4zM0 21h4v1h-4zM16 21h4v1h-4zM0 22h4v1h-4zM16 22h4v1h-4zM0 23h4v1h-4zM16 23h4v1h-4z"/>
<path fill="#71bf80" d="M12 4h4v1h-4zM28 4h4v1h-4zM12 5h4v1h-4zM28 5h4v1h-4zM12 6h4v1h-4zM28 6h4v1h-4zM12 7h4v1h-4zM28 7h4v1h-4zM4 12h4v1h-4zM20 12h4v1h-4zM4 13h4v1h-4zM20 13h4v1h-4zM4 14h4v1h-4zM20 14h4v1h-4zM4 15h4v1h-4zM20 15h4v1h-4zM12 20h4v1h-4zM28 20h4v1h-4zM12 21h4v1h-4zM28 21h4v1h-4zM12 22h4v1h-4zM28 22h4v1h-4zM12 23h4v1h-4zM28 23h4v1h-4zM4 28h4v1h-4zM20 28h4v1h-4zM4 29h4v1h-4zM20 29h4v1h-4zM4 30h4v1h-4zM20 30h4v1h-4zM4 31h4v1h-4zM20 31h4v1h-4z"/>
<path fill="#7cbf7b" d="M8 0h4v1h-4zM24 0h4v1h-4zM8 1h4v1h-4zM24 1h4v1h-4zM8 2h4v1h-4zM24 2h4v1h-4zM8 3h4v1h-4zM24 3h4v1h-4zM0 8h4v1h-4zM16 8h4v1h-4zM0 9h4v1h-4zM16 9h4v1h-4zM0 10h4v1h-4zM16 10h4v1h-4zM0 11h4v1h-4zM16 11h4v1h-4zM8 16h4v1h-4zM24 16h4v1h-4zM8 17h4v1h-4zM24 17h4v1h-4zM8 18h4v1h-4zM24 18h4v1h-4zM8 19h4v1h-4zM24 19h4v1h-4zM0 24h4v1h-4zM16 24h4v1h-4zM0 25h4v1h-4zM16 25h4v1h-4zM0 26h4v1h-4zM16 26h4v1h-4zM0 27h4v1h-4zM16 27h4v1h-4z"/>
<path fill="#fad32a" d="M12 0h4v1h-4zM28 0h4v1h-4zM12 1h4v1h-4zM28 1h4v1h-4zM12 2h4v1h-4zM28 2h4v1h-4zM12 3h4v1h-4zM28 3h4v1h-4zM0 12h4v1h-4zM16 12h4v1h-4zM0 13h4v1h-4zM16 13h4v1h-4zM0 14h4v1h-4zM16 14h4v1h-4zM0 15h4v1h-4zM16 15h4v1h-4zM12 16h4v1h-4zM28 16h4v1h-4zM12 17h4v1h-4zM28 17h4v1h-4zM12 18h4v1h-4zM28 18h4v1h-4zM12 19h4v1h-4zM28 19h4v1h-4zM0 28h4v1h-4zM16 28h4v1h-4zM0 29h4v1h-4zM16 29h4v1h-4zM0 30h4v1h-4zM16 30h4v1h-4zM0 31h4v1h-4zM16 31h4v1h-4z"/>
</g>
<rect x="417.4" y="999.1" width="165.6" height="166.6" fill="none" stroke="#0aa650" stroke-width="2" stroke-dasharray="2 1.6"/>
<text x="93.6" y="1190.2" fill="#f7a823" font-size="14.2" class="i" stroke="#f7a823">N</text>
<text transform="translate(94.4,1182.3) scale(1.12,1.7)" fill="#f7a823" font-size="12" style="font-family:'DejaVu Sans',sans-serif" stroke="#f7a823">&#x2322;</text>
<text x="103" y="1193.5" fill="#f7a823" font-size="10.2" stroke="#f7a823">AV, C=1</text>
<text x="115.2" y="1214.5" text-anchor="middle" fill="#111" stroke="#111" font-size="14.5">Forced-fusion estimate</text>
<text x="307.3" y="1190.2" fill="#b60f19" font-size="14.2" class="i" stroke="#b60f19">N</text>
<text transform="translate(308.1,1182.3) scale(1.12,1.7)" fill="#b60f19" font-size="12" style="font-family:'DejaVu Sans',sans-serif" stroke="#b60f19">&#x2322;</text>
<text x="316.7" y="1193.5" fill="#b60f19" font-size="10.2" stroke="#b60f19">V, C=2</text>
<text x="327.2" y="1214.5" text-anchor="middle" fill="#111" stroke="#111" font-size="14.5">Visual estimate</text>
<text x="478.2" y="1190.2" fill="#0aa650" font-size="14.2" class="i" stroke="#0aa650">N</text>
<text transform="translate(479,1182.3) scale(1.12,1.7)" fill="#0aa650" font-size="12" style="font-family:'DejaVu Sans',sans-serif" stroke="#0aa650">&#x2322;</text>
<text x="487.6" y="1193.5" fill="#0aa650" font-size="10.2" stroke="#0aa650">A, C=2</text>
<text x="500.3" y="1214.5" text-anchor="middle" fill="#111" stroke="#111" font-size="14.5">Auditory estimate</text>
</g>
</svg></body></html>
